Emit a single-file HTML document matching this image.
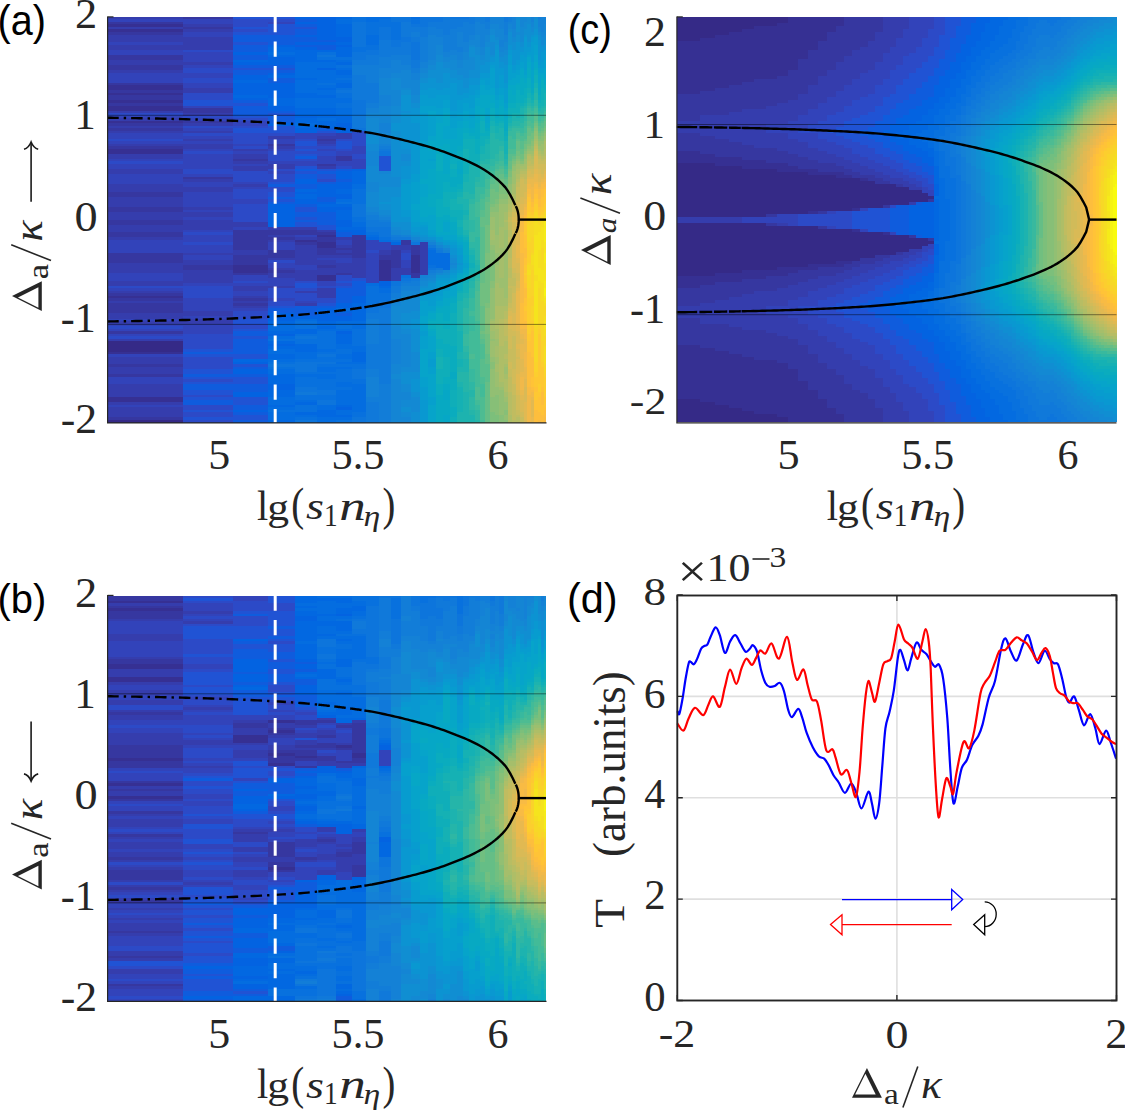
<!DOCTYPE html><html><head><meta charset="utf-8"><style>html,body{margin:0;padding:0;background:#fff;width:1125px;height:1110px;overflow:hidden}svg{display:block}text{font-family:"Liberation Serif", serif;fill:#262626}.s{font-family:"Liberation Sans", sans-serif;fill:#000}</style></head><body><svg width="1125" height="1110" viewBox="0 0 1125 1110"><g shape-rendering="crispEdges"><path fill="#353dad" d="M107 17h76v2h-76zM107 27h76v2h-76zM107 35h76v7h-76zM107 45h76v5h-76zM107 60h76v5h-76zM107 70h76v3h-76zM107 111h76v2h-76zM107 118h76v3h-76zM107 126h76v2h-76zM107 131h76v2h-76zM107 144h76v2h-76zM107 154h76v5h-76zM107 169h76v5h-76zM107 184h76v8h-76zM107 197h76v10h-76zM107 212h76v8h-76zM107 225h76v7h-76zM107 237h76v3h-76zM107 263h76v10h-76zM107 281h76v5h-76zM107 291h76v2h-76zM107 301h76v2h-76zM107 313h76v6h-76zM107 321h76v3h-76zM107 339h76v2h-76zM107 357h76v7h-76zM107 367h76v7h-76zM107 384h76v13h-76zM107 402h76v3h-76zM107 407h76v10h-76zM183 24h50v3h-50zM183 29h50v3h-50zM183 37h50v13h-50zM183 62h50v3h-50zM183 88h50v5h-50zM183 113h50v3h-50zM183 123h50v3h-50zM183 131h50v2h-50zM183 139h50v2h-50zM183 144h50v5h-50zM183 179h50v3h-50zM183 187h50v5h-50zM183 207h50v3h-50zM183 212h50v5h-50zM183 220h50v10h-50zM183 253h50v2h-50zM183 260h50v5h-50zM183 270h50v13h-50zM183 311h50v5h-50zM183 319h50v5h-50zM233 149h35v2h-35zM233 154h35v5h-35zM233 161h35v3h-35zM233 166h35v5h-35zM233 184h35v3h-35zM233 222h35v5h-35zM233 250h35v5h-35zM233 286h35v5h-35zM233 296h35v2h-35zM233 301h35v2h-35zM233 306h35v2h-35zM268 136h27v3h-27zM268 146h27v3h-27zM268 164h27v5h-27zM268 227h27v3h-27zM268 235h27v2h-27zM268 240h27v2h-27zM268 258h27v2h-27zM268 268h27v2h-27zM268 273h27v5h-27zM268 286h27v2h-27zM295 227h22v3h-22zM295 237h22v3h-22zM295 245h22v20h-22zM295 270h22v11h-22zM295 291h22v2h-22zM295 303h22v3h-22zM317 136h19v3h-19zM317 141h19v3h-19zM317 166h19v3h-19zM317 230h19v2h-19zM317 255h19v3h-19zM317 260h19v5h-19zM317 268h19v7h-19zM317 288h19v10h-19zM336 133h16v6h-16zM336 237h16v3h-16zM336 245h16v3h-16zM336 250h16v3h-16zM336 255h16v3h-16zM336 263h16v10h-16zM352 258h14v20h-14zM379 250h12v5h-12zM391 245h10v5h-10zM391 268h10v13h-10zM401 245h10v5h-10zM401 268h10v7h-10zM420 242h8v33h-8z"/><path fill="#3243ba" d="M107 19h76v3h-76zM107 42h76v3h-76zM107 50h76v5h-76zM107 73h76v10h-76zM107 116h76v2h-76zM107 133h76v6h-76zM107 141h76v3h-76zM107 159h76v2h-76zM107 164h76v5h-76zM107 174h76v10h-76zM107 240h76v13h-76zM107 273h76v8h-76zM107 288h76v3h-76zM107 319h76v2h-76zM107 324h76v2h-76zM107 329h76v2h-76zM107 334h76v2h-76zM107 354h76v3h-76zM107 377h76v7h-76zM107 405h76v2h-76zM183 19h50v5h-50zM183 32h50v5h-50zM183 52h50v10h-50zM183 65h50v3h-50zM183 73h50v5h-50zM183 83h50v5h-50zM183 106h50v2h-50zM183 118h50v3h-50zM183 128h50v3h-50zM183 136h50v3h-50zM183 141h50v3h-50zM183 149h50v2h-50zM183 154h50v15h-50zM183 174h50v3h-50zM183 182h50v5h-50zM183 192h50v15h-50zM183 210h50v2h-50zM183 217h50v3h-50zM183 230h50v2h-50zM183 235h50v7h-50zM183 245h50v8h-50zM183 255h50v5h-50zM183 283h50v3h-50zM183 298h50v13h-50zM183 316h50v3h-50zM183 324h50v10h-50zM233 121h35v5h-35zM233 144h35v2h-35zM233 151h35v3h-35zM233 164h35v2h-35zM233 182h35v2h-35zM233 187h35v2h-35zM233 199h35v5h-35zM233 227h35v3h-35zM233 275h35v6h-35zM233 283h35v3h-35zM233 291h35v5h-35zM233 308h35v3h-35zM268 22h27v2h-27zM268 139h27v5h-27zM268 149h27v2h-27zM268 161h27v3h-27zM268 171h27v3h-27zM268 242h27v8h-27zM268 263h27v5h-27zM268 278h27v8h-27zM268 298h27v3h-27zM295 133h22v6h-22zM295 161h22v5h-22zM295 235h22v2h-22zM295 265h22v5h-22zM295 301h22v2h-22zM317 133h19v3h-19zM317 144h19v2h-19zM317 149h19v2h-19zM317 156h19v8h-19zM317 258h19v2h-19zM317 281h19v5h-19zM336 151h16v5h-16zM336 161h16v5h-16zM336 240h16v5h-16zM336 258h16v5h-16zM352 146h14v8h-14zM352 159h14v10h-14zM366 240h13v10h-13zM366 253h13v30h-13zM379 242h12v8h-12zM401 250h10v3h-10zM401 260h10v8h-10z"/><path fill="#3637a0" d="M107 22h76v2h-76zM107 32h76v3h-76zM107 55h76v5h-76zM107 65h76v5h-76zM107 83h76v2h-76zM107 90h76v3h-76zM107 95h76v5h-76zM107 103h76v3h-76zM107 123h76v3h-76zM107 128h76v3h-76zM107 146h76v3h-76zM107 192h76v5h-76zM107 207h76v5h-76zM107 220h76v5h-76zM107 232h76v5h-76zM107 253h76v10h-76zM107 293h76v3h-76zM107 298h76v3h-76zM107 303h76v10h-76zM107 331h76v3h-76zM107 364h76v3h-76zM107 374h76v3h-76zM107 417h76v3h-76zM183 17h50v2h-50zM183 27h50v2h-50zM183 108h50v5h-50zM183 121h50v2h-50zM183 177h50v2h-50zM183 265h50v5h-50zM233 159h35v2h-35zM233 230h35v20h-35zM233 255h35v10h-35zM233 273h35v2h-35zM233 298h35v3h-35zM233 303h35v3h-35zM268 144h27v2h-27zM268 230h27v5h-27zM268 237h27v3h-27zM268 250h27v8h-27zM268 270h27v3h-27zM295 230h22v5h-22zM295 242h22v3h-22zM317 139h19v2h-19zM317 164h19v2h-19zM317 232h19v3h-19zM317 237h19v5h-19zM317 248h19v7h-19zM317 265h19v3h-19zM336 156h16v5h-16zM336 248h16v2h-16zM336 253h16v2h-16zM336 273h16v2h-16zM352 235h14v23h-14zM379 255h12v5h-12zM391 250h10v18h-10zM401 240h10v5h-10zM411 245h9v10h-9zM411 273h9v5h-9z"/><path fill="#363093" d="M107 24h76v3h-76zM107 29h76v3h-76zM107 85h76v5h-76zM107 93h76v2h-76zM107 100h76v3h-76zM107 106h76v5h-76zM107 121h76v2h-76zM107 149h76v5h-76zM107 296h76v2h-76zM107 352h76v2h-76zM107 397h76v5h-76zM233 265h35v8h-35zM295 240h22v2h-22zM317 235h19v2h-19zM317 242h19v6h-19zM317 275h19v6h-19zM379 260h12v21h-12zM411 255h9v18h-9z"/><path fill="#2c4ac7" d="M107 113h76v3h-76zM107 139h76v2h-76zM107 161h76v3h-76zM107 286h76v2h-76zM107 326h76v3h-76zM107 336h76v3h-76zM183 50h50v2h-50zM183 68h50v5h-50zM183 78h50v5h-50zM183 93h50v7h-50zM183 116h50v2h-50zM183 126h50v2h-50zM183 133h50v3h-50zM183 151h50v3h-50zM183 169h50v5h-50zM183 232h50v3h-50zM183 242h50v3h-50zM183 286h50v12h-50zM183 334h50v15h-50zM183 357h50v12h-50zM183 379h50v3h-50zM183 395h50v2h-50zM183 405h50v5h-50zM183 412h50v5h-50zM183 420h50v3h-50zM233 19h35v8h-35zM233 29h35v3h-35zM233 118h35v3h-35zM233 126h35v2h-35zM233 133h35v11h-35zM233 146h35v3h-35zM233 171h35v11h-35zM233 189h35v10h-35zM233 204h35v18h-35zM233 281h35v2h-35zM233 311h35v8h-35zM233 324h35v5h-35zM268 19h27v3h-27zM268 133h27v3h-27zM268 151h27v10h-27zM268 169h27v2h-27zM268 174h27v8h-27zM268 187h27v5h-27zM268 260h27v3h-27zM268 288h27v10h-27zM268 301h27v5h-27zM295 139h22v2h-22zM295 146h22v3h-22zM295 151h22v3h-22zM295 159h22v2h-22zM295 281h22v2h-22zM295 288h22v3h-22zM295 293h22v8h-22zM317 146h19v3h-19zM317 151h19v5h-19zM317 179h19v3h-19zM317 286h19v2h-19zM317 298h19v5h-19zM336 139h16v2h-16zM336 149h16v2h-16zM336 166h16v3h-16zM336 275h16v6h-16zM336 283h16v3h-16zM352 131h14v15h-14zM352 154h14v5h-14zM366 250h13v3h-13zM401 253h10v7h-10z"/><path fill="#352a87" d="M107 341h76v11h-76zM107 420h76v3h-76z"/><path fill="#2053d4" d="M183 100h50v6h-50zM183 349h50v3h-50zM183 354h50v3h-50zM183 369h50v5h-50zM183 377h50v2h-50zM183 382h50v2h-50zM183 390h50v5h-50zM183 397h50v3h-50zM183 410h50v2h-50zM183 417h50v3h-50zM233 17h35v2h-35zM233 27h35v2h-35zM233 32h35v3h-35zM233 42h35v3h-35zM233 68h35v2h-35zM233 103h35v3h-35zM233 116h35v2h-35zM233 128h35v5h-35zM233 319h35v5h-35zM233 329h35v2h-35zM233 336h35v3h-35zM233 354h35v5h-35zM233 364h35v3h-35zM233 377h35v7h-35zM233 397h35v8h-35zM233 415h35v5h-35zM268 17h27v2h-27zM268 24h27v11h-27zM268 68h27v2h-27zM268 113h27v3h-27zM268 126h27v7h-27zM268 182h27v2h-27zM268 192h27v5h-27zM268 199h27v3h-27zM268 306h27v2h-27zM295 27h22v2h-22zM295 141h22v5h-22zM295 149h22v2h-22zM295 154h22v2h-22zM295 166h22v3h-22zM295 171h22v3h-22zM295 207h22v5h-22zM295 217h22v3h-22zM295 222h22v5h-22zM295 283h22v5h-22zM317 131h19v2h-19zM317 169h19v2h-19zM317 174h19v5h-19zM317 225h19v5h-19zM317 303h19v3h-19zM336 141h16v8h-16zM336 281h16v2h-16zM336 286h16v2h-16zM352 278h14v3h-14zM379 156h12v15h-12z"/><path fill="#0f5cdd" d="M183 352h50v2h-50zM183 374h50v3h-50zM183 384h50v6h-50zM183 400h50v5h-50zM233 35h35v7h-35zM233 45h35v7h-35zM233 55h35v5h-35zM233 65h35v3h-35zM233 70h35v5h-35zM233 100h35v3h-35zM233 106h35v10h-35zM233 331h35v5h-35zM233 339h35v15h-35zM233 367h35v2h-35zM233 374h35v3h-35zM233 384h35v8h-35zM233 405h35v5h-35zM233 412h35v3h-35zM233 420h35v3h-35zM268 35h27v10h-27zM268 65h27v3h-27zM268 70h27v3h-27zM268 78h27v5h-27zM268 111h27v2h-27zM268 116h27v7h-27zM268 184h27v3h-27zM268 197h27v2h-27zM268 202h27v2h-27zM268 308h27v5h-27zM295 19h22v3h-22zM295 24h22v3h-22zM295 29h22v6h-22zM295 37h22v5h-22zM295 45h22v2h-22zM295 156h22v3h-22zM295 169h22v2h-22zM295 174h22v5h-22zM295 184h22v5h-22zM295 204h22v3h-22zM295 212h22v5h-22zM295 220h22v2h-22zM295 306h22v10h-22zM317 40h19v2h-19zM317 45h19v5h-19zM317 128h19v3h-19zM317 171h19v3h-19zM317 182h19v2h-19zM317 197h19v5h-19zM317 212h19v13h-19zM317 306h19v2h-19zM336 169h16v2h-16zM336 179h16v3h-16zM336 232h16v5h-16zM336 288h16v15h-16zM336 313h16v3h-16zM352 281h14v15h-14z"/><path fill="#0363e1" d="M233 52h35v3h-35zM233 62h35v3h-35zM233 75h35v5h-35zM233 83h35v12h-35zM233 98h35v2h-35zM233 362h35v2h-35zM233 369h35v5h-35zM233 392h35v5h-35zM233 410h35v2h-35zM268 45h27v2h-27zM268 57h27v8h-27zM268 73h27v2h-27zM268 83h27v15h-27zM268 106h27v5h-27zM268 123h27v3h-27zM268 204h27v23h-27zM268 313h27v8h-27zM268 334h27v2h-27zM268 344h27v2h-27zM268 384h27v6h-27zM295 17h22v2h-22zM295 22h22v2h-22zM295 35h22v2h-22zM295 42h22v3h-22zM295 47h22v3h-22zM295 116h22v2h-22zM295 128h22v5h-22zM295 179h22v5h-22zM295 192h22v2h-22zM295 199h22v5h-22zM295 316h22v3h-22zM317 17h19v23h-19zM317 42h19v3h-19zM317 68h19v2h-19zM317 184h19v13h-19zM317 202h19v2h-19zM317 207h19v5h-19zM317 308h19v13h-19zM336 37h16v5h-16zM336 45h16v2h-16zM336 123h16v10h-16zM336 171h16v8h-16zM336 182h16v7h-16zM336 194h16v5h-16zM336 207h16v3h-16zM336 220h16v7h-16zM336 230h16v2h-16zM336 303h16v5h-16zM336 311h16v2h-16zM336 316h16v5h-16zM336 331h16v3h-16zM336 407h16v3h-16zM352 169h14v2h-14zM352 230h14v5h-14zM352 296h14v7h-14zM379 281h12v5h-12z"/><path fill="#0268e1" d="M233 60h35v2h-35zM233 80h35v3h-35zM233 95h35v3h-35zM233 359h35v3h-35zM268 47h27v5h-27zM268 55h27v2h-27zM268 75h27v3h-27zM268 98h27v8h-27zM268 321h27v3h-27zM268 331h27v3h-27zM268 341h27v3h-27zM268 346h27v3h-27zM268 354h27v5h-27zM268 374h27v10h-27zM268 390h27v7h-27zM268 405h27v2h-27zM268 420h27v3h-27zM295 50h22v12h-22zM295 78h22v2h-22zM295 93h22v5h-22zM295 108h22v8h-22zM295 118h22v5h-22zM295 126h22v2h-22zM295 189h22v3h-22zM295 194h22v5h-22zM295 329h22v5h-22zM295 344h22v8h-22zM295 402h22v3h-22zM295 412h22v3h-22zM317 50h19v2h-19zM317 60h19v2h-19zM317 88h19v2h-19zM317 95h19v3h-19zM317 108h19v10h-19zM317 121h19v7h-19zM317 204h19v3h-19zM317 321h19v3h-19zM317 326h19v3h-19zM317 410h19v7h-19zM336 17h16v2h-16zM336 24h16v13h-16zM336 42h16v3h-16zM336 47h16v10h-16zM336 62h16v3h-16zM336 70h16v5h-16zM336 83h16v5h-16zM336 116h16v7h-16zM336 189h16v5h-16zM336 204h16v3h-16zM336 210h16v10h-16zM336 227h16v3h-16zM336 334h16v10h-16zM336 405h16v2h-16zM336 415h16v2h-16zM352 171h14v13h-14zM352 227h14v3h-14zM352 303h14v18h-14zM352 352h14v10h-14zM366 237h13v3h-13zM379 286h12v2h-12zM391 242h10v3h-10z"/><path fill="#046de0" d="M268 52h27v3h-27zM268 324h27v7h-27zM268 336h27v3h-27zM268 349h27v5h-27zM268 359h27v3h-27zM268 369h27v5h-27zM268 397h27v8h-27zM268 407h27v3h-27zM268 412h27v8h-27zM295 62h22v16h-22zM295 80h22v13h-22zM295 98h22v10h-22zM295 123h22v3h-22zM295 319h22v2h-22zM295 352h22v7h-22zM295 374h22v3h-22zM295 400h22v2h-22zM295 415h22v2h-22zM317 62h19v6h-19zM317 70h19v13h-19zM317 85h19v3h-19zM317 90h19v5h-19zM317 98h19v10h-19zM317 118h19v3h-19zM317 324h19v2h-19zM317 329h19v2h-19zM317 349h19v3h-19zM317 367h19v5h-19zM317 374h19v5h-19zM317 405h19v5h-19zM317 417h19v6h-19zM336 19h16v5h-16zM336 60h16v2h-16zM336 68h16v2h-16zM336 75h16v3h-16zM336 80h16v3h-16zM336 98h16v5h-16zM336 108h16v8h-16zM336 199h16v3h-16zM336 308h16v3h-16zM336 321h16v3h-16zM336 329h16v2h-16zM336 344h16v5h-16zM336 354h16v5h-16zM336 362h16v2h-16zM336 367h16v2h-16zM336 382h16v5h-16zM336 390h16v15h-16zM336 410h16v5h-16zM336 417h16v3h-16zM352 184h14v5h-14zM352 222h14v5h-14zM352 321h14v8h-14zM352 346h14v6h-14zM352 362h14v2h-14zM352 384h14v28h-14zM366 17h13v5h-13zM366 35h13v10h-13zM366 235h13v2h-13zM366 283h13v3h-13zM379 17h12v2h-12zM379 240h12v2h-12zM379 288h12v5h-12zM411 17h9v2h-9zM428 250h8v15h-8zM436 253h7v15h-7zM443 253h7v17h-7z"/><path fill="#0871de" d="M268 339h27v2h-27zM268 362h27v2h-27zM268 367h27v2h-27zM268 410h27v2h-27zM295 321h22v8h-22zM295 334h22v2h-22zM295 339h22v5h-22zM295 359h22v3h-22zM295 372h22v2h-22zM295 377h22v10h-22zM295 395h22v5h-22zM295 405h22v7h-22zM295 417h22v3h-22zM317 52h19v3h-19zM317 57h19v3h-19zM317 83h19v2h-19zM317 331h19v18h-19zM317 352h19v2h-19zM317 357h19v5h-19zM317 364h19v3h-19zM317 372h19v2h-19zM317 379h19v11h-19zM317 395h19v5h-19zM336 57h16v3h-16zM336 65h16v3h-16zM336 78h16v2h-16zM336 88h16v2h-16zM336 93h16v5h-16zM336 103h16v5h-16zM336 202h16v2h-16zM336 324h16v5h-16zM336 349h16v5h-16zM336 359h16v3h-16zM336 364h16v3h-16zM336 369h16v13h-16zM336 387h16v3h-16zM336 420h16v3h-16zM352 17h14v5h-14zM352 47h14v5h-14zM352 189h14v15h-14zM352 217h14v5h-14zM352 329h14v17h-14zM352 364h14v5h-14zM352 379h14v5h-14zM352 412h14v5h-14zM366 22h13v13h-13zM366 45h13v5h-13zM366 232h13v3h-13zM366 286h13v20h-13zM379 19h12v8h-12zM379 237h12v3h-12zM379 293h12v8h-12zM391 22h10v18h-10zM391 240h10v2h-10zM401 275h10v3h-10zM411 19h9v5h-9zM428 248h8v2h-8zM428 265h8v3h-8z"/><path fill="#0d75dc" d="M268 364h27v3h-27zM295 336h22v3h-22zM295 362h22v10h-22zM295 387h22v5h-22zM295 420h22v3h-22zM317 55h19v2h-19zM317 354h19v3h-19zM317 362h19v2h-19zM317 390h19v5h-19zM317 400h19v5h-19zM336 90h16v3h-16zM352 22h14v25h-14zM352 52h14v8h-14zM352 100h14v16h-14zM352 128h14v3h-14zM352 204h14v13h-14zM352 369h14v10h-14zM352 417h14v6h-14zM366 50h13v5h-13zM366 227h13v5h-13zM366 306h13v7h-13zM379 27h12v13h-12zM379 151h12v5h-12zM379 227h12v10h-12zM379 301h12v7h-12zM391 17h10v5h-10zM391 40h10v7h-10zM391 281h10v5h-10zM401 17h10v5h-10zM401 37h10v5h-10zM401 278h10v3h-10zM411 24h9v3h-9zM411 42h9v18h-9zM411 242h9v3h-9zM420 17h8v10h-8zM428 17h8v5h-8zM428 268h8v2h-8zM436 17h7v5h-7zM450 17h7v2h-7zM457 17h6v2h-6zM463 17h6v2h-6z"/><path fill="#1079da" d="M295 392h22v3h-22zM352 60h14v5h-14zM352 75h14v25h-14zM352 116h14v12h-14zM366 55h13v10h-13zM366 83h13v20h-13zM366 220h13v7h-13zM366 313h13v6h-13zM366 344h13v25h-13zM366 402h13v21h-13zM379 40h12v17h-12zM379 149h12v2h-12zM379 222h12v5h-12zM379 308h12v76h-12zM391 47h10v8h-10zM391 237h10v3h-10zM391 286h10v7h-10zM401 22h10v15h-10zM401 42h10v13h-10zM401 237h10v3h-10zM401 281h10v2h-10zM411 27h9v5h-9zM411 37h9v5h-9zM411 60h9v8h-9zM411 278h9v3h-9zM420 27h8v10h-8zM428 22h8v5h-8zM428 245h8v3h-8zM436 22h7v7h-7zM436 250h7v3h-7zM436 268h7v2h-7zM443 17h7v18h-7zM450 19h7v10h-7zM457 19h6v8h-6zM463 19h6v3h-6zM469 17h6v7h-6zM485 17h5v5h-5zM504 17h4v5h-4z"/><path fill="#127dd8" d="M352 65h14v10h-14zM366 65h13v18h-13zM366 103h13v5h-13zM366 215h13v5h-13zM366 319h13v25h-13zM366 369h13v8h-13zM366 397h13v5h-13zM379 57h12v11h-12zM379 146h12v3h-12zM379 220h12v2h-12zM379 384h12v39h-12zM391 55h10v5h-10zM391 235h10v2h-10zM391 293h10v5h-10zM401 55h10v10h-10zM401 283h10v3h-10zM411 32h9v5h-9zM411 68h9v5h-9zM411 240h9v2h-9zM411 281h9v5h-9zM420 37h8v25h-8zM428 27h8v8h-8zM428 270h8v3h-8zM436 29h7v8h-7zM436 248h7v2h-7zM443 35h7v17h-7zM450 29h7v21h-7zM457 27h6v5h-6zM457 47h6v5h-6zM463 22h6v20h-6zM469 24h6v11h-6zM475 17h5v5h-5zM480 17h5v7h-5zM485 22h5v7h-5zM504 22h4v13h-4zM508 17h4v5h-4zM538 17h3v2h-3z"/><path fill="#1481d6" d="M366 108h13v5h-13zM366 212h13v3h-13zM366 377h13v20h-13zM379 68h12v10h-12zM379 95h12v11h-12zM379 123h12v10h-12zM379 144h12v2h-12zM379 217h12v3h-12zM391 60h10v13h-10zM391 298h10v5h-10zM391 339h10v25h-10zM401 65h10v5h-10zM401 235h10v2h-10zM401 286h10v5h-10zM411 73h9v7h-9zM411 286h9v5h-9zM420 62h8v6h-8zM420 275h8v3h-8zM428 35h8v25h-8zM428 242h8v3h-8zM428 273h8v2h-8zM436 37h7v8h-7zM436 270h7v3h-7zM443 52h7v5h-7zM443 250h7v3h-7zM450 50h7v5h-7zM457 32h6v15h-6zM457 52h6v8h-6zM463 42h6v10h-6zM469 35h6v5h-6zM475 22h5v13h-5zM480 24h5v23h-5zM485 29h5v6h-5zM490 17h5v7h-5zM495 17h4v7h-4zM499 17h5v12h-5zM499 40h5v7h-5zM504 35h4v7h-4zM508 22h4v2h-4zM512 17h4v12h-4zM531 17h3v5h-3zM538 19h3v8h-3zM541 17h3v15h-3zM544 17h2v7h-2z"/><path fill="#1485d4" d="M366 113h13v5h-13zM366 151h13v15h-13zM366 182h13v10h-13zM366 207h13v5h-13zM379 78h12v17h-12zM379 106h12v17h-12zM379 133h12v11h-12zM379 171h12v3h-12zM379 215h12v2h-12zM391 73h10v5h-10zM391 90h10v16h-10zM391 230h10v5h-10zM391 303h10v3h-10zM391 326h10v13h-10zM391 364h10v10h-10zM391 379h10v44h-10zM401 70h10v18h-10zM401 291h10v5h-10zM401 334h10v33h-10zM401 392h10v8h-10zM401 417h10v6h-10zM411 80h9v15h-9zM411 237h9v3h-9zM411 291h9v5h-9zM420 68h8v5h-8zM420 240h8v2h-8zM420 278h8v3h-8zM428 60h8v5h-8zM428 275h8v3h-8zM436 45h7v10h-7zM436 245h7v3h-7zM443 57h7v5h-7zM443 248h7v2h-7zM450 55h7v5h-7zM450 263h7v2h-7zM457 60h6v8h-6zM463 52h6v8h-6zM469 40h6v5h-6zM475 35h5v12h-5zM480 47h5v8h-5zM485 35h5v7h-5zM490 24h5v5h-5zM495 24h4v13h-4zM499 29h5v11h-5zM499 47h5v5h-5zM504 42h4v8h-4zM508 24h4v5h-4zM512 29h4v8h-4zM520 17h4v10h-4zM524 17h3v5h-3zM531 22h3v5h-3zM538 27h3v5h-3zM541 32h3v5h-3zM544 24h2v11h-2z"/><path fill="#1389d3" d="M366 118h13v18h-13zM366 144h13v7h-13zM366 166h13v16h-13zM366 192h13v15h-13zM379 174h12v13h-12zM379 210h12v5h-12zM391 78h10v12h-10zM391 106h10v10h-10zM391 177h10v10h-10zM391 227h10v3h-10zM391 306h10v20h-10zM391 374h10v5h-10zM401 88h10v2h-10zM401 154h10v7h-10zM401 230h10v5h-10zM401 296h10v17h-10zM401 329h10v5h-10zM401 367h10v5h-10zM401 384h10v8h-10zM401 400h10v7h-10zM401 412h10v5h-10zM411 95h9v8h-9zM411 296h9v15h-9zM411 352h9v20h-9zM411 397h9v15h-9zM420 73h8v5h-8zM420 281h8v5h-8zM428 65h8v5h-8zM428 240h8v2h-8zM428 278h8v3h-8zM436 55h7v7h-7zM436 273h7v2h-7zM443 62h7v6h-7zM443 270h7v3h-7zM450 60h7v10h-7zM450 258h7v5h-7zM450 265h7v3h-7zM457 68h6v7h-6zM463 60h6v18h-6zM469 45h6v2h-6zM469 57h6v13h-6zM475 47h5v8h-5zM480 55h5v5h-5zM485 42h5v5h-5zM490 29h5v6h-5zM490 42h5v13h-5zM495 37h4v3h-4zM499 52h5v5h-5zM504 50h4v5h-4zM508 29h4v3h-4zM512 37h4v5h-4zM516 17h4v2h-4zM516 32h4v3h-4zM520 27h4v15h-4zM524 22h3v7h-3zM527 17h4v7h-4zM531 27h3v5h-3zM534 17h4v2h-4zM538 32h3v3h-3zM541 37h3v8h-3zM544 35h2v5h-2z"/><path fill="#108ed2" d="M366 136h13v8h-13zM379 187h12v15h-12zM379 204h12v6h-12zM391 116h10v7h-10zM391 131h10v46h-10zM391 187h10v10h-10zM391 222h10v5h-10zM401 90h10v5h-10zM401 111h10v2h-10zM401 149h10v5h-10zM401 161h10v5h-10zM401 222h10v8h-10zM401 313h10v16h-10zM401 372h10v12h-10zM401 407h10v5h-10zM411 103h9v5h-9zM411 235h9v2h-9zM411 311h9v8h-9zM411 329h9v23h-9zM411 372h9v7h-9zM411 392h9v5h-9zM411 412h9v11h-9zM420 78h8v5h-8zM420 237h8v3h-8zM420 286h8v2h-8zM428 70h8v8h-8zM428 281h8v2h-8zM436 62h7v21h-7zM436 242h7v3h-7zM443 68h7v5h-7zM443 245h7v3h-7zM443 273h7v2h-7zM450 70h7v8h-7zM450 255h7v3h-7zM450 268h7v2h-7zM457 75h6v5h-6zM463 78h6v10h-6zM469 47h6v10h-6zM469 70h6v8h-6zM475 55h5v23h-5zM480 60h5v5h-5zM485 47h5v15h-5zM490 35h5v7h-5zM490 55h5v2h-5zM495 40h4v5h-4zM499 57h5v5h-5zM504 55h4v10h-4zM508 32h4v13h-4zM512 42h4v8h-4zM516 19h4v13h-4zM516 35h4v7h-4zM520 42h4v5h-4zM524 29h3v6h-3zM527 24h4v18h-4zM531 32h3v3h-3zM534 19h4v10h-4zM538 35h3v5h-3zM541 45h3v2h-3zM544 40h2v5h-2z"/><path fill="#0c93d2" d="M379 202h12v2h-12zM391 123h10v8h-10zM391 197h10v25h-10zM401 95h10v16h-10zM401 113h10v36h-10zM401 166h10v13h-10zM401 217h10v5h-10zM411 108h9v8h-9zM411 123h9v18h-9zM411 232h9v3h-9zM411 319h9v10h-9zM411 379h9v13h-9zM420 83h8v7h-8zM420 235h8v2h-8zM420 288h8v3h-8zM428 78h8v10h-8zM428 237h8v3h-8zM428 283h8v8h-8zM436 83h7v7h-7zM436 275h7v3h-7zM443 73h7v15h-7zM443 275h7v3h-7zM450 78h7v5h-7zM450 248h7v7h-7zM450 270h7v3h-7zM457 80h6v15h-6zM457 263h6v2h-6zM463 88h6v5h-6zM469 78h6v7h-6zM475 78h5v7h-5zM480 65h5v8h-5zM485 62h5v11h-5zM490 57h5v5h-5zM495 45h4v5h-4zM499 62h5v6h-5zM504 65h4v18h-4zM508 45h4v5h-4zM512 50h4v15h-4zM516 42h4v18h-4zM520 47h4v5h-4zM524 35h3v2h-3zM527 42h4v5h-4zM531 35h3v2h-3zM534 29h4v6h-4zM538 40h3v20h-3zM541 47h3v5h-3zM544 45h2v5h-2z"/><path fill="#0998d1" d="M401 179h10v5h-10zM401 210h10v7h-10zM411 116h9v7h-9zM411 141h9v33h-9zM411 227h9v5h-9zM420 90h8v5h-8zM420 227h8v8h-8zM420 291h8v5h-8zM420 400h8v23h-8zM428 88h8v10h-8zM428 291h8v5h-8zM436 90h7v5h-7zM436 240h7v2h-7zM436 278h7v3h-7zM443 88h7v7h-7zM443 242h7v3h-7zM443 278h7v3h-7zM450 83h7v28h-7zM450 245h7v3h-7zM450 273h7v2h-7zM457 95h6v5h-6zM457 255h6v8h-6zM457 265h6v5h-6zM463 93h6v5h-6zM469 85h6v10h-6zM475 85h5v5h-5zM480 73h5v5h-5zM485 73h5v5h-5zM490 62h5v3h-5zM495 50h4v38h-4zM499 68h5v7h-5zM504 83h4v5h-4zM508 50h4v5h-4zM512 65h4v5h-4zM516 60h4v5h-4zM520 52h4v3h-4zM524 37h3v20h-3zM527 47h4v5h-4zM531 37h3v5h-3zM534 35h4v2h-4zM538 60h3v5h-3zM541 52h3v10h-3zM544 50h2v5h-2z"/><path fill="#079ccf" d="M401 184h10v26h-10zM411 174h9v8h-9zM411 222h9v5h-9zM420 95h8v11h-8zM420 113h8v28h-8zM420 225h8v2h-8zM420 296h8v5h-8zM420 331h8v5h-8zM420 387h8v13h-8zM428 98h8v8h-8zM428 235h8v2h-8zM428 296h8v10h-8zM428 359h8v8h-8zM436 95h7v13h-7zM436 237h7v3h-7zM436 281h7v15h-7zM443 95h7v5h-7zM443 240h7v2h-7zM443 281h7v2h-7zM450 111h7v7h-7zM450 242h7v3h-7zM450 275h7v3h-7zM457 100h6v13h-6zM457 248h6v7h-6zM457 270h6v3h-6zM463 98h6v5h-6zM469 95h6v13h-6zM475 90h5v5h-5zM480 78h5v2h-5zM485 78h5v7h-5zM490 65h5v3h-5zM495 88h4v7h-4zM499 75h5v13h-5zM504 88h4v15h-4zM508 55h4v10h-4zM512 70h4v3h-4zM516 65h4v5h-4zM520 55h4v7h-4zM524 57h3v13h-3zM527 52h4v3h-4zM531 42h3v20h-3zM534 37h4v8h-4zM538 65h3v3h-3zM541 62h3v6h-3zM544 55h2v5h-2z"/><path fill="#06a0cd" d="M411 182h9v22h-9zM411 210h9v12h-9zM420 106h8v7h-8zM420 141h8v8h-8zM420 222h8v3h-8zM420 301h8v15h-8zM420 324h8v7h-8zM420 336h8v13h-8zM420 377h8v10h-8zM428 106h8v5h-8zM428 116h8v20h-8zM428 159h8v2h-8zM428 230h8v5h-8zM428 306h8v5h-8zM428 352h8v7h-8zM428 367h8v7h-8zM428 397h8v8h-8zM436 108h7v8h-7zM436 296h7v5h-7zM443 100h7v8h-7zM443 283h7v8h-7zM450 118h7v10h-7zM450 240h7v2h-7zM450 278h7v3h-7zM457 113h6v8h-6zM457 245h6v3h-6zM463 103h6v8h-6zM463 263h6v5h-6zM469 108h6v10h-6zM475 95h5v3h-5zM480 80h5v5h-5zM485 85h5v5h-5zM490 68h5v20h-5zM495 95h4v5h-4zM499 88h5v7h-5zM504 103h4v5h-4zM508 65h4v15h-4zM512 73h4v5h-4zM516 70h4v5h-4zM520 62h4v6h-4zM524 70h3v5h-3zM527 55h4v2h-4zM531 62h3v8h-3zM534 45h4v10h-4zM538 68h3v5h-3zM541 68h3v5h-3zM544 60h2v8h-2z"/><path fill="#06a4ca" d="M411 204h9v6h-9zM420 149h8v30h-8zM420 184h8v13h-8zM420 217h8v5h-8zM420 316h8v8h-8zM420 349h8v28h-8zM428 111h8v5h-8zM428 136h8v5h-8zM428 151h8v8h-8zM428 161h8v8h-8zM428 215h8v15h-8zM428 311h8v2h-8zM428 336h8v16h-8zM428 374h8v23h-8zM428 405h8v18h-8zM436 116h7v7h-7zM436 235h7v2h-7zM436 301h7v5h-7zM443 108h7v5h-7zM443 126h7v13h-7zM443 222h7v10h-7zM443 235h7v5h-7zM443 291h7v7h-7zM450 128h7v11h-7zM450 235h7v5h-7zM450 281h7v15h-7zM457 121h6v7h-6zM457 242h6v3h-6zM457 273h6v2h-6zM463 111h6v10h-6zM463 260h6v3h-6zM463 268h6v2h-6zM469 118h6v10h-6zM475 98h5v8h-5zM480 85h5v10h-5zM485 90h5v5h-5zM485 108h5v15h-5zM490 88h5v7h-5zM495 100h4v8h-4zM499 95h5v5h-5zM504 108h4v3h-4zM508 80h4v5h-4zM512 78h4v7h-4zM516 75h4v8h-4zM520 68h4v2h-4zM524 75h3v3h-3zM527 57h4v5h-4zM531 70h3v13h-3zM534 55h4v7h-4zM538 73h3v10h-3zM541 73h3v2h-3zM544 68h2v10h-2z"/><path fill="#06a7c6" d="M420 179h8v5h-8zM420 197h8v20h-8zM428 141h8v10h-8zM428 169h8v25h-8zM428 207h8v8h-8zM428 313h8v6h-8zM428 331h8v5h-8zM436 123h7v23h-7zM436 232h7v3h-7zM436 306h7v2h-7zM443 113h7v13h-7zM443 139h7v5h-7zM443 154h7v20h-7zM443 220h7v2h-7zM443 232h7v3h-7zM443 298h7v8h-7zM443 390h7v10h-7zM443 415h7v8h-7zM450 139h7v15h-7zM450 230h7v5h-7zM450 296h7v2h-7zM457 128h6v18h-6zM457 169h6v5h-6zM457 240h6v2h-6zM457 275h6v3h-6zM463 121h6v7h-6zM463 255h6v5h-6zM463 270h6v3h-6zM469 128h6v5h-6zM475 106h5v17h-5zM480 95h5v13h-5zM485 95h5v13h-5zM485 123h5v5h-5zM490 95h5v8h-5zM495 108h4v8h-4zM499 100h5v6h-5zM504 111h4v7h-4zM508 85h4v5h-4zM512 85h4v10h-4zM516 83h4v2h-4zM520 70h4v8h-4zM524 78h3v5h-3zM527 62h4v6h-4zM531 83h3v5h-3zM534 62h4v6h-4zM538 83h3v7h-3zM541 75h3v3h-3zM544 78h2v5h-2z"/><path fill="#07a9c2" d="M428 194h8v13h-8zM428 319h8v2h-8zM428 329h8v2h-8zM436 146h7v8h-7zM436 171h7v28h-7zM436 217h7v15h-7zM436 308h7v5h-7zM436 395h7v28h-7zM443 144h7v10h-7zM443 174h7v8h-7zM443 215h7v5h-7zM443 306h7v15h-7zM443 384h7v6h-7zM443 400h7v15h-7zM450 154h7v5h-7zM450 177h7v10h-7zM450 222h7v8h-7zM450 298h7v5h-7zM450 372h7v7h-7zM457 146h6v5h-6zM457 161h6v8h-6zM457 174h6v10h-6zM457 237h6v3h-6zM457 278h6v5h-6zM463 128h6v5h-6zM463 242h6v13h-6zM463 273h6v2h-6zM469 133h6v3h-6zM475 123h5v16h-5zM480 108h5v8h-5zM485 128h5v3h-5zM490 103h5v5h-5zM495 116h4v2h-4zM499 106h5v10h-5zM504 118h4v13h-4zM508 90h4v13h-4zM512 95h4v8h-4zM516 85h4v5h-4zM520 78h4v17h-4zM524 83h3v5h-3zM527 68h4v10h-4zM531 88h3v5h-3zM534 68h4v2h-4zM538 90h3v5h-3zM541 78h3v2h-3zM544 83h2v2h-2z"/><path fill="#0aacbe" d="M428 321h8v8h-8zM436 154h7v17h-7zM436 199h7v18h-7zM436 313h7v11h-7zM436 339h7v10h-7zM436 384h7v11h-7zM443 182h7v10h-7zM443 207h7v8h-7zM443 321h7v8h-7zM443 344h7v13h-7zM443 377h7v7h-7zM450 159h7v5h-7zM450 169h7v8h-7zM450 187h7v5h-7zM450 217h7v5h-7zM450 303h7v10h-7zM450 346h7v26h-7zM450 379h7v11h-7zM450 407h7v10h-7zM457 151h6v10h-6zM457 184h6v5h-6zM457 235h6v2h-6zM457 283h6v8h-6zM463 133h6v6h-6zM463 240h6v2h-6zM463 275h6v3h-6zM469 136h6v3h-6zM475 139h5v15h-5zM480 116h5v5h-5zM480 133h5v3h-5zM485 131h5v5h-5zM490 108h5v8h-5zM495 118h4v5h-4zM499 116h5v5h-5zM504 131h4v5h-4zM508 103h4v5h-4zM512 103h4v5h-4zM516 90h4v13h-4zM520 95h4v8h-4zM524 88h3v10h-3zM527 78h4v10h-4zM531 93h3v2h-3zM534 70h4v5h-4zM538 95h3v5h-3zM541 80h3v8h-3zM544 85h2v5h-2z"/><path fill="#0faeb9" d="M436 324h7v15h-7zM436 349h7v8h-7zM436 369h7v15h-7zM443 192h7v15h-7zM443 329h7v15h-7zM443 357h7v20h-7zM450 164h7v5h-7zM450 192h7v7h-7zM450 210h7v7h-7zM450 313h7v33h-7zM450 390h7v17h-7zM450 417h7v6h-7zM457 189h6v3h-6zM457 210h6v10h-6zM457 227h6v8h-6zM457 291h6v2h-6zM463 139h6v10h-6zM463 159h6v15h-6zM463 237h6v3h-6zM463 278h6v5h-6zM469 139h6v25h-6zM469 263h6v5h-6zM475 154h5v7h-5zM480 121h5v12h-5zM480 136h5v10h-5zM485 136h5v3h-5zM490 116h5v5h-5zM495 123h4v3h-4zM499 121h5v2h-5zM504 136h4v5h-4zM508 108h4v10h-4zM512 108h4v5h-4zM516 103h4v10h-4zM520 103h4v3h-4zM524 98h3v5h-3zM527 88h4v5h-4zM531 95h3v5h-3zM534 75h4v8h-4zM538 100h3v3h-3zM541 88h3v12h-3zM544 90h2v3h-2z"/><path fill="#15b1b4" d="M436 357h7v12h-7zM450 199h7v11h-7zM457 192h6v5h-6zM457 204h6v6h-6zM457 220h6v7h-6zM457 293h6v8h-6zM457 331h6v21h-6zM457 359h6v8h-6zM457 387h6v25h-6zM463 149h6v10h-6zM463 174h6v8h-6zM463 210h6v5h-6zM463 235h6v2h-6zM463 283h6v10h-6zM469 164h6v2h-6zM469 255h6v8h-6zM469 268h6v5h-6zM475 161h5v5h-5zM480 146h5v8h-5zM485 139h5v5h-5zM490 121h5v5h-5zM495 126h4v7h-4zM499 123h5v5h-5zM504 141h4v13h-4zM508 118h4v5h-4zM512 113h4v3h-4zM516 113h4v5h-4zM520 106h4v2h-4zM524 103h3v3h-3zM527 93h4v5h-4zM531 100h3v3h-3zM534 83h4v5h-4zM538 103h3v5h-3zM541 100h3v6h-3zM544 93h2v7h-2z"/><path fill="#1db3af" d="M457 197h6v7h-6zM457 301h6v30h-6zM457 352h6v7h-6zM457 367h6v5h-6zM457 382h6v5h-6zM457 412h6v11h-6zM463 182h6v10h-6zM463 199h6v11h-6zM463 215h6v5h-6zM463 230h6v5h-6zM463 293h6v5h-6zM463 359h6v13h-6zM463 392h6v31h-6zM469 166h6v28h-6zM469 250h6v5h-6zM469 273h6v8h-6zM469 415h6v8h-6zM475 166h5v11h-5zM475 265h5v5h-5zM480 154h5v7h-5zM485 144h5v15h-5zM490 126h5v7h-5zM495 133h4v6h-4zM499 128h5v13h-5zM504 154h4v5h-4zM508 123h4v3h-4zM512 116h4v5h-4zM516 118h4v3h-4zM520 108h4v10h-4zM524 106h3v2h-3zM527 98h4v5h-4zM531 103h3v3h-3zM534 88h4v5h-4zM538 108h3v3h-3zM541 106h3v2h-3zM544 100h2v6h-2z"/><path fill="#25b5a9" d="M457 372h6v10h-6zM463 192h6v7h-6zM463 220h6v10h-6zM463 298h6v10h-6zM463 352h6v7h-6zM463 372h6v20h-6zM469 194h6v5h-6zM469 248h6v2h-6zM469 281h6v7h-6zM469 390h6v7h-6zM469 410h6v5h-6zM475 177h5v5h-5zM475 260h5v5h-5zM475 270h5v5h-5zM475 420h5v3h-5zM480 161h5v3h-5zM485 159h5v5h-5zM490 133h5v26h-5zM495 139h4v15h-4zM499 141h5v5h-5zM504 159h4v5h-4zM508 126h4v2h-4zM512 121h4v5h-4zM516 121h4v5h-4zM520 118h4v5h-4zM524 108h3v5h-3zM527 103h4v3h-4zM531 106h3v2h-3zM534 93h4v7h-4zM538 111h3v2h-3zM541 108h3v5h-3zM544 106h2v2h-2z"/><path fill="#2eb7a4" d="M463 308h6v26h-6zM463 346h6v6h-6zM469 199h6v5h-6zM469 220h6v12h-6zM469 242h6v6h-6zM469 288h6v10h-6zM469 382h6v8h-6zM469 397h6v13h-6zM475 182h5v5h-5zM475 237h5v23h-5zM475 275h5v3h-5zM475 410h5v10h-5zM480 164h5v23h-5zM485 164h5v5h-5zM490 159h5v7h-5zM495 154h4v7h-4zM499 146h5v5h-5zM504 164h4v2h-4zM508 128h4v3h-4zM512 126h4v2h-4zM516 126h4v2h-4zM520 123h4v5h-4zM524 113h3v8h-3zM527 106h4v2h-4zM531 108h3v3h-3zM534 100h4v6h-4zM538 113h3v3h-3zM541 113h3v3h-3zM544 108h2v3h-2z"/><path fill="#38b99e" d="M463 334h6v12h-6zM469 204h6v16h-6zM469 232h6v10h-6zM469 298h6v13h-6zM469 316h6v15h-6zM469 369h6v13h-6zM475 187h5v15h-5zM475 217h5v20h-5zM475 278h5v3h-5zM475 405h5v5h-5zM480 187h5v7h-5zM485 169h5v10h-5zM490 166h5v5h-5zM495 161h4v3h-4zM499 151h5v10h-5zM504 166h4v3h-4zM508 131h4v5h-4zM512 128h4v11h-4zM516 128h4v3h-4zM520 128h4v5h-4zM524 121h3v5h-3zM527 108h4v5h-4zM531 111h3v5h-3zM534 106h4v2h-4zM538 116h3v5h-3zM541 116h3v2h-3zM544 111h2v2h-2z"/><path fill="#42bb98" d="M469 311h6v5h-6zM469 331h6v23h-6zM469 359h6v10h-6zM475 202h5v15h-5zM475 281h5v10h-5zM475 321h5v66h-5zM475 400h5v5h-5zM480 194h5v5h-5zM480 384h5v13h-5zM480 420h5v3h-5zM485 179h5v10h-5zM490 171h5v6h-5zM495 164h4v5h-4zM499 161h5v5h-5zM504 169h4v5h-4zM508 136h4v13h-4zM512 139h4v10h-4zM516 131h4v2h-4zM520 133h4v3h-4zM524 126h3v7h-3zM527 113h4v8h-4zM531 116h3v7h-3zM534 108h4v5h-4zM538 121h3v2h-3zM541 118h3v3h-3zM544 113h2v3h-2z"/><path fill="#4dbc92" d="M469 354h6v5h-6zM475 291h5v30h-5zM475 387h5v13h-5zM480 199h5v11h-5zM480 344h5v15h-5zM480 377h5v7h-5zM480 397h5v23h-5zM485 189h5v8h-5zM490 177h5v2h-5zM495 169h4v2h-4zM499 166h5v3h-5zM504 174h4v3h-4zM508 149h4v5h-4zM512 149h4v5h-4zM516 133h4v6h-4zM520 136h4v5h-4zM524 133h3v6h-3zM527 121h4v5h-4zM531 123h3v5h-3zM534 113h4v3h-4zM538 123h3v3h-3zM541 121h3v2h-3zM544 116h2v2h-2z"/><path fill="#59bd8c" d="M480 210h5v7h-5zM480 227h5v41h-5zM480 339h5v5h-5zM480 359h5v18h-5zM485 197h5v5h-5zM485 364h5v18h-5zM490 179h5v5h-5zM495 171h4v8h-4zM499 169h5v5h-5zM504 177h4v2h-4zM508 154h4v7h-4zM512 154h4v2h-4zM516 139h4v2h-4zM520 141h4v8h-4zM524 139h3v2h-3zM527 126h4v2h-4zM531 128h3v3h-3zM534 116h4v5h-4zM538 126h3v5h-3zM541 123h3v5h-3zM544 118h2v3h-2z"/><path fill="#65be86" d="M480 217h5v10h-5zM480 268h5v15h-5zM480 306h5v25h-5zM480 334h5v5h-5zM485 202h5v23h-5zM485 354h5v10h-5zM485 382h5v41h-5zM490 184h5v5h-5zM495 179h4v13h-4zM499 174h5v5h-5zM504 179h4v5h-4zM508 161h4v8h-4zM512 156h4v3h-4zM516 141h4v10h-4zM520 149h4v5h-4zM524 141h3v3h-3zM527 128h4v8h-4zM531 131h3v2h-3zM534 121h4v2h-4zM538 131h3v2h-3zM541 128h3v3h-3zM544 121h2v5h-2z"/><path fill="#71bf80" d="M480 283h5v23h-5zM480 331h5v3h-5zM485 225h5v28h-5zM485 268h5v35h-5zM485 334h5v20h-5zM490 189h5v15h-5zM495 192h4v7h-4zM499 179h5v5h-5zM504 184h4v5h-4zM508 169h4v2h-4zM512 159h4v2h-4zM516 151h4v5h-4zM520 154h4v5h-4zM524 144h3v5h-3zM527 136h4v8h-4zM531 133h3v6h-3zM534 123h4v3h-4zM538 133h3v3h-3zM541 131h3v2h-3zM544 126h2v2h-2z"/><path fill="#7cbf7b" d="M485 253h5v15h-5zM485 303h5v5h-5zM485 324h5v10h-5zM490 204h5v3h-5zM490 265h5v16h-5zM490 412h5v11h-5zM495 199h4v5h-4zM495 415h4v8h-4zM499 184h5v10h-5zM504 189h4v5h-4zM508 171h4v6h-4zM512 161h4v3h-4zM516 156h4v3h-4zM520 159h4v2h-4zM524 149h3v2h-3zM527 144h4v2h-4zM531 139h3v2h-3zM534 126h4v2h-4zM538 136h3v3h-3zM541 133h3v3h-3zM544 128h2v3h-2z"/><path fill="#87bf77" d="M485 308h5v16h-5zM490 207h5v5h-5zM490 250h5v15h-5zM490 281h5v7h-5zM490 362h5v7h-5zM490 397h5v15h-5zM495 204h4v8h-4zM495 395h4v20h-4zM499 194h5v5h-5zM499 415h5v8h-5zM504 194h4v5h-4zM504 410h4v5h-4zM504 420h4v3h-4zM508 177h4v7h-4zM512 164h4v2h-4zM516 159h4v2h-4zM520 161h4v3h-4zM524 151h3v3h-3zM527 146h4v3h-4zM531 141h3v5h-3zM534 128h4v3h-4zM538 139h3v2h-3zM541 136h3v5h-3zM544 131h2v2h-2z"/><path fill="#92bf73" d="M490 212h5v5h-5zM490 245h5v5h-5zM490 288h5v31h-5zM490 339h5v2h-5zM490 357h5v5h-5zM490 369h5v28h-5zM495 212h4v23h-4zM495 253h4v12h-4zM495 387h4v8h-4zM499 199h5v5h-5zM499 390h5v25h-5zM504 199h4v5h-4zM504 402h4v8h-4zM504 415h4v5h-4zM508 184h4v10h-4zM512 166h4v5h-4zM516 161h4v3h-4zM524 154h3v5h-3zM527 149h4v2h-4zM531 146h3v5h-3zM534 131h4v5h-4zM538 141h3v5h-3zM541 141h3v3h-3zM544 133h2v3h-2z"/><path fill="#9cbf6f" d="M490 217h5v13h-5zM490 240h5v5h-5zM490 319h5v2h-5zM490 331h5v8h-5zM490 341h5v16h-5zM495 235h4v18h-4zM495 265h4v18h-4zM495 339h4v7h-4zM495 357h4v7h-4zM495 372h4v15h-4zM499 204h5v23h-5zM499 248h5v7h-5zM499 278h5v10h-5zM499 387h5v3h-5zM504 204h4v8h-4zM504 230h4v68h-4zM504 367h4v7h-4zM504 397h4v5h-4zM508 194h4v5h-4zM512 171h4v13h-4zM516 164h4v5h-4zM520 164h4v2h-4zM524 159h3v5h-3zM527 151h4v3h-4zM531 151h3v3h-3zM534 136h4v3h-4zM538 146h3v3h-3zM541 144h3v7h-3zM544 136h2v3h-2z"/><path fill="#a5be6b" d="M490 230h5v10h-5zM490 321h5v10h-5zM495 283h4v23h-4zM495 329h4v10h-4zM495 346h4v11h-4zM495 364h4v8h-4zM499 227h5v21h-5zM499 255h5v23h-5zM499 288h5v18h-5zM499 382h5v5h-5zM504 212h4v8h-4zM504 222h4v8h-4zM504 298h4v8h-4zM504 364h4v3h-4zM504 374h4v5h-4zM504 392h4v5h-4zM508 199h4v5h-4zM512 184h4v10h-4zM516 169h4v5h-4zM520 166h4v3h-4zM524 164h3v5h-3zM531 154h3v2h-3zM534 139h4v2h-4zM538 149h3v2h-3zM541 151h3v3h-3zM544 139h2v2h-2z"/><path fill="#aebe67" d="M495 306h4v23h-4zM499 306h5v13h-5zM499 346h5v36h-5zM504 220h4v2h-4zM504 306h4v5h-4zM504 341h4v13h-4zM504 359h4v5h-4zM504 379h4v13h-4zM508 204h4v6h-4zM508 415h4v8h-4zM512 194h4v5h-4zM516 174h4v5h-4zM520 169h4v2h-4zM524 169h3v2h-3zM527 154h4v2h-4zM531 156h3v3h-3zM534 141h4v3h-4zM538 151h3v3h-3zM541 154h3v2h-3zM544 141h2v8h-2z"/><path fill="#b7bd64" d="M499 319h5v27h-5zM504 311h4v8h-4zM504 336h4v5h-4zM504 354h4v5h-4zM508 210h4v2h-4zM508 230h4v7h-4zM508 242h4v16h-4zM508 268h4v10h-4zM508 392h4v23h-4zM512 199h4v3h-4zM512 420h4v3h-4zM516 179h4v3h-4zM516 417h4v6h-4zM520 171h4v3h-4zM524 171h3v3h-3zM527 156h4v5h-4zM531 159h3v5h-3zM534 144h4v2h-4zM538 154h3v2h-3zM541 156h3v3h-3zM544 149h2v7h-2z"/><path fill="#c0bc60" d="M504 319h4v17h-4zM508 212h4v5h-4zM508 222h4v8h-4zM508 237h4v5h-4zM508 258h4v10h-4zM508 278h4v8h-4zM508 288h4v15h-4zM508 377h4v15h-4zM512 202h4v5h-4zM512 278h4v8h-4zM512 395h4v25h-4zM516 182h4v5h-4zM516 415h4v2h-4zM520 174h4v3h-4zM524 174h3v5h-3zM527 161h4v5h-4zM531 164h3v2h-3zM534 146h4v3h-4zM538 156h3v3h-3zM541 159h3v2h-3zM544 156h2v3h-2z"/><path fill="#c8bc5d" d="M508 217h4v5h-4zM508 286h4v2h-4zM508 303h4v5h-4zM508 349h4v13h-4zM508 369h4v8h-4zM512 207h4v5h-4zM512 273h4v5h-4zM512 286h4v7h-4zM512 336h4v33h-4zM512 384h4v11h-4zM516 187h4v15h-4zM516 410h4v5h-4zM520 177h4v2h-4zM520 417h4v6h-4zM524 179h3v5h-3zM527 166h4v3h-4zM531 166h3v3h-3zM534 149h4v2h-4zM538 159h3v5h-3zM541 161h3v3h-3zM544 159h2v5h-2z"/><path fill="#d1bb59" d="M508 308h4v3h-4zM508 329h4v20h-4zM508 362h4v7h-4zM512 212h4v5h-4zM512 222h4v18h-4zM512 268h4v5h-4zM512 293h4v20h-4zM512 331h4v5h-4zM512 369h4v15h-4zM516 202h4v10h-4zM516 273h4v8h-4zM516 357h4v2h-4zM516 395h4v15h-4zM520 179h4v18h-4zM520 412h4v5h-4zM524 184h3v8h-3zM527 169h4v2h-4zM531 169h3v5h-3zM534 151h4v5h-4zM538 164h3v5h-3zM541 164h3v10h-3zM544 164h2v5h-2z"/><path fill="#d9ba56" d="M508 311h4v5h-4zM508 324h4v5h-4zM512 217h4v5h-4zM512 240h4v28h-4zM512 313h4v18h-4zM516 212h4v8h-4zM516 263h4v10h-4zM516 281h4v7h-4zM516 331h4v13h-4zM516 349h4v8h-4zM516 359h4v15h-4zM516 390h4v5h-4zM520 197h4v7h-4zM520 400h4v12h-4zM524 192h3v7h-3zM524 387h3v15h-3zM524 420h3v3h-3zM527 171h4v6h-4zM531 174h3v3h-3zM534 156h4v13h-4zM538 169h3v5h-3zM541 174h3v3h-3zM544 169h2v2h-2z"/><path fill="#e1b952" d="M508 316h4v8h-4zM516 220h4v25h-4zM516 258h4v5h-4zM516 288h4v3h-4zM516 326h4v5h-4zM516 344h4v5h-4zM516 374h4v16h-4zM520 204h4v6h-4zM520 339h4v5h-4zM520 359h4v13h-4zM520 395h4v5h-4zM524 199h3v5h-3zM524 379h3v8h-3zM524 402h3v18h-3zM527 177h4v2h-4zM531 177h3v2h-3zM531 400h3v17h-3zM534 169h4v5h-4zM538 174h3v8h-3zM541 177h3v2h-3zM544 171h2v3h-2z"/><path fill="#e9b94e" d="M516 245h4v13h-4zM516 291h4v35h-4zM520 210h4v5h-4zM520 334h4v5h-4zM520 344h4v15h-4zM520 372h4v5h-4zM520 390h4v5h-4zM524 204h3v3h-3zM524 339h3v13h-3zM524 367h3v12h-3zM527 179h4v5h-4zM531 179h3v8h-3zM531 397h3v3h-3zM531 417h3v6h-3zM534 174h4v8h-4zM538 182h3v5h-3zM541 179h3v3h-3zM544 174h2v5h-2z"/><path fill="#f1b94a" d="M520 215h4v7h-4zM520 329h4v5h-4zM520 377h4v13h-4zM524 207h3v3h-3zM524 329h3v10h-3zM524 352h3v15h-3zM527 184h4v5h-4zM527 395h4v28h-4zM531 187h3v12h-3zM531 392h3v5h-3zM534 182h4v2h-4zM538 187h3v2h-3zM541 182h3v2h-3zM544 179h2v3h-2z"/><path fill="#f8bb44" d="M520 222h4v10h-4zM520 253h4v50h-4zM520 324h4v5h-4zM524 210h3v5h-3zM524 324h3v5h-3zM527 189h4v5h-4zM527 387h4v8h-4zM531 199h3v3h-3zM531 390h3v2h-3zM534 184h4v5h-4zM538 189h3v10h-3zM538 420h3v3h-3zM541 184h3v5h-3zM544 182h2v5h-2zM544 417h2v6h-2z"/><path fill="#fdbe3d" d="M520 232h4v21h-4zM520 303h4v21h-4zM524 215h3v2h-3zM524 248h3v10h-3zM524 288h3v10h-3zM524 321h3v3h-3zM527 194h4v3h-4zM527 352h4v35h-4zM531 202h3v5h-3zM531 357h3v20h-3zM531 387h3v3h-3zM534 189h4v5h-4zM534 410h4v13h-4zM538 199h3v8h-3zM538 412h3v8h-3zM541 189h3v8h-3zM541 392h3v13h-3zM541 415h3v8h-3zM544 187h2v2h-2zM544 410h2v7h-2z"/><path fill="#ffc337" d="M524 217h3v3h-3zM524 235h3v13h-3zM524 258h3v7h-3zM524 283h3v5h-3zM524 298h3v8h-3zM524 311h3v10h-3zM527 197h4v5h-4zM527 341h4v11h-4zM531 207h3v5h-3zM531 331h3v26h-3zM531 377h3v10h-3zM534 194h4v5h-4zM534 387h4v5h-4zM534 400h4v10h-4zM538 207h3v3h-3zM538 397h3v15h-3zM541 197h3v10h-3zM541 387h3v5h-3zM541 405h3v10h-3zM544 189h2v5h-2zM544 407h2v3h-2z"/><path fill="#fec832" d="M524 220h3v15h-3zM524 265h3v8h-3zM524 275h3v8h-3zM524 306h3v5h-3zM527 202h4v10h-4zM527 334h4v7h-4zM531 212h3v3h-3zM531 326h3v5h-3zM534 199h4v5h-4zM534 377h4v10h-4zM534 392h4v8h-4zM538 210h3v5h-3zM538 334h3v50h-3zM538 392h3v5h-3zM541 207h3v5h-3zM541 367h3v20h-3zM544 194h2v10h-2zM544 397h2v10h-2z"/><path fill="#fcce2e" d="M524 273h3v2h-3zM527 212h4v5h-4zM527 250h4v13h-4zM527 298h4v36h-4zM531 215h3v2h-3zM531 296h3v10h-3zM531 321h3v5h-3zM534 204h4v6h-4zM534 372h4v5h-4zM538 215h3v2h-3zM538 329h3v5h-3zM538 384h3v8h-3zM541 212h3v3h-3zM541 362h3v5h-3zM544 204h2v6h-2zM544 377h2v20h-2z"/><path fill="#fad32a" d="M527 217h4v8h-4zM527 242h4v8h-4zM527 263h4v2h-4zM527 288h4v10h-4zM531 217h3v5h-3zM531 237h3v16h-3zM531 270h3v26h-3zM531 306h3v15h-3zM534 210h4v2h-4zM534 362h4v10h-4zM538 217h3v3h-3zM538 326h3v3h-3zM541 215h3v2h-3zM541 341h3v21h-3zM544 210h2v2h-2zM544 372h2v5h-2z"/><path fill="#f7d826" d="M527 225h4v17h-4zM527 265h4v5h-4zM527 275h4v13h-4zM531 222h3v15h-3zM531 253h3v2h-3zM531 265h3v5h-3zM534 212h4v5h-4zM534 326h4v36h-4zM538 220h3v5h-3zM538 288h3v38h-3zM541 217h3v3h-3zM541 248h3v12h-3zM541 301h3v40h-3zM544 212h2v3h-2zM544 306h2v10h-2zM544 336h2v10h-2zM544 364h2v8h-2z"/><path fill="#f5de21" d="M527 270h4v5h-4zM531 255h3v10h-3zM534 217h4v18h-4zM534 275h4v6h-4zM534 324h4v2h-4zM538 225h3v7h-3zM538 250h3v18h-3zM538 281h3v7h-3zM541 220h3v7h-3zM541 240h3v8h-3zM541 260h3v10h-3zM541 283h3v18h-3zM544 215h2v2h-2zM544 303h2v3h-2zM544 316h2v5h-2zM544 329h2v7h-2zM544 346h2v18h-2z"/><path fill="#f5e41d" d="M534 235h4v40h-4zM534 281h4v43h-4zM538 232h3v18h-3zM538 268h3v13h-3zM541 227h3v13h-3zM541 270h3v13h-3zM544 217h2v5h-2zM544 242h2v11h-2zM544 263h2v18h-2zM544 298h2v5h-2zM544 321h2v8h-2z"/><path fill="#f5eb18" d="M544 222h2v20h-2zM544 253h2v10h-2zM544 281h2v7h-2zM544 296h2v2h-2z"/><path fill="#f6f313" d="M544 288h2v8h-2z"/></g><g shape-rendering="crispEdges" transform="translate(0 578.5)"><path fill="#3637a0" d="M107 17h76v5h-76zM107 27h76v2h-76zM107 32h76v8h-76zM107 80h76v5h-76zM107 133h76v3h-76zM107 166h76v13h-76zM107 182h76v7h-76zM107 202h76v2h-76zM107 210h76v2h-76zM107 220h76v2h-76zM107 232h76v3h-76zM107 255h76v3h-76zM107 278h76v3h-76zM107 291h76v10h-76zM107 308h76v3h-76zM107 321h76v3h-76zM107 352h76v2h-76zM107 377h76v2h-76zM107 405h76v2h-76zM233 144h35v5h-35zM233 253h35v2h-35zM268 149h27v2h-27zM268 154h27v2h-27zM268 171h27v3h-27zM268 177h27v7h-27zM268 263h27v15h-27zM268 283h27v5h-27zM268 291h27v2h-27zM295 141h22v5h-22zM295 166h22v3h-22zM295 171h22v6h-22zM295 179h22v3h-22zM295 187h22v2h-22zM295 278h22v3h-22zM317 141h19v3h-19zM317 156h19v3h-19zM317 164h19v5h-19zM317 177h19v5h-19zM317 260h19v3h-19zM336 146h16v3h-16zM336 169h16v2h-16zM336 182h16v2h-16zM336 273h16v5h-16zM352 144h14v30h-14zM352 179h14v5h-14zM352 263h14v12h-14zM352 286h14v12h-14z"/><path fill="#363093" d="M107 22h76v2h-76zM107 29h76v3h-76zM107 85h76v5h-76zM107 98h76v5h-76zM107 179h76v3h-76zM107 204h76v3h-76zM107 217h76v3h-76zM233 156h35v8h-35zM268 141h27v3h-27zM268 151h27v3h-27zM268 174h27v3h-27zM268 184h27v3h-27zM268 288h27v3h-27zM295 177h22v2h-22zM336 166h16v3h-16zM352 174h14v5h-14z"/><path fill="#353dad" d="M107 24h76v3h-76zM107 40h76v2h-76zM107 55h76v7h-76zM107 78h76v2h-76zM107 90h76v8h-76zM107 103h76v3h-76zM107 111h76v5h-76zM107 121h76v5h-76zM107 131h76v2h-76zM107 136h76v5h-76zM107 154h76v12h-76zM107 207h76v3h-76zM107 212h76v5h-76zM107 235h76v2h-76zM107 240h76v8h-76zM107 258h76v2h-76zM107 263h76v7h-76zM107 273h76v5h-76zM107 281h76v2h-76zM107 288h76v3h-76zM107 301h76v2h-76zM107 306h76v2h-76zM107 311h76v2h-76zM107 319h76v2h-76zM107 329h76v2h-76zM107 339h76v2h-76zM107 344h76v8h-76zM107 354h76v3h-76zM107 372h76v5h-76zM107 379h76v3h-76zM107 390h76v5h-76zM107 407h76v3h-76zM183 32h50v3h-50zM183 42h50v3h-50zM183 128h50v3h-50zM183 161h50v5h-50zM183 187h50v2h-50zM183 303h50v3h-50zM233 141h35v3h-35zM233 149h35v7h-35zM233 164h35v2h-35zM233 171h35v8h-35zM233 250h35v3h-35zM233 255h35v8h-35zM233 268h35v5h-35zM233 278h35v5h-35zM233 291h35v7h-35zM268 144h27v5h-27zM268 156h27v3h-27zM268 166h27v5h-27zM268 250h27v3h-27zM268 278h27v5h-27zM295 146h22v3h-22zM295 154h22v5h-22zM295 161h22v5h-22zM295 169h22v2h-22zM295 260h22v8h-22zM295 281h22v2h-22zM317 139h19v2h-19zM317 151h19v5h-19zM317 169h19v2h-19zM317 182h19v5h-19zM317 248h19v5h-19zM317 258h19v2h-19zM317 263h19v2h-19zM317 275h19v6h-19zM317 291h19v5h-19zM336 144h16v2h-16zM336 164h16v2h-16zM336 184h16v5h-16zM336 265h16v3h-16zM336 270h16v3h-16zM336 278h16v15h-16zM352 141h14v3h-14zM352 184h14v3h-14zM352 250h14v3h-14zM352 258h14v5h-14zM352 275h14v11h-14z"/><path fill="#3243ba" d="M107 42h76v13h-76zM107 62h76v16h-76zM107 106h76v5h-76zM107 116h76v5h-76zM107 141h76v5h-76zM107 149h76v5h-76zM107 189h76v3h-76zM107 194h76v8h-76zM107 222h76v3h-76zM107 227h76v5h-76zM107 237h76v3h-76zM107 248h76v2h-76zM107 253h76v2h-76zM107 260h76v3h-76zM107 270h76v3h-76zM107 286h76v2h-76zM107 313h76v3h-76zM107 324h76v5h-76zM107 331h76v3h-76zM107 336h76v3h-76zM107 341h76v3h-76zM107 357h76v10h-76zM107 395h76v5h-76zM107 402h76v3h-76zM107 410h76v7h-76zM107 420h76v3h-76zM183 24h50v8h-50zM183 35h50v2h-50zM183 40h50v2h-50zM183 85h50v5h-50zM183 118h50v3h-50zM183 126h50v2h-50zM183 131h50v2h-50zM183 136h50v10h-50zM183 154h50v2h-50zM183 159h50v2h-50zM183 166h50v3h-50zM183 179h50v3h-50zM183 184h50v3h-50zM183 189h50v5h-50zM183 215h50v5h-50zM183 222h50v5h-50zM183 240h50v5h-50zM183 265h50v5h-50zM183 278h50v3h-50zM183 291h50v7h-50zM183 301h50v2h-50zM183 306h50v2h-50zM233 17h35v5h-35zM233 136h35v5h-35zM233 166h35v5h-35zM233 179h35v3h-35zM233 199h35v3h-35zM233 248h35v2h-35zM233 275h35v3h-35zM233 283h35v5h-35zM233 298h35v3h-35zM233 306h35v5h-35zM233 319h35v2h-35zM268 123h27v3h-27zM268 131h27v2h-27zM268 136h27v5h-27zM268 159h27v7h-27zM268 227h27v5h-27zM268 242h27v3h-27zM268 248h27v2h-27zM268 253h27v5h-27zM268 260h27v3h-27zM268 293h27v5h-27zM268 301h27v2h-27zM295 133h22v3h-22zM295 151h22v3h-22zM295 182h22v5h-22zM295 253h22v2h-22zM295 268h22v2h-22zM295 273h22v5h-22zM295 288h22v13h-22zM317 144h19v2h-19zM317 149h19v2h-19zM317 159h19v5h-19zM317 174h19v3h-19zM317 255h19v3h-19zM317 265h19v10h-19zM317 281h19v2h-19zM317 288h19v3h-19zM336 149h16v2h-16zM336 154h16v10h-16zM336 171h16v11h-16zM336 255h16v10h-16zM336 268h16v2h-16zM336 293h16v8h-16zM352 253h14v5h-14zM379 171h12v16h-12z"/><path fill="#2c4ac7" d="M107 126h76v5h-76zM107 146h76v3h-76zM107 192h76v2h-76zM107 225h76v2h-76zM107 250h76v3h-76zM107 283h76v3h-76zM107 303h76v3h-76zM107 316h76v3h-76zM107 334h76v2h-76zM107 367h76v5h-76zM107 387h76v3h-76zM107 400h76v2h-76zM107 417h76v3h-76zM183 17h50v2h-50zM183 22h50v2h-50zM183 37h50v3h-50zM183 45h50v2h-50zM183 60h50v15h-50zM183 78h50v7h-50zM183 90h50v3h-50zM183 106h50v2h-50zM183 116h50v2h-50zM183 121h50v5h-50zM183 133h50v3h-50zM183 146h50v8h-50zM183 156h50v3h-50zM183 169h50v10h-50zM183 182h50v2h-50zM183 194h50v3h-50zM183 202h50v5h-50zM183 210h50v5h-50zM183 220h50v2h-50zM183 227h50v8h-50zM183 237h50v3h-50zM183 250h50v10h-50zM183 270h50v3h-50zM183 275h50v3h-50zM183 281h50v2h-50zM183 286h50v5h-50zM183 298h50v3h-50zM183 316h50v3h-50zM183 329h50v2h-50zM183 336h50v3h-50zM183 349h50v3h-50zM183 362h50v2h-50zM183 374h50v3h-50zM233 22h35v10h-35zM233 37h35v10h-35zM233 187h35v2h-35zM233 240h35v8h-35zM233 263h35v5h-35zM233 273h35v2h-35zM233 288h35v3h-35zM233 301h35v5h-35zM233 311h35v8h-35zM233 321h35v3h-35zM268 24h27v8h-27zM268 62h27v3h-27zM268 106h27v7h-27zM268 121h27v2h-27zM268 126h27v5h-27zM268 133h27v3h-27zM268 187h27v2h-27zM268 192h27v5h-27zM268 222h27v5h-27zM268 232h27v3h-27zM268 240h27v2h-27zM268 245h27v3h-27zM268 258h27v2h-27zM268 298h27v3h-27zM268 303h27v3h-27zM295 131h22v2h-22zM295 136h22v5h-22zM295 149h22v2h-22zM295 248h22v5h-22zM295 255h22v5h-22zM295 270h22v3h-22zM295 283h22v5h-22zM317 146h19v3h-19zM317 171h19v3h-19zM317 253h19v2h-19zM317 283h19v5h-19zM336 151h16v3h-16z"/><path fill="#2053d4" d="M107 382h76v5h-76zM183 19h50v3h-50zM183 47h50v13h-50zM183 75h50v3h-50zM183 93h50v13h-50zM183 108h50v8h-50zM183 197h50v2h-50zM183 207h50v3h-50zM183 235h50v2h-50zM183 245h50v5h-50zM183 260h50v5h-50zM183 273h50v2h-50zM183 283h50v3h-50zM183 308h50v8h-50zM183 319h50v5h-50zM183 326h50v3h-50zM183 331h50v5h-50zM183 339h50v5h-50zM183 346h50v3h-50zM183 352h50v5h-50zM183 359h50v3h-50zM183 364h50v10h-50zM183 377h50v7h-50zM183 395h50v2h-50zM183 400h50v12h-50zM233 32h35v3h-35zM233 47h35v13h-35zM233 65h35v5h-35zM233 118h35v18h-35zM233 182h35v5h-35zM233 189h35v10h-35zM233 202h35v2h-35zM233 235h35v5h-35zM233 324h35v2h-35zM233 412h35v3h-35zM268 17h27v7h-27zM268 32h27v15h-27zM268 50h27v7h-27zM268 60h27v2h-27zM268 65h27v8h-27zM268 80h27v3h-27zM268 90h27v5h-27zM268 103h27v3h-27zM268 113h27v3h-27zM268 118h27v3h-27zM268 189h27v3h-27zM268 197h27v2h-27zM268 220h27v2h-27zM268 235h27v5h-27zM268 306h27v2h-27zM268 311h27v10h-27zM295 128h22v3h-22zM295 159h22v2h-22z"/><path fill="#0f5cdd" d="M183 199h50v3h-50zM183 324h50v2h-50zM183 344h50v2h-50zM183 357h50v2h-50zM183 384h50v3h-50zM183 390h50v5h-50zM183 397h50v3h-50zM183 412h50v5h-50zM183 420h50v3h-50zM233 35h35v2h-35zM233 62h35v3h-35zM233 70h35v10h-35zM233 93h35v2h-35zM233 103h35v3h-35zM233 111h35v7h-35zM233 204h35v6h-35zM233 212h35v5h-35zM233 232h35v3h-35zM233 326h35v3h-35zM233 336h35v3h-35zM233 354h35v5h-35zM233 369h35v5h-35zM233 410h35v2h-35zM233 415h35v2h-35zM268 47h27v3h-27zM268 57h27v3h-27zM268 73h27v7h-27zM268 83h27v7h-27zM268 95h27v8h-27zM268 116h27v2h-27zM268 204h27v11h-27zM268 308h27v3h-27zM268 321h27v3h-27zM268 367h27v5h-27zM295 83h22v2h-22zM295 90h22v3h-22zM295 100h22v6h-22zM295 116h22v12h-22zM295 189h22v3h-22zM295 194h22v3h-22zM295 245h22v3h-22zM295 303h22v10h-22zM336 189h16v3h-16zM336 417h16v6h-16z"/><path fill="#0363e1" d="M183 387h50v3h-50zM183 417h50v3h-50zM233 60h35v2h-35zM233 80h35v13h-35zM233 95h35v8h-35zM233 106h35v2h-35zM233 210h35v2h-35zM233 217h35v8h-35zM233 230h35v2h-35zM233 329h35v7h-35zM233 339h35v10h-35zM233 359h35v10h-35zM233 379h35v8h-35zM233 397h35v3h-35zM233 405h35v5h-35zM268 199h27v5h-27zM268 217h27v3h-27zM268 324h27v15h-27zM268 372h27v2h-27zM295 37h22v5h-22zM295 80h22v3h-22zM295 85h22v5h-22zM295 106h22v10h-22zM295 192h22v2h-22zM295 197h22v2h-22zM295 207h22v3h-22zM295 215h22v5h-22zM295 227h22v5h-22zM295 242h22v3h-22zM295 301h22v2h-22zM295 313h22v16h-22zM317 136h19v3h-19zM317 187h19v7h-19zM317 245h19v3h-19zM317 296h19v5h-19zM336 35h16v2h-16zM336 192h16v2h-16zM336 245h16v10h-16zM336 415h16v2h-16zM352 298h14v3h-14zM379 166h12v5h-12zM379 258h12v5h-12z"/><path fill="#0268e1" d="M233 108h35v3h-35zM233 225h35v5h-35zM233 349h35v5h-35zM233 374h35v5h-35zM233 387h35v10h-35zM233 400h35v2h-35zM233 417h35v6h-35zM268 215h27v2h-27zM268 339h27v5h-27zM268 346h27v6h-27zM268 364h27v3h-27zM268 379h27v5h-27zM268 390h27v2h-27zM268 395h27v15h-27zM268 417h27v6h-27zM295 17h22v7h-22zM295 27h22v2h-22zM295 32h22v5h-22zM295 42h22v20h-22zM295 65h22v15h-22zM295 93h22v2h-22zM295 98h22v2h-22zM295 199h22v8h-22zM295 210h22v5h-22zM295 220h22v2h-22zM295 225h22v2h-22zM295 232h22v3h-22zM295 240h22v2h-22zM295 329h22v2h-22zM295 339h22v2h-22zM295 392h22v3h-22zM317 19h19v3h-19zM317 35h19v2h-19zM317 42h19v5h-19zM317 55h19v2h-19zM317 90h19v10h-19zM317 123h19v3h-19zM317 133h19v3h-19zM317 212h19v5h-19zM317 242h19v3h-19zM317 301h19v5h-19zM317 331h19v8h-19zM336 19h16v5h-16zM336 29h16v6h-16zM336 42h16v10h-16zM336 60h16v2h-16zM336 80h16v8h-16zM336 100h16v3h-16zM336 113h16v3h-16zM336 128h16v8h-16zM336 139h16v5h-16zM336 194h16v5h-16zM336 242h16v3h-16zM336 308h16v3h-16zM336 346h16v3h-16zM336 405h16v5h-16zM336 412h16v3h-16zM352 27h14v5h-14zM352 139h14v2h-14zM352 187h14v2h-14zM352 199h14v8h-14zM352 227h14v3h-14zM352 245h14v5h-14zM352 301h14v12h-14zM379 164h12v2h-12zM379 187h12v2h-12zM379 263h12v15h-12z"/><path fill="#046de0" d="M233 402h35v3h-35zM268 344h27v2h-27zM268 352h27v12h-27zM268 374h27v3h-27zM268 384h27v6h-27zM268 392h27v3h-27zM295 24h22v3h-22zM295 29h22v3h-22zM295 62h22v3h-22zM295 95h22v3h-22zM295 222h22v3h-22zM295 235h22v5h-22zM295 331h22v8h-22zM295 341h22v5h-22zM295 354h22v5h-22zM295 387h22v5h-22zM295 395h22v2h-22zM295 407h22v3h-22zM317 17h19v2h-19zM317 22h19v13h-19zM317 37h19v5h-19zM317 47h19v8h-19zM317 57h19v3h-19zM317 83h19v2h-19zM317 111h19v12h-19zM317 126h19v2h-19zM317 131h19v2h-19zM317 194h19v3h-19zM317 204h19v8h-19zM317 217h19v5h-19zM317 240h19v2h-19zM317 306h19v5h-19zM317 313h19v3h-19zM317 326h19v5h-19zM317 339h19v5h-19zM317 346h19v3h-19zM317 359h19v3h-19zM317 367h19v2h-19zM336 17h16v2h-16zM336 24h16v5h-16zM336 37h16v3h-16zM336 52h16v3h-16zM336 57h16v3h-16zM336 62h16v3h-16zM336 70h16v10h-16zM336 98h16v2h-16zM336 103h16v3h-16zM336 111h16v2h-16zM336 116h16v12h-16zM336 136h16v3h-16zM336 199h16v3h-16zM336 301h16v7h-16zM336 311h16v18h-16zM336 344h16v2h-16zM336 349h16v3h-16zM336 362h16v2h-16zM336 387h16v5h-16zM336 397h16v5h-16zM336 410h16v2h-16zM352 22h14v5h-14zM352 32h14v5h-14zM352 57h14v23h-14zM352 118h14v21h-14zM352 189h14v10h-14zM352 207h14v20h-14zM352 230h14v15h-14zM352 313h14v49h-14zM352 420h14v3h-14zM379 161h12v3h-12zM379 189h12v3h-12z"/><path fill="#0871de" d="M268 377h27v2h-27zM268 410h27v7h-27zM295 346h22v3h-22zM295 359h22v5h-22zM295 367h22v15h-22zM295 384h22v3h-22zM295 397h22v3h-22zM295 410h22v7h-22zM317 68h19v7h-19zM317 80h19v3h-19zM317 85h19v5h-19zM317 100h19v11h-19zM317 128h19v3h-19zM317 197h19v7h-19zM317 222h19v8h-19zM317 235h19v5h-19zM317 311h19v2h-19zM317 316h19v10h-19zM317 344h19v2h-19zM317 349h19v10h-19zM317 362h19v5h-19zM317 369h19v3h-19zM317 384h19v6h-19zM336 40h16v2h-16zM336 55h16v2h-16zM336 65h16v5h-16zM336 88h16v10h-16zM336 106h16v5h-16zM336 202h16v13h-16zM336 222h16v5h-16zM336 232h16v10h-16zM336 329h16v2h-16zM336 339h16v5h-16zM336 352h16v2h-16zM336 359h16v3h-16zM336 364h16v3h-16zM336 374h16v3h-16zM336 379h16v8h-16zM336 392h16v5h-16zM336 402h16v3h-16zM352 17h14v5h-14zM352 37h14v3h-14zM352 55h14v2h-14zM352 80h14v3h-14zM352 106h14v12h-14zM352 362h14v10h-14zM352 412h14v8h-14zM366 17h13v10h-13zM366 78h13v7h-13zM379 159h12v2h-12zM379 192h12v2h-12zM379 253h12v5h-12zM391 19h10v21h-10zM420 17h8v7h-8zM428 17h8v2h-8zM457 17h6v18h-6z"/><path fill="#0d75dc" d="M295 349h22v5h-22zM295 364h22v3h-22zM295 382h22v2h-22zM295 405h22v2h-22zM295 417h22v3h-22zM317 60h19v8h-19zM317 75h19v5h-19zM317 230h19v5h-19zM317 374h19v5h-19zM317 382h19v2h-19zM317 390h19v27h-19zM336 215h16v2h-16zM336 220h16v2h-16zM336 227h16v3h-16zM336 331h16v8h-16zM336 354h16v5h-16zM336 367h16v7h-16zM336 377h16v2h-16zM352 40h14v2h-14zM352 50h14v5h-14zM352 83h14v23h-14zM352 372h14v40h-14zM366 27h13v51h-13zM366 85h13v5h-13zM379 17h12v2h-12zM379 149h12v10h-12zM379 194h12v3h-12zM379 248h12v5h-12zM379 278h12v10h-12zM391 17h10v2h-10zM391 40h10v25h-10zM411 17h9v10h-9zM420 24h8v16h-8zM428 19h8v18h-8zM436 17h7v2h-7zM436 29h7v11h-7zM443 17h7v5h-7zM450 17h7v2h-7zM457 35h6v12h-6zM463 17h6v10h-6zM490 17h5v5h-5z"/><path fill="#1079da" d="M295 400h22v2h-22zM295 420h22v3h-22zM317 372h19v2h-19zM317 379h19v3h-19zM317 417h19v3h-19zM336 217h16v3h-16zM336 230h16v2h-16zM352 42h14v8h-14zM366 90h13v3h-13zM366 103h13v13h-13zM366 149h13v7h-13zM366 174h13v15h-13zM366 197h13v2h-13zM366 377h13v7h-13zM379 19h12v33h-12zM379 78h12v12h-12zM379 121h12v28h-12zM379 197h12v5h-12zM379 242h12v6h-12zM379 288h12v25h-12zM379 362h12v15h-12zM379 412h12v11h-12zM391 65h10v5h-10zM411 27h9v5h-9zM420 40h8v7h-8zM428 37h8v25h-8zM436 19h7v10h-7zM436 40h7v7h-7zM443 22h7v10h-7zM450 19h7v8h-7zM457 47h6v8h-6zM463 27h6v10h-6zM469 17h6v2h-6zM475 17h5v5h-5zM490 22h5v5h-5zM499 17h5v18h-5z"/><path fill="#127dd8" d="M295 402h22v3h-22zM317 420h19v3h-19zM366 93h13v10h-13zM366 116h13v2h-13zM366 144h13v5h-13zM366 156h13v18h-13zM366 189h13v8h-13zM366 199h13v11h-13zM366 291h13v5h-13zM366 321h13v10h-13zM366 372h13v5h-13zM366 384h13v6h-13zM366 402h13v8h-13zM379 52h12v8h-12zM379 68h12v10h-12zM379 90h12v8h-12zM379 100h12v21h-12zM379 202h12v13h-12zM379 237h12v5h-12zM379 313h12v13h-12zM379 354h12v8h-12zM379 377h12v7h-12zM379 407h12v5h-12zM391 70h10v8h-10zM401 17h10v20h-10zM401 42h10v15h-10zM411 32h9v25h-9zM420 47h8v15h-8zM428 62h8v3h-8zM436 47h7v5h-7zM443 32h7v28h-7zM450 27h7v30h-7zM457 55h6v7h-6zM463 37h6v18h-6zM469 19h6v38h-6zM475 22h5v18h-5zM480 17h5v5h-5zM485 17h5v7h-5zM490 27h5v18h-5zM495 17h4v15h-4zM499 35h5v12h-5zM541 17h3v5h-3z"/><path fill="#1481d6" d="M366 118h13v10h-13zM366 136h13v8h-13zM366 210h13v22h-13zM366 263h13v2h-13zM366 283h13v8h-13zM366 296h13v5h-13zM366 313h13v8h-13zM366 331h13v10h-13zM366 349h13v23h-13zM366 390h13v12h-13zM366 410h13v13h-13zM379 60h12v8h-12zM379 98h12v2h-12zM379 215h12v22h-12zM379 326h12v10h-12zM379 346h12v8h-12zM379 384h12v23h-12zM391 78h10v17h-10zM391 169h10v18h-10zM391 324h10v2h-10zM391 344h10v13h-10zM391 387h10v33h-10zM401 37h10v5h-10zM401 57h10v5h-10zM411 57h9v13h-9zM420 62h8v11h-8zM428 65h8v5h-8zM428 420h8v3h-8zM436 52h7v8h-7zM436 62h7v11h-7zM443 60h7v5h-7zM450 57h7v8h-7zM450 68h7v12h-7zM457 62h6v8h-6zM463 55h6v18h-6zM469 57h6v5h-6zM475 40h5v7h-5zM480 22h5v15h-5zM485 24h5v5h-5zM490 45h5v7h-5zM490 55h5v5h-5zM495 32h4v15h-4zM499 47h5v5h-5zM508 17h4v12h-4zM512 17h4v12h-4zM516 29h4v3h-4zM520 17h4v2h-4zM524 17h3v23h-3zM527 17h4v2h-4zM531 17h3v2h-3zM541 22h3v5h-3z"/><path fill="#1485d4" d="M366 128h13v8h-13zM366 232h13v31h-13zM366 265h13v18h-13zM366 301h13v12h-13zM366 341h13v8h-13zM379 336h12v10h-12zM391 95h10v21h-10zM391 149h10v20h-10zM391 187h10v7h-10zM391 260h10v41h-10zM391 316h10v8h-10zM391 326h10v8h-10zM391 339h10v5h-10zM391 357h10v7h-10zM391 374h10v13h-10zM391 420h10v3h-10zM401 62h10v11h-10zM401 95h10v16h-10zM401 329h10v10h-10zM401 390h10v5h-10zM411 70h9v20h-9zM420 73h8v17h-8zM428 70h8v3h-8zM428 88h8v10h-8zM428 415h8v5h-8zM436 60h7v2h-7zM436 73h7v5h-7zM443 65h7v5h-7zM450 65h7v3h-7zM450 80h7v5h-7zM457 70h6v8h-6zM463 73h6v5h-6zM469 62h6v3h-6zM475 47h5v5h-5zM480 37h5v28h-5zM485 29h5v21h-5zM490 52h5v3h-5zM490 60h5v8h-5zM495 47h4v8h-4zM499 52h5v8h-5zM504 17h4v5h-4zM504 35h4v7h-4zM508 29h4v3h-4zM512 29h4v6h-4zM516 17h4v12h-4zM516 32h4v8h-4zM520 19h4v23h-4zM524 40h3v7h-3zM527 19h4v8h-4zM531 19h3v5h-3zM541 27h3v5h-3zM544 17h2v10h-2z"/><path fill="#1389d3" d="M391 116h10v12h-10zM391 139h10v10h-10zM391 194h10v8h-10zM391 212h10v48h-10zM391 301h10v15h-10zM391 334h10v5h-10zM391 364h10v10h-10zM401 73h10v22h-10zM401 111h10v5h-10zM401 326h10v3h-10zM401 339h10v2h-10zM401 384h10v6h-10zM401 395h10v10h-10zM411 90h9v3h-9zM411 367h9v12h-9zM411 400h9v5h-9zM411 417h9v6h-9zM420 90h8v10h-8zM420 412h8v8h-8zM428 73h8v15h-8zM428 98h8v5h-8zM428 395h8v20h-8zM436 78h7v2h-7zM443 70h7v13h-7zM443 420h7v3h-7zM450 85h7v5h-7zM457 78h6v20h-6zM457 417h6v6h-6zM463 78h6v15h-6zM463 420h6v3h-6zM469 65h6v15h-6zM475 52h5v3h-5zM475 68h5v12h-5zM480 65h5v8h-5zM485 50h5v10h-5zM490 68h5v5h-5zM495 55h4v7h-4zM499 60h5v20h-5zM504 22h4v13h-4zM504 42h4v5h-4zM508 32h4v5h-4zM512 35h4v25h-4zM516 40h4v7h-4zM520 42h4v5h-4zM524 47h3v5h-3zM527 27h4v10h-4zM531 24h3v5h-3zM538 17h3v18h-3zM541 32h3v10h-3zM544 27h2v5h-2z"/><path fill="#108ed2" d="M391 128h10v11h-10zM391 202h10v10h-10zM401 116h10v2h-10zM401 311h10v8h-10zM401 321h10v5h-10zM401 341h10v5h-10zM401 367h10v17h-10zM401 405h10v18h-10zM411 93h9v7h-9zM411 364h9v3h-9zM411 379h9v3h-9zM411 395h9v5h-9zM411 405h9v12h-9zM420 100h8v3h-8zM420 400h8v12h-8zM420 420h8v3h-8zM428 103h8v3h-8zM428 387h8v8h-8zM436 80h7v3h-7zM436 93h7v10h-7zM436 400h7v10h-7zM443 83h7v12h-7zM443 415h7v5h-7zM450 90h7v5h-7zM450 405h7v18h-7zM457 98h6v8h-6zM457 392h6v25h-6zM463 93h6v5h-6zM463 417h6v3h-6zM469 80h6v8h-6zM475 55h5v13h-5zM475 80h5v5h-5zM480 73h5v5h-5zM485 60h5v5h-5zM490 73h5v7h-5zM495 62h4v13h-4zM499 80h5v8h-5zM504 47h4v3h-4zM508 37h4v20h-4zM512 60h4v5h-4zM516 47h4v5h-4zM520 47h4v8h-4zM524 52h3v13h-3zM527 37h4v23h-4zM531 29h3v6h-3zM534 17h4v5h-4zM538 35h3v7h-3zM541 42h3v18h-3zM544 32h2v8h-2z"/><path fill="#0c93d2" d="M401 118h10v5h-10zM401 144h10v17h-10zM401 164h10v15h-10zM401 260h10v8h-10zM401 303h10v8h-10zM401 319h10v2h-10zM401 346h10v21h-10zM411 100h9v13h-9zM411 331h9v13h-9zM411 359h9v5h-9zM411 382h9v2h-9zM411 390h9v5h-9zM420 103h8v5h-8zM420 334h8v12h-8zM420 374h8v26h-8zM428 106h8v5h-8zM428 364h8v23h-8zM436 83h7v10h-7zM436 103h7v5h-7zM436 392h7v8h-7zM436 410h7v13h-7zM443 95h7v5h-7zM443 395h7v10h-7zM443 410h7v5h-7zM450 95h7v5h-7zM450 387h7v18h-7zM457 106h6v15h-6zM457 387h6v5h-6zM463 98h6v2h-6zM463 412h6v5h-6zM469 88h6v7h-6zM475 85h5v3h-5zM475 417h5v6h-5zM480 78h5v5h-5zM480 415h5v8h-5zM485 65h5v8h-5zM485 420h5v3h-5zM490 80h5v5h-5zM490 417h5v6h-5zM495 75h4v5h-4zM499 88h5v5h-5zM504 50h4v20h-4zM508 57h4v8h-4zM512 65h4v3h-4zM516 52h4v5h-4zM520 55h4v10h-4zM524 65h3v3h-3zM527 60h4v2h-4zM531 35h3v15h-3zM534 22h4v20h-4zM538 42h3v8h-3zM541 60h3v8h-3zM544 40h2v12h-2z"/><path fill="#0998d1" d="M401 123h10v5h-10zM401 131h10v13h-10zM401 161h10v3h-10zM401 179h10v3h-10zM401 235h10v10h-10zM401 250h10v10h-10zM401 268h10v35h-10zM411 113h9v26h-9zM411 270h9v5h-9zM411 326h9v5h-9zM411 344h9v15h-9zM411 384h9v6h-9zM420 108h8v5h-8zM420 326h8v8h-8zM420 346h8v6h-8zM420 364h8v10h-8zM428 111h8v5h-8zM428 324h8v15h-8zM428 354h8v10h-8zM436 108h7v5h-7zM436 377h7v15h-7zM443 100h7v3h-7zM443 387h7v8h-7zM443 405h7v5h-7zM450 100h7v8h-7zM450 382h7v5h-7zM457 121h6v5h-6zM457 379h6v8h-6zM463 100h6v3h-6zM463 400h6v12h-6zM469 95h6v5h-6zM469 415h6v8h-6zM475 88h5v7h-5zM475 410h5v7h-5zM480 83h5v2h-5zM480 407h5v8h-5zM485 73h5v20h-5zM485 417h5v3h-5zM490 85h5v5h-5zM490 410h5v7h-5zM495 80h4v5h-4zM495 417h4v6h-4zM499 93h5v5h-5zM499 417h5v6h-5zM504 70h4v5h-4zM508 65h4v10h-4zM512 68h4v5h-4zM516 57h4v3h-4zM520 65h4v5h-4zM524 68h3v2h-3zM527 62h4v6h-4zM531 50h3v5h-3zM534 42h4v8h-4zM538 50h3v2h-3zM541 68h3v5h-3zM544 52h2v5h-2z"/><path fill="#079ccf" d="M401 128h10v3h-10zM401 182h10v2h-10zM401 197h10v38h-10zM401 245h10v5h-10zM411 139h9v5h-9zM411 263h9v7h-9zM411 275h9v6h-9zM411 311h9v15h-9zM420 113h8v13h-8zM420 321h8v5h-8zM420 352h8v12h-8zM428 116h8v5h-8zM428 319h8v5h-8zM428 339h8v15h-8zM436 113h7v13h-7zM436 349h7v28h-7zM443 103h7v3h-7zM443 382h7v5h-7zM450 108h7v5h-7zM450 372h7v10h-7zM457 126h6v18h-6zM457 344h6v13h-6zM457 364h6v15h-6zM463 103h6v8h-6zM463 392h6v8h-6zM469 100h6v6h-6zM469 405h6v10h-6zM475 95h5v8h-5zM475 382h5v10h-5zM475 400h5v10h-5zM480 85h5v5h-5zM480 402h5v5h-5zM485 93h5v7h-5zM485 415h5v2h-5zM490 90h5v5h-5zM490 405h5v5h-5zM495 85h4v8h-4zM495 95h4v11h-4zM495 412h4v5h-4zM499 98h5v5h-5zM499 410h5v7h-5zM504 75h4v5h-4zM508 75h4v13h-4zM508 412h4v11h-4zM512 73h4v5h-4zM516 60h4v5h-4zM520 70h4v3h-4zM524 70h3v5h-3zM527 68h4v5h-4zM531 55h3v5h-3zM534 50h4v10h-4zM538 52h3v5h-3zM541 73h3v2h-3zM544 57h2v5h-2z"/><path fill="#06a0cd" d="M401 184h10v13h-10zM411 144h9v2h-9zM411 164h9v23h-9zM411 230h9v33h-9zM411 281h9v5h-9zM411 303h9v8h-9zM420 126h8v20h-8zM420 177h8v17h-8zM420 286h8v7h-8zM420 316h8v5h-8zM428 121h8v28h-8zM428 316h8v3h-8zM436 126h7v7h-7zM436 319h7v30h-7zM443 106h7v5h-7zM443 359h7v23h-7zM450 113h7v5h-7zM450 349h7v23h-7zM457 144h6v7h-6zM457 339h6v5h-6zM457 357h6v7h-6zM463 111h6v7h-6zM463 344h6v8h-6zM463 377h6v15h-6zM469 106h6v2h-6zM469 390h6v15h-6zM475 103h5v10h-5zM475 377h5v5h-5zM475 392h5v8h-5zM480 90h5v8h-5zM480 397h5v5h-5zM485 100h5v6h-5zM485 410h5v5h-5zM490 95h5v5h-5zM490 402h5v3h-5zM495 93h4v2h-4zM495 106h4v5h-4zM495 402h4v10h-4zM499 103h5v8h-5zM499 405h5v5h-5zM504 80h4v8h-4zM508 88h4v7h-4zM508 407h4v5h-4zM512 78h4v5h-4zM516 65h4v18h-4zM520 73h4v2h-4zM524 75h3v8h-3zM527 73h4v5h-4zM531 60h3v2h-3zM534 60h4v15h-4zM538 57h3v3h-3zM541 75h3v5h-3zM544 62h2v8h-2z"/><path fill="#06a4ca" d="M411 146h9v18h-9zM411 187h9v7h-9zM411 207h9v23h-9zM411 286h9v17h-9zM420 146h8v5h-8zM420 171h8v6h-8zM420 194h8v21h-8zM420 253h8v12h-8zM420 281h8v5h-8zM420 293h8v23h-8zM428 149h8v5h-8zM428 260h8v33h-8zM428 311h8v5h-8zM436 133h7v8h-7zM436 313h7v6h-7zM443 111h7v2h-7zM443 352h7v7h-7zM450 118h7v23h-7zM450 339h7v10h-7zM457 151h6v3h-6zM457 334h6v5h-6zM463 118h6v31h-6zM463 339h6v5h-6zM463 352h6v5h-6zM463 369h6v8h-6zM469 108h6v3h-6zM469 379h6v11h-6zM475 113h5v5h-5zM475 372h5v5h-5zM480 98h5v15h-5zM480 384h5v13h-5zM485 106h5v2h-5zM485 407h5v3h-5zM490 100h5v11h-5zM490 397h5v5h-5zM495 111h4v5h-4zM495 395h4v7h-4zM499 111h5v7h-5zM499 402h5v3h-5zM504 88h4v5h-4zM508 95h4v5h-4zM508 405h4v2h-4zM512 83h4v20h-4zM516 83h4v5h-4zM520 75h4v31h-4zM520 420h4v3h-4zM524 83h3v12h-3zM524 417h3v6h-3zM527 78h4v5h-4zM531 62h3v28h-3zM534 75h4v10h-4zM538 60h3v5h-3zM541 80h3v5h-3zM544 70h2v3h-2z"/><path fill="#06a7c6" d="M411 194h9v13h-9zM420 151h8v8h-8zM420 164h8v7h-8zM420 215h8v5h-8zM420 232h8v21h-8zM420 265h8v16h-8zM428 154h8v43h-8zM428 248h8v12h-8zM428 293h8v18h-8zM436 141h7v23h-7zM436 311h7v2h-7zM443 113h7v5h-7zM443 144h7v25h-7zM443 334h7v18h-7zM450 141h7v8h-7zM450 336h7v3h-7zM457 154h6v5h-6zM457 166h6v13h-6zM457 326h6v8h-6zM463 149h6v5h-6zM463 331h6v8h-6zM463 357h6v12h-6zM469 111h6v2h-6zM469 341h6v13h-6zM469 372h6v7h-6zM475 118h5v5h-5zM475 367h5v5h-5zM480 113h5v5h-5zM480 377h5v7h-5zM485 108h5v3h-5zM485 402h5v5h-5zM490 111h5v10h-5zM490 392h5v5h-5zM495 116h4v5h-4zM495 369h4v26h-4zM499 118h5v8h-5zM499 384h5v18h-5zM504 93h4v5h-4zM504 417h4v6h-4zM508 100h4v6h-4zM508 402h4v3h-4zM512 103h4v5h-4zM512 415h4v8h-4zM516 88h4v7h-4zM516 410h4v7h-4zM520 106h4v5h-4zM520 415h4v5h-4zM524 95h3v11h-3zM524 415h3v2h-3zM527 83h4v17h-4zM531 90h3v8h-3zM534 85h4v3h-4zM538 65h3v18h-3zM541 85h3v13h-3zM544 73h2v5h-2z"/><path fill="#07a9c2" d="M420 159h8v5h-8zM420 220h8v12h-8zM428 197h8v5h-8zM428 230h8v18h-8zM436 164h7v10h-7zM436 184h7v5h-7zM436 281h7v10h-7zM436 303h7v8h-7zM443 118h7v26h-7zM443 169h7v10h-7zM443 329h7v5h-7zM450 149h7v10h-7zM450 334h7v2h-7zM457 159h6v7h-6zM457 179h6v5h-6zM457 321h6v5h-6zM463 154h6v5h-6zM463 324h6v7h-6zM469 113h6v3h-6zM469 126h6v18h-6zM469 339h6v2h-6zM469 354h6v18h-6zM475 123h5v21h-5zM475 349h5v18h-5zM480 118h5v3h-5zM480 359h5v18h-5zM485 111h5v2h-5zM485 372h5v7h-5zM485 387h5v15h-5zM490 121h5v12h-5zM490 377h5v15h-5zM495 121h4v7h-4zM495 359h4v10h-4zM499 126h5v15h-5zM499 377h5v7h-5zM504 98h4v2h-4zM504 412h4v5h-4zM508 106h4v5h-4zM508 384h4v3h-4zM508 397h4v5h-4zM512 108h4v3h-4zM512 410h4v5h-4zM516 95h4v13h-4zM516 402h4v8h-4zM516 417h4v6h-4zM520 111h4v2h-4zM520 410h4v5h-4zM524 106h3v5h-3zM524 410h3v5h-3zM527 100h4v3h-4zM527 420h4v3h-4zM531 98h3v5h-3zM534 88h4v2h-4zM538 83h3v5h-3zM541 98h3v2h-3zM544 78h2v5h-2z"/><path fill="#0aacbe" d="M428 202h8v5h-8zM428 217h8v13h-8zM436 174h7v10h-7zM436 189h7v5h-7zM436 248h7v10h-7zM436 275h7v6h-7zM436 291h7v12h-7zM443 179h7v8h-7zM443 268h7v13h-7zM443 324h7v5h-7zM450 159h7v20h-7zM450 326h7v8h-7zM457 184h6v5h-6zM457 319h6v2h-6zM463 159h6v5h-6zM463 321h6v3h-6zM469 116h6v10h-6zM469 144h6v5h-6zM469 334h6v5h-6zM475 144h5v5h-5zM475 344h5v5h-5zM480 121h5v7h-5zM480 131h5v13h-5zM480 354h5v5h-5zM485 113h5v3h-5zM485 364h5v8h-5zM485 379h5v8h-5zM490 133h5v8h-5zM490 359h5v18h-5zM495 128h4v5h-4zM495 357h4v2h-4zM499 141h5v3h-5zM499 369h5v8h-5zM504 100h4v13h-4zM504 397h4v15h-4zM508 111h4v2h-4zM508 379h4v5h-4zM508 387h4v10h-4zM512 111h4v5h-4zM512 402h4v8h-4zM516 108h4v3h-4zM516 397h4v5h-4zM520 113h4v3h-4zM520 400h4v10h-4zM524 111h3v5h-3zM524 392h3v10h-3zM524 405h3v5h-3zM527 103h4v3h-4zM527 412h4v8h-4zM531 103h3v5h-3zM531 415h3v8h-3zM534 90h4v5h-4zM534 417h4v6h-4zM538 88h3v5h-3zM538 420h3v3h-3zM541 100h3v3h-3zM541 410h3v13h-3zM544 83h2v17h-2z"/><path fill="#0faeb9" d="M428 207h8v10h-8zM436 194h7v31h-7zM436 237h7v11h-7zM436 258h7v17h-7zM443 187h7v7h-7zM443 212h7v20h-7zM443 240h7v8h-7zM443 263h7v5h-7zM443 281h7v12h-7zM443 313h7v11h-7zM450 179h7v8h-7zM450 319h7v7h-7zM457 189h6v3h-6zM457 313h6v6h-6zM463 164h6v7h-6zM463 179h6v5h-6zM463 316h6v5h-6zM469 149h6v7h-6zM469 331h6v3h-6zM475 149h5v2h-5zM475 339h5v5h-5zM480 128h5v3h-5zM480 144h5v5h-5zM480 349h5v5h-5zM485 116h5v7h-5zM485 126h5v18h-5zM485 359h5v5h-5zM490 141h5v8h-5zM490 336h5v23h-5zM495 133h4v6h-4zM495 354h4v3h-4zM499 144h5v2h-5zM499 359h5v10h-5zM504 113h4v8h-4zM504 387h4v10h-4zM508 113h4v18h-4zM508 377h4v2h-4zM512 116h4v5h-4zM512 364h4v38h-4zM516 111h4v2h-4zM516 392h4v5h-4zM520 116h4v2h-4zM520 384h4v16h-4zM524 116h3v5h-3zM524 387h3v5h-3zM524 402h3v3h-3zM527 106h4v2h-4zM527 397h4v15h-4zM531 108h3v3h-3zM531 405h3v10h-3zM534 95h4v3h-4zM534 415h4v2h-4zM538 93h3v5h-3zM538 415h3v5h-3zM541 103h3v3h-3zM541 402h3v8h-3zM544 100h2v3h-2zM544 415h2v8h-2z"/><path fill="#15b1b4" d="M436 225h7v12h-7zM443 194h7v8h-7zM443 204h7v8h-7zM443 232h7v8h-7zM443 248h7v15h-7zM443 293h7v8h-7zM443 306h7v7h-7zM450 187h7v15h-7zM450 268h7v18h-7zM450 316h7v3h-7zM457 192h6v20h-6zM457 263h6v30h-6zM457 308h6v5h-6zM463 171h6v8h-6zM463 184h6v8h-6zM463 311h6v5h-6zM469 156h6v21h-6zM469 326h6v5h-6zM475 151h5v5h-5zM475 334h5v5h-5zM480 149h5v5h-5zM480 344h5v5h-5zM485 123h5v3h-5zM485 144h5v5h-5zM485 336h5v23h-5zM490 149h5v10h-5zM490 329h5v7h-5zM495 139h4v5h-4zM495 352h4v2h-4zM499 146h5v5h-5zM499 349h5v10h-5zM504 121h4v5h-4zM504 372h4v15h-4zM508 131h4v8h-4zM508 372h4v5h-4zM512 121h4v5h-4zM512 357h4v7h-4zM516 113h4v5h-4zM516 387h4v5h-4zM520 118h4v5h-4zM520 377h4v7h-4zM524 121h3v2h-3zM524 379h3v8h-3zM527 108h4v5h-4zM527 392h4v5h-4zM531 111h3v2h-3zM531 400h3v5h-3zM534 98h4v5h-4zM534 407h4v8h-4zM538 98h3v5h-3zM538 400h3v15h-3zM541 106h3v2h-3zM541 395h3v7h-3zM544 103h2v3h-2zM544 410h2v5h-2z"/><path fill="#1db3af" d="M443 202h7v2h-7zM443 301h7v5h-7zM450 202h7v15h-7zM450 230h7v15h-7zM450 265h7v3h-7zM450 286h7v5h-7zM450 311h7v5h-7zM457 212h6v5h-6zM457 242h6v21h-6zM457 293h6v15h-6zM463 192h6v7h-6zM463 306h6v5h-6zM469 177h6v10h-6zM469 321h6v5h-6zM475 156h5v21h-5zM475 326h5v8h-5zM480 154h5v5h-5zM480 339h5v5h-5zM485 149h5v5h-5zM485 334h5v2h-5zM490 159h5v7h-5zM490 326h5v3h-5zM495 144h4v7h-4zM495 334h4v18h-4zM499 151h5v3h-5zM499 341h5v8h-5zM504 126h4v10h-4zM504 367h4v5h-4zM508 139h4v2h-4zM508 362h4v10h-4zM512 126h4v7h-4zM512 352h4v5h-4zM516 118h4v5h-4zM516 384h4v3h-4zM520 123h4v3h-4zM520 369h4v8h-4zM524 123h3v3h-3zM524 367h3v12h-3zM527 113h4v3h-4zM527 387h4v5h-4zM531 113h3v3h-3zM531 382h3v18h-3zM534 103h4v3h-4zM534 397h4v10h-4zM538 103h3v3h-3zM538 395h3v5h-3zM541 108h3v3h-3zM541 392h3v3h-3zM544 106h2v2h-2zM544 395h2v15h-2z"/><path fill="#25b5a9" d="M450 217h7v13h-7zM450 245h7v10h-7zM450 260h7v5h-7zM450 291h7v5h-7zM450 303h7v8h-7zM457 217h6v13h-6zM457 232h6v10h-6zM463 199h6v11h-6zM463 286h6v10h-6zM463 301h6v5h-6zM469 187h6v10h-6zM469 316h6v5h-6zM475 177h5v5h-5zM475 319h5v7h-5zM480 159h5v10h-5zM480 331h5v8h-5zM485 154h5v2h-5zM485 329h5v5h-5zM490 166h5v5h-5zM490 321h5v5h-5zM495 151h4v5h-4zM495 331h4v3h-4zM499 154h5v2h-5zM499 336h5v5h-5zM504 136h4v8h-4zM504 339h4v15h-4zM504 364h4v3h-4zM508 141h4v3h-4zM508 341h4v5h-4zM508 354h4v8h-4zM512 133h4v6h-4zM512 349h4v3h-4zM516 123h4v8h-4zM516 379h4v5h-4zM520 126h4v5h-4zM520 364h4v5h-4zM524 352h3v15h-3zM527 116h4v5h-4zM527 359h4v15h-4zM527 382h4v5h-4zM531 372h3v10h-3zM534 106h4v5h-4zM534 387h4v10h-4zM538 106h3v2h-3zM538 392h3v3h-3zM541 111h3v2h-3zM541 387h3v5h-3zM544 108h2v3h-2zM544 390h2v5h-2z"/><path fill="#2eb7a4" d="M450 255h7v5h-7zM450 296h7v7h-7zM457 230h6v2h-6zM463 210h6v38h-6zM463 260h6v26h-6zM463 296h6v5h-6zM469 197h6v7h-6zM469 222h6v8h-6zM469 311h6v5h-6zM475 182h5v7h-5zM475 313h5v6h-5zM480 169h5v8h-5zM480 329h5v2h-5zM485 156h5v5h-5zM485 326h5v3h-5zM490 171h5v6h-5zM490 319h5v2h-5zM495 156h4v5h-4zM495 329h4v2h-4zM499 156h5v3h-5zM499 331h5v5h-5zM504 144h4v2h-4zM504 334h4v5h-4zM504 354h4v10h-4zM508 144h4v2h-4zM508 336h4v5h-4zM508 346h4v8h-4zM512 139h4v2h-4zM512 346h4v3h-4zM516 131h4v8h-4zM516 359h4v20h-4zM520 131h4v2h-4zM520 357h4v7h-4zM524 126h3v2h-3zM524 349h3v3h-3zM527 121h4v7h-4zM527 357h4v2h-4zM527 374h4v8h-4zM531 116h3v5h-3zM531 367h3v5h-3zM534 111h4v2h-4zM534 379h4v8h-4zM538 108h3v5h-3zM538 390h3v2h-3zM541 113h3v3h-3zM541 382h3v5h-3zM544 111h2v2h-2zM544 384h2v6h-2z"/><path fill="#38b99e" d="M463 248h6v12h-6zM469 204h6v18h-6zM469 230h6v5h-6zM469 283h6v5h-6zM469 306h6v5h-6zM475 189h5v5h-5zM475 311h5v2h-5zM480 177h5v5h-5zM480 321h5v8h-5zM485 161h5v18h-5zM485 324h5v2h-5zM490 177h5v5h-5zM490 316h5v3h-5zM495 161h4v13h-4zM495 324h4v5h-4zM499 159h5v5h-5zM499 329h5v2h-5zM504 146h4v5h-4zM504 331h4v3h-4zM508 146h4v5h-4zM508 334h4v2h-4zM512 141h4v3h-4zM512 341h4v5h-4zM516 139h4v5h-4zM516 339h4v5h-4zM516 352h4v7h-4zM520 133h4v6h-4zM520 339h4v18h-4zM524 128h3v5h-3zM524 344h3v5h-3zM527 128h4v8h-4zM527 352h4v5h-4zM531 121h3v2h-3zM531 359h3v8h-3zM534 113h4v5h-4zM534 367h4v12h-4zM538 113h3v5h-3zM538 382h3v8h-3zM541 116h3v5h-3zM541 374h3v8h-3zM544 113h2v3h-2zM544 382h2v2h-2z"/><path fill="#42bb98" d="M469 235h6v10h-6zM469 260h6v23h-6zM469 288h6v8h-6zM469 303h6v3h-6zM475 194h5v3h-5zM475 306h5v5h-5zM480 182h5v12h-5zM480 308h5v13h-5zM485 179h5v8h-5zM485 319h5v5h-5zM490 182h5v5h-5zM490 313h5v3h-5zM495 174h4v5h-4zM495 319h4v5h-4zM499 164h5v2h-5zM499 324h5v5h-5zM504 151h4v3h-4zM504 329h4v2h-4zM508 151h4v3h-4zM508 331h4v3h-4zM512 144h4v5h-4zM512 339h4v2h-4zM516 144h4v2h-4zM516 334h4v5h-4zM516 344h4v8h-4zM520 139h4v2h-4zM520 336h4v3h-4zM524 133h3v6h-3zM524 341h3v3h-3zM527 136h4v5h-4zM527 341h4v11h-4zM531 123h3v8h-3zM531 349h3v10h-3zM534 118h4v5h-4zM534 359h4v8h-4zM538 118h3v3h-3zM538 354h3v28h-3zM541 121h3v5h-3zM541 367h3v7h-3zM544 116h2v2h-2zM544 379h2v3h-2z"/><path fill="#4dbc92" d="M469 245h6v15h-6zM469 296h6v7h-6zM475 197h5v5h-5zM475 215h5v22h-5zM475 260h5v18h-5zM475 303h5v3h-5zM480 194h5v3h-5zM480 303h5v5h-5zM485 187h5v5h-5zM485 313h5v6h-5zM490 187h5v5h-5zM490 311h5v2h-5zM495 179h4v3h-4zM495 313h4v6h-4zM499 166h5v5h-5zM499 319h5v5h-5zM504 154h4v2h-4zM504 326h4v3h-4zM508 154h4v5h-4zM508 329h4v2h-4zM512 149h4v2h-4zM512 336h4v3h-4zM516 146h4v3h-4zM516 331h4v3h-4zM520 141h4v3h-4zM520 331h4v5h-4zM524 139h3v5h-3zM524 339h3v2h-3zM527 141h4v3h-4zM527 339h4v2h-4zM531 131h3v5h-3zM531 346h3v3h-3zM534 123h4v5h-4zM534 349h4v10h-4zM538 121h3v2h-3zM538 349h3v5h-3zM541 126h3v5h-3zM541 344h3v23h-3zM544 118h2v3h-2zM544 374h2v5h-2z"/><path fill="#59bd8c" d="M475 202h5v13h-5zM475 237h5v23h-5zM475 278h5v25h-5zM480 197h5v5h-5zM480 293h5v10h-5zM485 192h5v5h-5zM485 311h5v2h-5zM490 192h5v18h-5zM490 260h5v13h-5zM490 306h5v5h-5zM495 182h4v5h-4zM495 308h4v5h-4zM499 171h5v8h-5zM499 311h5v8h-5zM504 156h4v3h-4zM504 324h4v2h-4zM508 159h4v5h-4zM508 326h4v3h-4zM512 151h4v3h-4zM512 334h4v2h-4zM516 149h4v2h-4zM520 144h4v2h-4zM520 329h4v2h-4zM524 144h3v2h-3zM524 336h3v3h-3zM527 144h4v2h-4zM527 336h4v3h-4zM531 136h3v3h-3zM531 341h3v5h-3zM534 128h4v5h-4zM534 341h4v8h-4zM538 123h3v3h-3zM538 344h3v5h-3zM541 131h3v8h-3zM541 341h3v3h-3zM544 121h2v5h-2zM544 344h2v10h-2zM544 369h2v5h-2z"/><path fill="#65be86" d="M480 202h5v23h-5zM480 260h5v5h-5zM480 283h5v10h-5zM485 197h5v2h-5zM485 237h5v8h-5zM485 253h5v40h-5zM485 303h5v8h-5zM490 210h5v5h-5zM490 250h5v10h-5zM490 273h5v33h-5zM495 187h4v5h-4zM495 303h4v5h-4zM499 179h5v8h-5zM499 306h5v5h-5zM504 159h4v7h-4zM504 321h4v3h-4zM508 164h4v5h-4zM508 324h4v2h-4zM512 154h4v2h-4zM512 326h4v8h-4zM516 151h4v3h-4zM516 329h4v2h-4zM520 146h4v3h-4zM520 326h4v3h-4zM524 146h3v3h-3zM524 331h3v5h-3zM527 146h4v3h-4zM527 334h4v2h-4zM531 139h3v2h-3zM531 339h3v2h-3zM534 133h4v3h-4zM534 339h4v2h-4zM538 126h3v2h-3zM538 341h3v3h-3zM541 139h3v2h-3zM541 339h3v2h-3zM544 126h2v5h-2zM544 341h2v3h-2zM544 354h2v15h-2z"/><path fill="#71bf80" d="M480 225h5v10h-5zM480 253h5v7h-5zM480 265h5v18h-5zM485 199h5v5h-5zM485 222h5v15h-5zM485 245h5v8h-5zM485 293h5v10h-5zM490 215h5v5h-5zM490 237h5v13h-5zM495 192h4v10h-4zM495 253h4v15h-4zM495 283h4v20h-4zM499 187h5v2h-5zM499 301h5v5h-5zM504 166h4v8h-4zM504 319h4v2h-4zM508 169h4v2h-4zM508 319h4v5h-4zM512 156h4v10h-4zM512 321h4v5h-4zM516 154h4v2h-4zM516 326h4v3h-4zM520 149h4v2h-4zM520 321h4v5h-4zM524 149h3v5h-3zM524 329h3v2h-3zM527 149h4v2h-4zM527 331h4v3h-4zM531 141h3v3h-3zM531 336h3v3h-3zM534 136h4v3h-4zM534 334h4v5h-4zM538 128h3v3h-3zM538 336h3v5h-3zM541 141h3v3h-3zM541 336h3v3h-3zM544 131h2v2h-2z"/><path fill="#7cbf7b" d="M480 235h5v18h-5zM485 204h5v18h-5zM490 220h5v17h-5zM495 202h4v23h-4zM495 248h4v5h-4zM495 268h4v15h-4zM499 189h5v5h-5zM499 291h5v10h-5zM504 174h4v8h-4zM504 311h4v8h-4zM508 171h4v3h-4zM508 311h4v8h-4zM512 166h4v5h-4zM512 319h4v2h-4zM516 156h4v3h-4zM520 151h4v3h-4zM520 316h4v5h-4zM524 154h3v2h-3zM524 324h3v5h-3zM527 151h4v3h-4zM527 329h4v2h-4zM531 144h3v2h-3zM531 331h3v5h-3zM534 139h4v2h-4zM534 331h4v3h-4zM538 131h3v10h-3zM538 334h3v2h-3zM541 144h3v2h-3zM541 334h3v2h-3zM544 133h2v3h-2zM544 339h2v2h-2z"/><path fill="#87bf77" d="M495 225h4v15h-4zM495 242h4v6h-4zM499 194h5v10h-5zM499 255h5v18h-5zM499 286h5v5h-5zM504 182h4v7h-4zM504 306h4v5h-4zM508 174h4v3h-4zM508 306h4v5h-4zM512 171h4v3h-4zM512 313h4v6h-4zM516 159h4v2h-4zM516 324h4v2h-4zM520 154h4v5h-4zM520 313h4v3h-4zM524 156h3v5h-3zM524 319h3v5h-3zM527 154h4v2h-4zM527 326h4v3h-4zM531 324h3v7h-3zM534 141h4v3h-4zM534 329h4v2h-4zM538 141h3v3h-3zM538 331h3v3h-3zM541 146h3v3h-3zM541 331h3v3h-3zM544 136h2v3h-2zM544 336h2v3h-2z"/><path fill="#92bf73" d="M495 240h4v2h-4zM499 204h5v31h-5zM499 250h5v5h-5zM499 273h5v13h-5zM504 189h4v8h-4zM504 303h4v3h-4zM508 177h4v2h-4zM508 301h4v5h-4zM512 174h4v5h-4zM512 311h4v2h-4zM516 161h4v3h-4zM516 321h4v3h-4zM520 159h4v2h-4zM520 311h4v2h-4zM524 161h3v3h-3zM524 316h3v3h-3zM527 156h4v3h-4zM527 321h4v5h-4zM531 146h3v5h-3zM531 321h3v3h-3zM534 144h4v2h-4zM534 326h4v3h-4zM538 144h3v2h-3zM538 329h3v2h-3zM541 149h3v2h-3zM541 326h3v5h-3zM544 139h2v2h-2zM544 334h2v2h-2z"/><path fill="#9cbf6f" d="M499 235h5v15h-5zM504 197h4v2h-4zM504 298h4v5h-4zM508 179h4v3h-4zM508 296h4v5h-4zM512 179h4v3h-4zM512 308h4v3h-4zM516 164h4v5h-4zM516 319h4v2h-4zM520 161h4v5h-4zM520 308h4v3h-4zM524 164h3v2h-3zM524 308h3v8h-3zM527 159h4v2h-4zM527 319h4v2h-4zM531 151h3v3h-3zM531 319h3v2h-3zM534 146h4v3h-4zM534 324h4v2h-4zM538 146h3v3h-3zM538 326h3v3h-3zM541 324h3v2h-3zM544 141h2v3h-2zM544 331h2v3h-2z"/><path fill="#a5be6b" d="M504 199h4v3h-4zM504 275h4v23h-4zM508 182h4v5h-4zM508 291h4v5h-4zM512 182h4v5h-4zM512 303h4v5h-4zM516 169h4v5h-4zM516 316h4v3h-4zM520 166h4v3h-4zM520 306h4v2h-4zM524 166h3v3h-3zM524 306h3v2h-3zM527 161h4v3h-4zM527 313h4v6h-4zM531 154h3v5h-3zM531 316h3v3h-3zM534 149h4v2h-4zM534 319h4v5h-4zM538 149h3v2h-3zM538 324h3v2h-3zM541 151h3v3h-3zM541 321h3v3h-3zM544 144h2v2h-2zM544 326h2v5h-2z"/><path fill="#aebe67" d="M504 202h4v5h-4zM504 265h4v10h-4zM508 187h4v12h-4zM508 286h4v5h-4zM512 187h4v2h-4zM512 293h4v10h-4zM516 174h4v8h-4zM516 311h4v5h-4zM520 169h4v2h-4zM520 303h4v3h-4zM524 169h3v2h-3zM524 301h3v5h-3zM527 164h4v2h-4zM527 311h4v2h-4zM531 159h3v2h-3zM531 313h3v3h-3zM534 151h4v3h-4zM534 316h4v3h-4zM538 151h3v3h-3zM538 321h3v3h-3zM541 154h3v2h-3zM541 319h3v2h-3zM544 146h2v3h-2zM544 321h2v5h-2z"/><path fill="#b7bd64" d="M504 207h4v3h-4zM504 237h4v8h-4zM504 260h4v5h-4zM508 199h4v5h-4zM508 260h4v26h-4zM512 189h4v3h-4zM512 286h4v7h-4zM516 182h4v5h-4zM516 293h4v18h-4zM520 171h4v8h-4zM520 301h4v2h-4zM524 171h3v3h-3zM524 298h3v3h-3zM527 166h4v3h-4zM527 308h4v3h-4zM531 161h3v5h-3zM531 308h3v5h-3zM534 154h4v2h-4zM534 311h4v5h-4zM538 154h3v2h-3zM538 319h3v2h-3zM541 156h3v3h-3zM541 313h3v6h-3zM544 149h2v2h-2zM544 319h2v2h-2z"/><path fill="#c0bc60" d="M504 210h4v27h-4zM504 245h4v15h-4zM508 204h4v6h-4zM508 245h4v15h-4zM512 192h4v7h-4zM512 281h4v5h-4zM516 187h4v5h-4zM516 288h4v5h-4zM520 179h4v5h-4zM520 296h4v5h-4zM524 174h3v5h-3zM524 291h3v7h-3zM527 169h4v2h-4zM527 306h4v2h-4zM531 166h3v3h-3zM531 306h3v2h-3zM534 156h4v3h-4zM534 308h4v3h-4zM538 156h3v3h-3zM538 316h3v3h-3zM541 159h3v2h-3zM541 311h3v2h-3zM544 151h2v5h-2zM544 316h2v3h-2z"/><path fill="#c8bc5d" d="M508 210h4v10h-4zM508 240h4v5h-4zM512 199h4v11h-4zM512 260h4v21h-4zM516 192h4v5h-4zM516 283h4v5h-4zM520 184h4v5h-4zM520 291h4v5h-4zM524 179h3v5h-3zM524 283h3v8h-3zM527 171h4v3h-4zM527 301h4v5h-4zM531 169h3v2h-3zM531 301h3v5h-3zM534 159h4v2h-4zM534 303h4v5h-4zM538 159h3v5h-3zM538 313h3v3h-3zM541 161h3v3h-3zM541 308h3v3h-3zM544 156h2v3h-2zM544 313h2v3h-2z"/><path fill="#d1bb59" d="M508 220h4v20h-4zM512 210h4v5h-4zM512 253h4v7h-4zM516 197h4v5h-4zM516 278h4v5h-4zM520 189h4v3h-4zM520 278h4v13h-4zM524 184h3v3h-3zM524 278h3v5h-3zM527 174h4v3h-4zM527 286h4v15h-4zM531 171h3v6h-3zM531 298h3v3h-3zM534 161h4v5h-4zM534 301h4v2h-4zM538 164h3v2h-3zM538 311h3v2h-3zM541 164h3v2h-3zM541 306h3v2h-3zM544 159h2v2h-2z"/><path fill="#d9ba56" d="M512 215h4v7h-4zM512 237h4v16h-4zM516 202h4v5h-4zM516 268h4v10h-4zM520 192h4v2h-4zM520 270h4v8h-4zM524 187h3v2h-3zM524 273h3v5h-3zM527 177h4v2h-4zM527 281h4v5h-4zM531 177h3v2h-3zM531 293h3v5h-3zM534 166h4v3h-4zM534 298h4v3h-4zM538 166h3v3h-3zM538 308h3v3h-3zM541 166h3v3h-3zM541 303h3v3h-3zM544 161h2v3h-2zM544 308h2v5h-2z"/><path fill="#e1b952" d="M512 222h4v15h-4zM516 207h4v3h-4zM516 260h4v8h-4zM520 194h4v3h-4zM520 255h4v15h-4zM524 189h3v5h-3zM524 263h3v10h-3zM527 179h4v5h-4zM527 275h4v6h-4zM531 179h3v3h-3zM531 291h3v2h-3zM534 169h4v2h-4zM534 293h4v5h-4zM538 169h3v2h-3zM538 303h3v5h-3zM541 169h3v5h-3zM541 301h3v2h-3zM544 164h2v2h-2zM544 306h2v2h-2z"/><path fill="#e9b94e" d="M516 210h4v5h-4zM516 237h4v23h-4zM520 197h4v2h-4zM520 242h4v13h-4zM524 194h3v3h-3zM524 258h3v5h-3zM527 184h4v3h-4zM527 273h4v2h-4zM531 182h3v2h-3zM531 286h3v5h-3zM534 171h4v6h-4zM534 291h4v2h-4zM538 171h3v3h-3zM538 298h3v5h-3zM541 174h3v8h-3zM541 296h3v5h-3zM544 301h2v5h-2z"/><path fill="#f1b94a" d="M516 215h4v22h-4zM520 199h4v5h-4zM520 237h4v5h-4zM524 197h3v2h-3zM524 210h3v10h-3zM524 253h3v5h-3zM527 187h4v2h-4zM527 268h4v5h-4zM531 281h3v5h-3zM534 177h4v2h-4zM534 288h4v3h-4zM538 174h3v3h-3zM538 291h3v7h-3zM541 182h3v5h-3zM541 293h3v3h-3zM544 166h2v3h-2zM544 293h2v8h-2z"/><path fill="#f8bb44" d="M520 204h4v21h-4zM520 230h4v7h-4zM524 199h3v11h-3zM524 220h3v5h-3zM524 248h3v5h-3zM527 189h4v5h-4zM527 265h4v3h-4zM531 184h3v3h-3zM531 268h3v13h-3zM534 179h4v3h-4zM534 283h4v5h-4zM538 177h3v2h-3zM538 286h3v5h-3zM541 187h3v2h-3zM541 291h3v2h-3zM544 169h2v2h-2zM544 288h2v5h-2z"/><path fill="#fdbe3d" d="M520 225h4v5h-4zM524 225h3v2h-3zM524 240h3v8h-3zM527 194h4v5h-4zM527 260h4v5h-4zM531 187h3v5h-3zM531 260h3v8h-3zM534 182h4v5h-4zM534 278h4v5h-4zM538 179h3v3h-3zM538 281h3v5h-3zM541 189h3v5h-3zM541 286h3v5h-3zM544 171h2v3h-2zM544 283h2v5h-2z"/><path fill="#ffc337" d="M524 227h3v5h-3zM524 235h3v5h-3zM527 199h4v31h-4zM527 255h4v5h-4zM531 192h3v5h-3zM531 255h3v5h-3zM534 187h4v2h-4zM534 273h4v5h-4zM538 182h3v2h-3zM538 270h3v11h-3zM541 194h3v3h-3zM541 263h3v15h-3zM541 281h3v5h-3zM544 174h2v5h-2zM544 281h2v2h-2z"/><path fill="#fec832" d="M524 232h3v3h-3zM527 230h4v5h-4zM527 253h4v2h-4zM531 197h3v7h-3zM531 250h3v5h-3zM534 189h4v3h-4zM534 265h4v8h-4zM538 184h3v5h-3zM538 265h3v5h-3zM541 197h3v2h-3zM541 260h3v3h-3zM541 278h3v3h-3zM544 179h2v5h-2zM544 278h2v3h-2z"/><path fill="#fcce2e" d="M527 235h4v18h-4zM531 204h3v8h-3zM531 245h3v5h-3zM534 192h4v2h-4zM534 258h4v7h-4zM538 189h3v10h-3zM538 260h3v5h-3zM541 199h3v8h-3zM541 258h3v2h-3zM544 184h2v5h-2zM544 273h2v5h-2z"/><path fill="#fad32a" d="M531 212h3v33h-3zM534 194h4v5h-4zM534 253h4v5h-4zM538 199h3v11h-3zM538 258h3v2h-3zM541 207h3v5h-3zM541 253h3v5h-3zM544 189h2v8h-2zM544 260h2v13h-2z"/><path fill="#f7d826" d="M534 199h4v3h-4zM534 242h4v11h-4zM538 210h3v7h-3zM538 248h3v10h-3zM541 212h3v5h-3zM541 250h3v3h-3zM544 197h2v5h-2zM544 258h2v2h-2z"/><path fill="#f5de21" d="M534 202h4v8h-4zM534 237h4v5h-4zM538 217h3v10h-3zM538 242h3v6h-3zM541 217h3v3h-3zM541 237h3v13h-3zM544 202h2v8h-2zM544 253h2v5h-2z"/><path fill="#f5e41d" d="M534 210h4v7h-4zM534 222h4v15h-4zM538 227h3v15h-3zM541 220h3v17h-3zM544 210h2v5h-2zM544 250h2v3h-2z"/><path fill="#f5eb18" d="M534 217h4v5h-4zM544 215h2v2h-2zM544 232h2v18h-2z"/><path fill="#f6f313" d="M544 217h2v15h-2z"/></g><g shape-rendering="crispEdges"><path fill="#352a87" d="M677 17h23v24h-23zM677 163h23v54h-23zM677 223h23v53h-23zM677 399h23v23h-23zM700 17h15v21h-15zM700 163h15v54h-15zM700 223h15v53h-15zM700 402h15v20h-15zM715 17h14v18h-14zM715 166h14v51h-14zM715 223h14v50h-14zM715 405h14v17h-14zM729 17h13v15h-13zM729 166h13v51h-13zM729 223h13v50h-13zM729 408h13v14h-13zM742 17h12v12h-12zM742 169h12v48h-12zM742 223h12v47h-12zM742 411h12v11h-12zM754 17h12v9h-12zM754 169h12v48h-12zM754 223h12v47h-12zM754 414h12v8h-12zM766 17h11v9h-11zM766 169h11v45h-11zM766 226h11v44h-11zM766 414h11v8h-11zM777 17h11v6h-11zM777 172h11v42h-11zM777 226h11v41h-11zM777 417h11v5h-11zM788 172h10v42h-10zM788 226h10v41h-10zM798 172h10v42h-10zM798 226h10v41h-10zM808 175h10v36h-10zM808 226h10v38h-10zM818 175h9v36h-9zM818 229h9v35h-9zM827 175h9v36h-9zM827 229h9v35h-9zM836 178h8v33h-8zM836 229h8v32h-8zM844 178h8v33h-8zM844 229h8v32h-8zM852 178h8v30h-8zM852 232h8v29h-8zM860 181h8v27h-8zM860 232h8v26h-8zM868 181h7v27h-7zM868 232h7v26h-7zM875 184h8v24h-8zM875 232h8v23h-8zM883 184h7v21h-7zM883 235h7v20h-7zM890 184h6v21h-6zM890 235h6v20h-6zM896 187h7v18h-7zM896 235h7v17h-7zM903 187h6v18h-6zM903 235h6v17h-6zM909 190h7v12h-7zM909 238h7v11h-7zM916 190h6v12h-6zM916 238h6v11h-6zM922 193h6v9h-6zM922 238h6v8h-6zM928 196h6v3h-6zM928 241h6v3h-6z"/><path fill="#363093" d="M677 41h23v53h-23zM677 151h23v12h-23zM677 276h23v12h-23zM677 345h23v54h-23zM700 38h15v53h-15zM700 154h15v9h-15zM700 276h15v9h-15zM700 348h15v54h-15zM715 35h14v53h-14zM715 157h14v9h-14zM715 273h14v9h-14zM715 351h14v54h-14zM729 32h13v53h-13zM729 157h13v9h-13zM729 273h13v9h-13zM729 354h13v54h-13zM742 29h12v53h-12zM742 160h12v9h-12zM742 270h12v9h-12zM742 357h12v54h-12zM754 26h12v53h-12zM754 160h12v9h-12zM754 270h12v9h-12zM754 360h12v54h-12zM766 26h11v53h-11zM766 163h11v6h-11zM766 270h11v6h-11zM766 360h11v54h-11zM777 23h11v53h-11zM777 163h11v9h-11zM777 267h11v9h-11zM777 363h11v54h-11zM788 17h10v53h-10zM788 166h10v6h-10zM788 267h10v6h-10zM788 369h10v53h-10zM798 17h10v42h-10zM798 169h10v3h-10zM798 267h10v3h-10zM798 381h10v41h-10zM808 17h10v33h-10zM808 169h10v6h-10zM808 211h10v3h-10zM808 264h10v6h-10zM808 390h10v32h-10zM818 17h9v24h-9zM818 172h9v3h-9zM818 264h9v3h-9zM818 399h9v23h-9zM827 17h9v15h-9zM827 172h9v3h-9zM827 264h9v3h-9zM827 408h9v14h-9zM836 17h8v9h-8zM836 172h8v6h-8zM836 261h8v6h-8zM836 414h8v8h-8zM844 175h8v3h-8zM844 261h8v3h-8zM852 208h8v3h-8zM852 229h8v3h-8zM860 178h8v3h-8zM883 232h7v3h-7z"/><path fill="#3637a0" d="M677 94h23v27h-23zM677 133h23v18h-23zM677 288h23v18h-23zM677 318h23v27h-23zM700 91h15v24h-15zM700 136h15v18h-15zM700 285h15v18h-15zM700 324h15v24h-15zM715 88h14v27h-14zM715 139h14v18h-14zM715 282h14v18h-14zM715 324h14v27h-14zM729 85h13v27h-13zM729 142h13v15h-13zM729 282h13v15h-13zM729 327h13v27h-13zM742 82h12v27h-12zM742 145h12v15h-12zM742 279h12v15h-12zM742 330h12v27h-12zM754 79h12v30h-12zM754 148h12v12h-12zM754 279h12v12h-12zM754 330h12v30h-12zM766 79h11v27h-11zM766 148h11v15h-11zM766 214h11v3h-11zM766 223h11v3h-11zM766 276h11v15h-11zM766 333h11v27h-11zM777 76h11v27h-11zM777 151h11v12h-11zM777 276h11v12h-11zM777 336h11v27h-11zM788 70h10v30h-10zM788 154h10v12h-10zM788 273h10v12h-10zM788 339h10v30h-10zM798 59h10v35h-10zM798 157h10v12h-10zM798 270h10v12h-10zM798 345h10v36h-10zM808 50h10v35h-10zM808 160h10v9h-10zM808 270h10v9h-10zM808 354h10v36h-10zM818 41h9v35h-9zM818 163h9v9h-9zM818 211h9v3h-9zM818 226h9v3h-9zM818 267h9v9h-9zM818 363h9v36h-9zM827 32h9v38h-9zM827 163h9v9h-9zM827 267h9v9h-9zM827 369h9v39h-9zM836 26h8v36h-8zM836 166h8v6h-8zM836 267h8v6h-8zM836 375h8v39h-8zM844 17h8v39h-8zM844 169h8v6h-8zM844 264h8v6h-8zM844 384h8v38h-8zM852 17h8v33h-8zM852 172h8v6h-8zM852 261h8v6h-8zM852 390h8v32h-8zM860 17h8v30h-8zM860 175h8v3h-8zM860 258h8v6h-8zM860 393h8v29h-8zM868 17h7v24h-7zM868 175h7v6h-7zM868 258h7v6h-7zM868 399h7v23h-7zM875 17h8v15h-8zM875 178h8v6h-8zM875 255h8v6h-8zM875 408h8v14h-8zM883 181h7v3h-7zM883 205h7v3h-7zM883 255h7v3h-7zM896 184h7v3h-7zM896 252h7v3h-7zM909 235h7v3h-7zM928 199h6v3h-6zM928 238h6v3h-6z"/><path fill="#353dad" d="M677 121h23v12h-23zM677 217h23v6h-23zM677 306h23v12h-23zM700 115h15v21h-15zM700 217h15v6h-15zM700 303h15v21h-15zM715 115h14v24h-14zM715 217h14v6h-14zM715 300h14v24h-14zM729 112h13v30h-13zM729 217h13v6h-13zM729 297h13v30h-13zM742 109h12v36h-12zM742 294h12v36h-12zM754 109h12v18h-12zM754 130h12v18h-12zM754 291h12v18h-12zM754 312h12v18h-12zM766 106h11v18h-11zM766 133h11v15h-11zM766 291h11v15h-11zM766 315h11v18h-11zM777 103h11v21h-11zM777 133h11v18h-11zM777 223h11v3h-11zM777 288h11v18h-11zM777 315h11v21h-11zM788 100h10v21h-10zM788 139h10v15h-10zM788 285h10v15h-10zM788 318h10v21h-10zM798 94h10v21h-10zM798 142h10v15h-10zM798 282h10v15h-10zM798 324h10v21h-10zM808 85h10v24h-10zM808 148h10v12h-10zM808 279h10v12h-10zM808 330h10v24h-10zM818 76h9v27h-9zM818 151h9v12h-9zM818 276h9v12h-9zM818 336h9v27h-9zM827 70h9v27h-9zM827 154h9v9h-9zM827 276h9v9h-9zM827 342h9v27h-9zM836 62h8v29h-8zM836 157h8v9h-8zM836 273h8v9h-8zM836 348h8v27h-8zM844 56h8v29h-8zM844 160h8v9h-8zM844 270h8v9h-8zM844 354h8v30h-8zM852 50h8v29h-8zM852 163h8v9h-8zM852 267h8v9h-8zM852 360h8v30h-8zM860 47h8v26h-8zM860 166h8v9h-8zM860 264h8v9h-8zM860 366h8v27h-8zM868 41h7v29h-7zM868 169h7v6h-7zM868 264h7v6h-7zM868 369h7v30h-7zM875 32h8v30h-8zM875 172h8v6h-8zM875 261h8v6h-8zM875 378h8v30h-8zM883 17h7v36h-7zM883 175h7v6h-7zM883 258h7v6h-7zM883 387h7v35h-7zM890 17h6v30h-6zM890 178h6v6h-6zM890 255h6v6h-6zM890 393h6v29h-6zM896 17h7v21h-7zM896 178h7v6h-7zM896 255h7v6h-7zM896 402h7v20h-7zM903 17h6v12h-6zM903 181h6v6h-6zM903 252h6v6h-6zM903 411h6v11h-6zM909 184h7v6h-7zM909 202h7v3h-7zM909 249h7v6h-7zM916 187h6v3h-6zM916 249h6v3h-6z"/><path fill="#3243ba" d="M742 217h12v6h-12zM754 127h12v3h-12zM754 217h12v6h-12zM754 309h12v3h-12zM766 124h11v9h-11zM766 217h11v6h-11zM766 306h11v9h-11zM777 124h11v9h-11zM777 214h11v9h-11zM777 306h11v9h-11zM788 121h10v18h-10zM788 214h10v12h-10zM788 300h10v18h-10zM798 115h10v15h-10zM798 133h10v9h-10zM798 297h10v9h-10zM798 309h10v15h-10zM808 109h10v15h-10zM808 133h10v15h-10zM808 291h10v15h-10zM808 315h10v15h-10zM818 103h9v18h-9zM818 139h9v12h-9zM818 288h9v12h-9zM818 318h9v18h-9zM827 97h9v18h-9zM827 142h9v12h-9zM827 211h9v3h-9zM827 226h9v3h-9zM827 285h9v12h-9zM827 324h9v18h-9zM836 91h8v21h-8zM836 145h8v12h-8zM836 282h8v12h-8zM836 327h8v21h-8zM844 85h8v21h-8zM844 148h8v12h-8zM844 279h8v9h-8zM844 333h8v21h-8zM852 79h8v21h-8zM852 154h8v9h-8zM852 276h8v9h-8zM852 339h8v21h-8zM860 73h8v24h-8zM860 157h8v9h-8zM860 208h8v3h-8zM860 229h8v3h-8zM860 273h8v9h-8zM860 342h8v24h-8zM868 70h7v24h-7zM868 160h7v9h-7zM868 270h7v9h-7zM868 345h7v24h-7zM875 62h8v23h-8zM875 163h8v9h-8zM875 267h8v9h-8zM875 354h8v24h-8zM883 53h7v26h-7zM883 166h7v9h-7zM883 264h7v9h-7zM883 360h7v27h-7zM890 47h6v23h-6zM890 169h6v9h-6zM890 232h6v3h-6zM890 261h6v9h-6zM890 369h6v24h-6zM896 38h7v27h-7zM896 172h7v6h-7zM896 261h7v6h-7zM896 375h7v27h-7zM903 29h6v27h-6zM903 175h6v6h-6zM903 258h6v6h-6zM903 384h6v27h-6zM909 17h7v36h-7zM909 178h7v6h-7zM909 255h7v6h-7zM909 387h7v35h-7zM916 17h6v30h-6zM916 181h6v6h-6zM916 252h6v6h-6zM916 393h6v29h-6zM922 17h6v21h-6zM922 187h6v6h-6zM922 246h6v6h-6zM922 399h6v23h-6zM928 17h6v12h-6zM928 190h6v6h-6zM928 244h6v5h-6zM928 411h6v11h-6z"/><path fill="#2c4ac7" d="M798 130h10v3h-10zM798 214h10v12h-10zM798 306h10v3h-10zM808 124h10v9h-10zM808 214h10v12h-10zM808 306h10v9h-10zM818 121h9v18h-9zM818 214h9v12h-9zM818 300h9v18h-9zM827 115h9v15h-9zM827 133h9v9h-9zM827 214h9v12h-9zM827 297h9v9h-9zM827 309h9v15h-9zM836 112h8v15h-8zM836 136h8v9h-8zM836 211h8v18h-8zM836 294h8v9h-8zM836 312h8v15h-8zM844 106h8v15h-8zM844 139h8v9h-8zM844 211h8v18h-8zM844 288h8v12h-8zM844 318h8v15h-8zM852 100h8v18h-8zM852 142h8v12h-8zM852 285h8v12h-8zM852 321h8v18h-8zM860 97h8v18h-8zM860 145h8v12h-8zM860 282h8v12h-8zM860 324h8v18h-8zM868 94h7v18h-7zM868 148h7v12h-7zM868 279h7v12h-7zM868 327h7v18h-7zM875 85h8v21h-8zM875 154h8v9h-8zM875 276h8v9h-8zM875 333h8v21h-8zM883 79h7v18h-7zM883 157h7v9h-7zM883 273h7v9h-7zM883 339h7v21h-7zM890 70h6v24h-6zM890 160h6v9h-6zM890 205h6v3h-6zM890 270h6v9h-6zM890 345h6v24h-6zM896 65h7v20h-7zM896 163h7v9h-7zM896 267h7v9h-7zM896 354h7v21h-7zM903 56h6v23h-6zM903 169h6v6h-6zM903 264h6v6h-6zM903 360h6v24h-6zM909 53h7v20h-7zM909 172h7v6h-7zM909 261h7v6h-7zM909 366h7v21h-7zM916 47h6v21h-6zM916 175h6v6h-6zM916 258h6v6h-6zM916 372h6v21h-6zM922 38h6v24h-6zM922 178h6v9h-6zM922 252h6v9h-6zM922 378h6v21h-6zM928 29h6v27h-6zM928 184h6v6h-6zM928 249h6v6h-6zM928 384h6v27h-6zM934 17h5v30h-5zM934 393h5v29h-5zM939 17h6v18h-6zM939 405h6v17h-6z"/><path fill="#2053d4" d="M827 130h9v3h-9zM827 306h9v3h-9zM836 127h8v9h-8zM836 303h8v9h-8zM844 121h8v18h-8zM844 300h8v18h-8zM852 118h8v24h-8zM852 211h8v18h-8zM852 297h8v24h-8zM860 115h8v15h-8zM860 136h8v9h-8zM860 211h8v18h-8zM860 294h8v9h-8zM860 309h8v15h-8zM868 112h7v15h-7zM868 139h7v9h-7zM868 208h7v24h-7zM868 291h7v9h-7zM868 312h7v15h-7zM875 106h8v15h-8zM875 142h8v12h-8zM875 208h8v24h-8zM875 285h8v12h-8zM875 318h8v15h-8zM883 97h7v18h-7zM883 148h7v9h-7zM883 208h7v24h-7zM883 282h7v9h-7zM883 324h7v15h-7zM890 94h6v15h-6zM890 151h6v9h-6zM890 279h6v9h-6zM890 330h6v15h-6zM896 85h7v18h-7zM896 154h7v9h-7zM896 276h7v9h-7zM896 336h7v18h-7zM903 79h6v21h-6zM903 160h6v9h-6zM903 270h6v9h-6zM903 339h6v21h-6zM909 73h7v21h-7zM909 163h7v9h-7zM909 267h7v9h-7zM909 345h7v21h-7zM916 68h6v20h-6zM916 166h6v9h-6zM916 264h6v9h-6zM916 351h6v21h-6zM922 62h6v20h-6zM922 172h6v6h-6zM922 261h6v6h-6zM922 357h6v21h-6zM928 56h6v20h-6zM928 175h6v9h-6zM928 255h6v9h-6zM928 363h6v21h-6zM934 47h5v21h-5zM934 372h5v21h-5zM939 35h6v24h-6zM939 381h6v24h-6zM945 17h5v33h-5zM945 390h5v32h-5zM950 17h6v21h-6zM950 402h6v20h-6zM956 17h5v9h-5zM956 414h5v8h-5z"/><path fill="#0f5cdd" d="M860 130h8v6h-8zM860 303h8v6h-8zM868 127h7v12h-7zM868 300h7v12h-7zM875 121h8v21h-8zM875 297h8v21h-8zM883 115h7v15h-7zM883 136h7v12h-7zM883 291h7v12h-7zM883 309h7v15h-7zM890 109h6v15h-6zM890 142h6v9h-6zM890 208h6v24h-6zM890 288h6v9h-6zM890 315h6v15h-6zM896 103h7v15h-7zM896 145h7v9h-7zM896 205h7v30h-7zM896 285h7v9h-7zM896 318h7v18h-7zM903 100h6v15h-6zM903 151h6v9h-6zM903 205h6v30h-6zM903 279h6v9h-6zM903 324h6v15h-6zM909 94h7v15h-7zM909 154h7v9h-7zM909 276h7v9h-7zM909 330h7v15h-7zM916 88h6v18h-6zM916 157h6v9h-6zM916 202h6v3h-6zM916 235h6v3h-6zM916 273h6v9h-6zM916 333h6v18h-6zM922 82h6v18h-6zM922 163h6v9h-6zM922 267h6v9h-6zM922 339h6v18h-6zM928 76h6v21h-6zM928 166h6v9h-6zM928 264h6v9h-6zM928 342h6v21h-6zM934 68h5v17h-5zM934 354h5v18h-5zM939 59h6v17h-6zM939 363h6v18h-6zM945 50h5v20h-5zM945 369h5v21h-5zM950 38h6v24h-6zM950 378h6v24h-6zM956 26h5v27h-5zM956 384h5v30h-5zM961 17h5v27h-5zM961 396h5v26h-5zM966 17h5v18h-5zM966 405h5v17h-5zM971 17h5v6h-5zM971 417h5v5h-5z"/><path fill="#0363e1" d="M883 130h7v6h-7zM883 303h7v6h-7zM890 124h6v18h-6zM890 297h6v18h-6zM896 118h7v15h-7zM896 139h7v6h-7zM896 294h7v6h-7zM896 306h7v12h-7zM903 115h6v15h-6zM903 139h6v12h-6zM903 288h6v12h-6zM903 309h6v15h-6zM909 109h7v15h-7zM909 145h7v9h-7zM909 205h7v30h-7zM909 285h7v9h-7zM909 315h7v15h-7zM916 106h6v15h-6zM916 148h6v9h-6zM916 205h6v30h-6zM916 282h6v9h-6zM916 318h6v15h-6zM922 100h6v15h-6zM922 151h6v12h-6zM922 202h6v36h-6zM922 276h6v12h-6zM922 324h6v15h-6zM928 97h6v12h-6zM928 157h6v9h-6zM928 202h6v36h-6zM928 273h6v9h-6zM928 330h6v12h-6zM934 85h5v18h-5zM934 184h5v12h-5zM934 244h5v11h-5zM934 336h5v18h-5zM939 76h6v21h-6zM939 342h6v21h-6zM945 70h5v18h-5zM945 351h5v18h-5zM950 62h6v17h-6zM950 360h6v18h-6zM956 53h5v20h-5zM956 366h5v18h-5zM961 44h5v18h-5zM961 378h5v18h-5zM966 35h5v21h-5zM966 384h5v21h-5zM971 23h5v24h-5zM971 393h5v24h-5zM976 17h5v24h-5zM976 399h5v23h-5zM981 17h4v15h-4zM981 408h4v14h-4zM985 17h5v6h-5zM985 417h5v5h-5z"/><path fill="#0268e1" d="M896 133h7v6h-7zM896 300h7v6h-7zM903 130h6v9h-6zM903 300h6v9h-6zM909 124h7v21h-7zM909 294h7v21h-7zM916 121h6v12h-6zM916 139h6v9h-6zM916 291h6v9h-6zM916 303h6v15h-6zM922 115h6v15h-6zM922 142h6v9h-6zM922 288h6v9h-6zM922 309h6v15h-6zM928 109h6v15h-6zM928 148h6v9h-6zM928 282h6v9h-6zM928 315h6v15h-6zM934 103h5v12h-5zM934 166h5v18h-5zM934 199h5v42h-5zM934 255h5v18h-5zM934 324h5v12h-5zM939 97h6v12h-6zM939 330h6v12h-6zM945 88h5v15h-5zM945 336h5v15h-5zM950 79h6v18h-6zM950 342h6v18h-6zM956 73h5v15h-5zM956 351h5v15h-5zM961 62h5v17h-5zM961 360h5v18h-5zM966 56h5v14h-5zM966 369h5v15h-5zM971 47h5v15h-5zM971 378h5v15h-5zM976 41h5v15h-5zM976 384h5v15h-5zM981 32h4v18h-4zM981 390h4v18h-4zM985 23h5v24h-5zM985 393h5v24h-5zM990 17h5v24h-5zM990 399h5v23h-5zM995 17h4v18h-4zM995 405h4v17h-4zM999 17h4v9h-4zM999 414h4v8h-4zM1003 17h5v3h-5zM1003 420h5v2h-5z"/><path fill="#046de0" d="M916 133h6v6h-6zM916 300h6v3h-6zM922 130h6v12h-6zM922 297h6v12h-6zM928 124h6v15h-6zM928 142h6v6h-6zM928 291h6v6h-6zM928 300h6v15h-6zM934 115h5v15h-5zM934 151h5v15h-5zM934 196h5v3h-5zM934 241h5v3h-5zM934 273h5v15h-5zM934 309h5v15h-5zM939 109h6v15h-6zM939 178h6v83h-6zM939 315h6v15h-6zM945 103h5v12h-5zM945 199h5v42h-5zM945 324h5v12h-5zM950 97h6v12h-6zM950 330h6v12h-6zM956 88h5v15h-5zM956 336h5v15h-5zM961 79h5v15h-5zM961 345h5v15h-5zM966 70h5v15h-5zM966 354h5v15h-5zM971 62h5v14h-5zM971 363h5v15h-5zM976 56h5v14h-5zM976 369h5v15h-5zM981 50h4v15h-4zM981 375h4v15h-4zM985 47h5v12h-5zM985 381h5v12h-5zM990 41h5v12h-5zM990 387h5v12h-5zM995 35h4v15h-4zM995 390h4v15h-4zM999 26h4v21h-4zM999 393h4v21h-4zM1003 20h5v24h-5zM1003 396h5v24h-5zM1008 17h4v21h-4zM1008 402h4v20h-4zM1012 17h4v12h-4zM1012 411h4v11h-4zM1016 17h4v3h-4zM1016 420h4v2h-4z"/><path fill="#0871de" d="M928 139h6v3h-6zM928 297h6v3h-6zM934 130h5v21h-5zM934 288h5v21h-5zM939 124h6v12h-6zM939 151h6v27h-6zM939 261h6v27h-6zM939 303h6v12h-6zM945 115h5v12h-5zM945 166h5v33h-5zM945 241h5v32h-5zM945 312h5v12h-5zM950 109h6v12h-6zM950 178h6v83h-6zM950 318h6v12h-6zM956 103h5v12h-5zM956 324h5v12h-5zM961 94h5v12h-5zM961 333h5v12h-5zM966 85h5v12h-5zM966 342h5v12h-5zM971 76h5v12h-5zM971 351h5v12h-5zM976 70h5v12h-5zM976 357h5v12h-5zM981 65h4v11h-4zM981 363h4v12h-4zM985 59h5v11h-5zM985 369h5v12h-5zM990 53h5v12h-5zM990 372h5v15h-5zM995 50h4v12h-4zM995 378h4v12h-4zM999 47h4v12h-4zM999 381h4v12h-4zM1003 44h5v12h-5zM1003 384h5v12h-5zM1008 38h4v15h-4zM1008 387h4v15h-4zM1012 29h4v21h-4zM1012 390h4v21h-4zM1016 20h4v21h-4zM1016 399h4v21h-4zM1020 17h4v15h-4zM1020 408h4v14h-4zM1024 17h4v9h-4zM1024 414h4v8h-4z"/><path fill="#0d75dc" d="M939 136h6v15h-6zM939 288h6v15h-6zM945 127h5v15h-5zM945 145h5v21h-5zM945 273h5v21h-5zM945 297h5v15h-5zM950 121h6v12h-6zM950 157h6v21h-6zM950 261h6v21h-6zM950 306h6v12h-6zM956 115h5v9h-5zM956 175h5v89h-5zM956 312h5v12h-5zM961 106h5v9h-5zM961 324h5v9h-5zM966 97h5v9h-5zM966 333h5v9h-5zM971 88h5v12h-5zM971 339h5v12h-5zM976 82h5v12h-5zM976 345h5v12h-5zM981 76h4v12h-4zM981 351h4v12h-4zM985 70h5v12h-5zM985 357h5v12h-5zM990 65h5v11h-5zM990 363h5v9h-5zM995 62h4v11h-4zM995 366h4v12h-4zM999 59h4v9h-4zM999 372h4v9h-4zM1003 56h5v9h-5zM1003 375h5v9h-5zM1008 53h4v9h-4zM1008 378h4v9h-4zM1012 50h4v9h-4zM1012 381h4v9h-4zM1016 41h4v12h-4zM1016 387h4v12h-4zM1020 32h4v18h-4zM1020 390h4v18h-4zM1024 26h4v18h-4zM1024 396h4v18h-4zM1028 17h4v18h-4zM1028 405h4v17h-4zM1032 17h4v12h-4zM1032 411h4v11h-4zM1036 17h3v6h-3zM1036 417h3v5h-3zM1039 17h4v3h-4zM1039 420h4v2h-4zM1043 17h4v3h-4zM1043 420h4v2h-4zM1047 17h3v6h-3zM1047 417h3v5h-3zM1050 17h4v9h-4zM1050 414h4v8h-4zM1054 17h3v6h-3zM1054 417h3v5h-3zM1057 17h4v3h-4zM1057 420h4v2h-4z"/><path fill="#1079da" d="M945 142h5v3h-5zM945 294h5v3h-5zM950 133h6v24h-6zM950 282h6v24h-6zM956 124h5v12h-5zM956 154h5v21h-5zM956 264h5v21h-5zM956 303h5v9h-5zM961 115h5v9h-5zM961 181h5v77h-5zM961 312h5v12h-5zM966 106h5v9h-5zM966 321h5v12h-5zM971 100h5v9h-5zM971 330h5v9h-5zM976 94h5v9h-5zM976 336h5v9h-5zM981 88h4v9h-4zM981 342h4v9h-4zM985 82h5v9h-5zM985 348h5v9h-5zM990 76h5v9h-5zM990 354h5v9h-5zM995 73h4v9h-4zM995 357h4v9h-4zM999 68h4v11h-4zM999 360h4v12h-4zM1003 65h5v8h-5zM1003 363h5v12h-5zM1008 62h4v8h-4zM1008 369h4v9h-4zM1012 59h4v9h-4zM1012 372h4v9h-4zM1016 53h4v9h-4zM1016 378h4v9h-4zM1020 50h4v9h-4zM1020 381h4v9h-4zM1024 44h4v12h-4zM1024 384h4v12h-4zM1028 35h4v18h-4zM1028 387h4v18h-4zM1032 29h4v18h-4zM1032 393h4v18h-4zM1036 23h3v15h-3zM1036 399h3v18h-3zM1039 20h4v15h-4zM1039 405h4v15h-4zM1043 20h4v15h-4zM1043 405h4v15h-4zM1047 23h3v12h-3zM1047 405h3v12h-3zM1050 26h4v12h-4zM1050 402h4v12h-4zM1054 23h3v12h-3zM1054 405h3v12h-3zM1057 20h4v12h-4zM1057 408h4v12h-4zM1061 17h3v9h-3zM1061 414h3v8h-3zM1064 17h3v6h-3zM1064 417h3v5h-3zM1067 17h4v3h-4zM1067 420h4v2h-4z"/><path fill="#127dd8" d="M956 136h5v18h-5zM956 285h5v18h-5zM961 124h5v12h-5zM961 157h5v24h-5zM961 258h5v21h-5zM961 303h5v9h-5zM966 115h5v12h-5zM966 184h5v71h-5zM966 312h5v9h-5zM971 109h5v9h-5zM971 321h5v9h-5zM976 103h5v9h-5zM976 327h5v9h-5zM981 97h4v9h-4zM981 333h4v9h-4zM985 91h5v9h-5zM985 339h5v9h-5zM990 85h5v9h-5zM990 345h5v9h-5zM995 82h4v9h-4zM995 348h4v9h-4zM999 79h4v9h-4zM999 351h4v9h-4zM1003 73h5v12h-5zM1003 354h5v9h-5zM1008 70h4v12h-4zM1008 357h4v12h-4zM1012 68h4v8h-4zM1012 363h4v9h-4zM1016 62h4v8h-4zM1016 369h4v9h-4zM1020 59h4v9h-4zM1020 372h4v9h-4zM1024 56h4v9h-4zM1024 375h4v9h-4zM1028 53h4v6h-4zM1028 381h4v6h-4zM1032 47h4v12h-4zM1032 381h4v12h-4zM1036 38h3v15h-3zM1036 387h3v12h-3zM1039 35h4v15h-4zM1039 390h4v15h-4zM1043 35h4v12h-4zM1043 393h4v12h-4zM1047 35h3v12h-3zM1047 393h3v12h-3zM1050 38h4v12h-4zM1050 390h4v12h-4zM1054 35h3v12h-3zM1054 393h3v12h-3zM1057 32h4v9h-4zM1057 399h4v9h-4zM1061 26h3v12h-3zM1061 402h3v12h-3zM1064 23h3v12h-3zM1064 405h3v12h-3zM1067 20h4v9h-4zM1067 411h4v9h-4zM1071 17h3v9h-3zM1071 414h3v8h-3zM1074 17h3v6h-3zM1074 417h3v5h-3zM1077 17h3v3h-3zM1077 420h3v2h-3z"/><path fill="#1481d6" d="M961 136h5v21h-5zM961 279h5v24h-5zM966 127h5v9h-5zM966 163h5v21h-5zM966 255h5v21h-5zM966 303h5v9h-5zM971 118h5v9h-5zM971 190h5v59h-5zM971 312h5v9h-5zM976 112h5v6h-5zM976 321h5v6h-5zM981 106h4v6h-4zM981 324h4v9h-4zM985 100h5v9h-5zM985 330h5v9h-5zM990 94h5v9h-5zM990 333h5v12h-5zM995 91h4v9h-4zM995 339h4v9h-4zM999 88h4v6h-4zM999 345h4v6h-4zM1003 85h5v6h-5zM1003 348h5v6h-5zM1008 82h4v6h-4zM1008 351h4v6h-4zM1012 76h4v9h-4zM1012 354h4v9h-4zM1016 70h4v9h-4zM1016 360h4v9h-4zM1020 68h4v8h-4zM1020 363h4v9h-4zM1024 65h4v5h-4zM1024 369h4v6h-4zM1028 59h4v9h-4zM1028 372h4v9h-4zM1032 59h4v6h-4zM1032 375h4v6h-4zM1036 53h3v9h-3zM1036 378h3v9h-3zM1039 50h4v9h-4zM1039 381h4v9h-4zM1043 47h4v12h-4zM1043 381h4v12h-4zM1047 47h3v9h-3zM1047 384h3v9h-3zM1050 50h4v9h-4zM1050 381h4v9h-4zM1054 47h3v9h-3zM1054 384h3v9h-3zM1057 41h4v12h-4zM1057 387h4v12h-4zM1061 38h3v9h-3zM1061 393h3v9h-3zM1064 35h3v9h-3zM1064 396h3v9h-3zM1067 29h4v9h-4zM1067 402h4v9h-4zM1071 26h3v9h-3zM1071 405h3v9h-3zM1074 23h3v9h-3zM1074 408h3v9h-3zM1077 20h3v9h-3zM1077 411h3v9h-3zM1080 17h3v9h-3zM1080 414h3v8h-3zM1083 17h4v6h-4zM1083 417h4v5h-4zM1087 17h3v3h-3zM1087 420h3v2h-3zM1090 17h3v3h-3zM1090 420h3v2h-3z"/><path fill="#1485d4" d="M966 136h5v27h-5zM966 276h5v27h-5zM971 127h5v9h-5zM971 166h5v24h-5zM971 249h5v24h-5zM971 303h5v9h-5zM976 118h5v9h-5zM976 193h5v53h-5zM976 312h5v9h-5zM981 112h4v9h-4zM981 318h4v6h-4zM985 109h5v6h-5zM985 324h5v6h-5zM990 103h5v9h-5zM990 327h5v6h-5zM995 100h4v9h-4zM995 330h4v9h-4zM999 94h4v9h-4zM999 336h4v9h-4zM1003 91h5v9h-5zM1003 339h5v9h-5zM1008 88h4v9h-4zM1008 342h4v9h-4zM1012 85h4v6h-4zM1012 348h4v6h-4zM1016 79h4v9h-4zM1016 351h4v9h-4zM1020 76h4v9h-4zM1020 354h4v9h-4zM1024 70h4v9h-4zM1024 360h4v9h-4zM1028 68h4v8h-4zM1028 363h4v9h-4zM1032 65h4v8h-4zM1032 366h4v9h-4zM1036 62h3v6h-3zM1036 372h3v6h-3zM1039 59h4v6h-4zM1039 375h4v6h-4zM1043 59h4v6h-4zM1043 375h4v6h-4zM1047 56h3v9h-3zM1047 375h3v9h-3zM1050 59h4v6h-4zM1050 375h4v6h-4zM1054 56h3v6h-3zM1054 378h3v6h-3zM1057 53h4v6h-4zM1057 381h4v6h-4zM1061 47h3v9h-3zM1061 384h3v9h-3zM1064 44h3v9h-3zM1064 387h3v9h-3zM1067 38h4v9h-4zM1067 393h4v9h-4zM1071 35h3v9h-3zM1071 396h3v9h-3zM1074 32h3v6h-3zM1074 399h3v9h-3zM1077 29h3v6h-3zM1077 405h3v6h-3zM1080 26h3v6h-3zM1080 408h3v6h-3zM1083 23h4v6h-4zM1083 411h4v6h-4zM1087 20h3v6h-3zM1087 411h3v9h-3zM1090 20h3v6h-3zM1090 414h3v6h-3zM1093 17h3v6h-3zM1093 417h3v5h-3zM1096 17h3v6h-3zM1096 417h3v5h-3zM1099 17h2v3h-2zM1099 420h2v2h-2zM1101 17h3v3h-3zM1101 420h3v2h-3zM1104 17h3v3h-3zM1104 420h3v2h-3z"/><path fill="#1389d3" d="M971 136h5v9h-5zM971 148h5v18h-5zM971 273h5v30h-5zM976 127h5v9h-5zM976 169h5v24h-5zM976 246h5v24h-5zM976 303h5v9h-5zM981 121h4v6h-4zM981 196h4v48h-4zM981 309h4v9h-4zM985 115h5v6h-5zM985 318h5v6h-5zM990 112h5v6h-5zM990 321h5v6h-5zM995 109h4v6h-4zM995 324h4v6h-4zM999 103h4v6h-4zM999 330h4v6h-4zM1003 100h5v6h-5zM1003 333h5v6h-5zM1008 97h4v6h-4zM1008 336h4v6h-4zM1012 91h4v9h-4zM1012 339h4v9h-4zM1016 88h4v6h-4zM1016 345h4v6h-4zM1020 85h4v6h-4zM1020 348h4v6h-4zM1024 79h4v9h-4zM1024 351h4v9h-4zM1028 76h4v6h-4zM1028 357h4v6h-4zM1032 73h4v6h-4zM1032 360h4v6h-4zM1036 68h3v8h-3zM1036 363h3v9h-3zM1039 65h4v8h-4zM1039 366h4v9h-4zM1043 65h4v5h-4zM1043 369h4v6h-4zM1047 65h3v5h-3zM1047 369h3v6h-3zM1050 65h4v5h-4zM1050 369h4v6h-4zM1054 62h3v6h-3zM1054 372h3v6h-3zM1057 59h4v6h-4zM1057 375h4v6h-4zM1061 56h3v6h-3zM1061 378h3v6h-3zM1064 53h3v6h-3zM1064 381h3v6h-3zM1067 47h4v9h-4zM1067 384h4v9h-4zM1071 44h3v9h-3zM1071 387h3v9h-3zM1074 38h3v9h-3zM1074 393h3v6h-3zM1077 35h3v9h-3zM1077 396h3v9h-3zM1080 32h3v9h-3zM1080 399h3v9h-3zM1083 29h4v9h-4zM1083 402h4v9h-4zM1087 26h3v9h-3zM1087 405h3v6h-3zM1090 26h3v6h-3zM1090 408h3v6h-3zM1093 23h3v6h-3zM1093 411h3v6h-3zM1096 23h3v6h-3zM1096 411h3v6h-3zM1099 20h2v6h-2zM1099 414h2v6h-2zM1101 20h3v6h-3zM1101 414h3v6h-3zM1104 20h3v3h-3zM1104 417h3v3h-3zM1107 17h3v6h-3zM1107 417h3v5h-3zM1110 17h3v6h-3zM1110 417h3v5h-3zM1113 17h2v3h-2zM1113 420h2v2h-2zM1115 17h2v3h-2zM1115 420h2v2h-2z"/><path fill="#108ed2" d="M971 145h5v3h-5zM976 136h5v9h-5zM976 151h5v18h-5zM976 270h5v18h-5zM976 294h5v9h-5zM981 127h4v9h-4zM981 169h4v27h-4zM981 244h4v23h-4zM981 303h4v6h-4zM985 121h5v9h-5zM985 202h5v36h-5zM985 309h5v9h-5zM990 118h5v6h-5zM990 315h5v6h-5zM995 115h4v6h-4zM995 318h4v6h-4zM999 109h4v6h-4zM999 324h4v6h-4zM1003 106h5v6h-5zM1003 327h5v6h-5zM1008 103h4v6h-4zM1008 327h4v9h-4zM1012 100h4v6h-4zM1012 333h4v6h-4zM1016 94h4v6h-4zM1016 339h4v6h-4zM1020 91h4v6h-4zM1020 342h4v6h-4zM1024 88h4v6h-4zM1024 345h4v6h-4zM1028 82h4v9h-4zM1028 348h4v9h-4zM1032 79h4v9h-4zM1032 351h4v9h-4zM1036 76h3v6h-3zM1036 357h3v6h-3zM1039 73h4v6h-4zM1039 360h4v6h-4zM1043 70h4v6h-4zM1043 363h4v6h-4zM1047 70h3v6h-3zM1047 363h3v6h-3zM1050 70h4v6h-4zM1050 363h4v6h-4zM1054 68h3v5h-3zM1054 366h3v6h-3zM1057 65h4v5h-4zM1057 369h4v6h-4zM1061 62h3v6h-3zM1061 372h3v6h-3zM1064 59h3v6h-3zM1064 375h3v6h-3zM1067 56h4v6h-4zM1067 378h4v6h-4zM1071 53h3v6h-3zM1071 381h3v6h-3zM1074 47h3v9h-3zM1074 384h3v9h-3zM1077 44h3v6h-3zM1077 390h3v6h-3zM1080 41h3v6h-3zM1080 393h3v6h-3zM1083 38h4v6h-4zM1083 396h4v6h-4zM1087 35h3v6h-3zM1087 399h3v6h-3zM1090 32h3v6h-3zM1090 402h3v6h-3zM1093 29h3v6h-3zM1093 405h3v6h-3zM1096 29h3v3h-3zM1096 405h3v6h-3zM1099 26h2v6h-2zM1099 408h2v6h-2zM1101 26h3v6h-3zM1101 408h3v6h-3zM1104 23h3v6h-3zM1104 411h3v6h-3zM1107 23h3v6h-3zM1107 411h3v6h-3zM1110 23h3v6h-3zM1110 411h3v6h-3zM1113 20h2v6h-2zM1113 414h2v6h-2zM1115 20h2v6h-2zM1115 414h2v6h-2z"/><path fill="#0c93d2" d="M976 145h5v6h-5zM976 288h5v6h-5zM981 136h4v12h-4zM981 154h4v15h-4zM981 267h4v18h-4zM981 291h4v12h-4zM985 130h5v9h-5zM985 172h5v30h-5zM985 238h5v29h-5zM985 300h5v9h-5zM990 124h5v6h-5zM990 205h5v30h-5zM990 309h5v6h-5zM995 121h4v6h-4zM995 312h4v6h-4zM999 115h4v6h-4zM999 318h4v6h-4zM1003 112h5v6h-5zM1003 321h5v6h-5zM1008 109h4v6h-4zM1008 324h4v3h-4zM1012 106h4v6h-4zM1012 327h4v6h-4zM1016 100h4v6h-4zM1016 333h4v6h-4zM1020 97h4v6h-4zM1020 336h4v6h-4zM1024 94h4v6h-4zM1024 339h4v6h-4zM1028 91h4v6h-4zM1028 342h4v6h-4zM1032 88h4v6h-4zM1032 345h4v6h-4zM1036 82h3v6h-3zM1036 351h3v6h-3zM1039 79h4v6h-4zM1039 354h4v6h-4zM1043 76h4v6h-4zM1043 357h4v6h-4zM1047 76h3v6h-3zM1047 357h3v6h-3zM1050 76h4v6h-4zM1050 357h4v6h-4zM1054 73h3v6h-3zM1054 360h3v6h-3zM1057 70h4v6h-4zM1057 363h4v6h-4zM1061 68h3v5h-3zM1061 366h3v6h-3zM1064 65h3v5h-3zM1064 369h3v6h-3zM1067 62h4v6h-4zM1067 372h4v6h-4zM1071 59h3v3h-3zM1071 378h3v3h-3zM1074 56h3v3h-3zM1074 381h3v3h-3zM1077 50h3v6h-3zM1077 384h3v6h-3zM1080 47h3v6h-3zM1080 387h3v6h-3zM1083 44h4v6h-4zM1083 390h4v6h-4zM1087 41h3v6h-3zM1087 393h3v6h-3zM1090 38h3v6h-3zM1090 396h3v6h-3zM1093 35h3v6h-3zM1093 399h3v6h-3zM1096 32h3v6h-3zM1096 402h3v3h-3zM1099 32h2v6h-2zM1099 402h2v6h-2zM1101 32h3v6h-3zM1101 402h3v6h-3zM1104 29h3v6h-3zM1104 405h3v6h-3zM1107 29h3v6h-3zM1107 405h3v6h-3zM1110 29h3v6h-3zM1110 405h3v6h-3zM1113 26h2v6h-2zM1113 408h2v6h-2zM1115 26h2v6h-2zM1115 408h2v6h-2z"/><path fill="#0998d1" d="M981 148h4v6h-4zM981 285h4v6h-4zM985 139h5v9h-5zM985 157h5v15h-5zM985 267h5v15h-5zM985 291h5v9h-5zM990 130h5v9h-5zM990 175h5v30h-5zM990 235h5v29h-5zM990 300h5v9h-5zM995 127h4v6h-4zM995 205h4v30h-4zM995 306h4v6h-4zM999 121h4v6h-4zM999 312h4v6h-4zM1003 118h5v6h-5zM1003 315h5v6h-5zM1008 115h4v6h-4zM1008 318h4v6h-4zM1012 112h4v6h-4zM1012 321h4v6h-4zM1016 106h4v6h-4zM1016 324h4v9h-4zM1020 103h4v6h-4zM1020 330h4v6h-4zM1024 100h4v6h-4zM1024 333h4v6h-4zM1028 97h4v3h-4zM1028 339h4v3h-4zM1032 94h4v6h-4zM1032 339h4v6h-4zM1036 88h3v6h-3zM1036 345h3v6h-3zM1039 85h4v6h-4zM1039 348h4v6h-4zM1043 82h4v6h-4zM1043 351h4v6h-4zM1047 82h3v3h-3zM1047 354h3v3h-3zM1050 82h4v3h-4zM1050 354h4v3h-4zM1054 79h3v6h-3zM1054 354h3v6h-3zM1057 76h4v6h-4zM1057 357h4v6h-4zM1061 73h3v6h-3zM1061 360h3v6h-3zM1064 70h3v6h-3zM1064 363h3v6h-3zM1067 68h4v2h-4zM1067 369h4v3h-4zM1071 62h3v6h-3zM1071 372h3v6h-3zM1074 59h3v6h-3zM1074 375h3v6h-3zM1077 56h3v6h-3zM1077 378h3v6h-3zM1080 53h3v6h-3zM1080 381h3v6h-3zM1083 50h4v6h-4zM1083 384h4v6h-4zM1087 47h3v6h-3zM1087 387h3v6h-3zM1090 44h3v6h-3zM1090 390h3v6h-3zM1093 41h3v6h-3zM1093 393h3v6h-3zM1096 38h3v6h-3zM1096 396h3v6h-3zM1099 38h2v6h-2zM1099 396h2v6h-2zM1101 38h3v6h-3zM1101 396h3v6h-3zM1104 35h3v6h-3zM1104 399h3v6h-3zM1107 35h3v6h-3zM1107 399h3v6h-3zM1110 35h3v6h-3zM1110 399h3v6h-3zM1113 32h2v6h-2zM1113 402h2v6h-2zM1115 32h2v6h-2zM1115 402h2v6h-2z"/><path fill="#079ccf" d="M985 148h5v9h-5zM985 282h5v9h-5zM990 139h5v9h-5zM990 157h5v18h-5zM990 264h5v18h-5zM990 291h5v9h-5zM995 133h4v9h-4zM995 175h4v30h-4zM995 235h4v29h-4zM995 297h4v9h-4zM999 127h4v6h-4zM999 208h4v24h-4zM999 303h4v9h-4zM1003 124h5v6h-5zM1003 309h5v6h-5zM1008 121h4v6h-4zM1008 312h4v6h-4zM1012 118h4v6h-4zM1012 315h4v6h-4zM1016 112h4v6h-4zM1016 321h4v3h-4zM1020 109h4v6h-4zM1020 324h4v6h-4zM1024 106h4v3h-4zM1024 327h4v6h-4zM1028 100h4v6h-4zM1028 333h4v6h-4zM1032 100h4v3h-4zM1032 336h4v3h-4zM1036 94h3v6h-3zM1036 339h3v6h-3zM1039 91h4v3h-4zM1039 345h4v3h-4zM1043 88h4v3h-4zM1043 345h4v6h-4zM1047 85h3v6h-3zM1047 348h3v6h-3zM1050 85h4v6h-4zM1050 348h4v6h-4zM1054 85h3v3h-3zM1054 351h3v3h-3zM1057 82h4v3h-4zM1057 354h4v3h-4zM1061 79h3v3h-3zM1061 357h3v3h-3zM1064 76h3v3h-3zM1064 360h3v3h-3zM1067 70h4v6h-4zM1067 363h4v6h-4zM1071 68h3v5h-3zM1071 366h3v6h-3zM1074 65h3v3h-3zM1074 372h3v3h-3zM1077 62h3v3h-3zM1077 375h3v3h-3zM1080 59h3v3h-3zM1080 378h3v3h-3zM1083 56h4v3h-4zM1083 381h4v3h-4zM1087 53h3v6h-3zM1087 381h3v6h-3zM1090 50h3v6h-3zM1090 384h3v6h-3zM1093 47h3v6h-3zM1093 387h3v6h-3zM1096 44h3v6h-3zM1096 390h3v6h-3zM1099 44h2v6h-2zM1099 390h2v6h-2zM1101 44h3v6h-3zM1101 390h3v6h-3zM1104 41h3v6h-3zM1104 393h3v6h-3zM1107 41h3v6h-3zM1107 393h3v6h-3zM1110 41h3v3h-3zM1110 393h3v6h-3zM1113 38h2v6h-2zM1113 396h2v6h-2zM1115 38h2v6h-2zM1115 396h2v6h-2z"/><path fill="#06a0cd" d="M990 148h5v9h-5zM990 282h5v9h-5zM995 142h4v6h-4zM995 160h4v15h-4zM995 264h4v15h-4zM995 291h4v6h-4zM999 133h4v9h-4zM999 175h4v33h-4zM999 232h4v29h-4zM999 297h4v6h-4zM1003 130h5v6h-5zM1003 205h5v30h-5zM1003 303h5v6h-5zM1008 127h4v6h-4zM1008 306h4v6h-4zM1012 124h4v3h-4zM1012 312h4v3h-4zM1016 118h4v6h-4zM1016 315h4v6h-4zM1020 115h4v3h-4zM1020 318h4v6h-4zM1024 109h4v6h-4zM1024 324h4v3h-4zM1028 106h4v6h-4zM1028 327h4v6h-4zM1032 103h4v6h-4zM1032 330h4v6h-4zM1036 100h3v3h-3zM1036 336h3v3h-3zM1039 94h4v6h-4zM1039 339h4v6h-4zM1043 91h4v6h-4zM1043 342h4v3h-4zM1047 91h3v3h-3zM1047 345h3v3h-3zM1050 91h4v3h-4zM1050 345h4v3h-4zM1054 88h3v3h-3zM1054 348h3v3h-3zM1057 85h4v3h-4zM1057 351h4v3h-4zM1061 82h3v3h-3zM1061 351h3v6h-3zM1064 79h3v6h-3zM1064 354h3v6h-3zM1067 76h4v6h-4zM1067 357h4v6h-4zM1071 73h3v3h-3zM1071 363h3v3h-3zM1074 68h3v5h-3zM1074 366h3v6h-3zM1077 65h3v5h-3zM1077 369h3v6h-3zM1080 62h3v6h-3zM1080 372h3v6h-3zM1083 59h4v6h-4zM1083 375h4v6h-4zM1087 59h3v3h-3zM1087 378h3v3h-3zM1090 56h3v3h-3zM1090 381h3v3h-3zM1093 53h3v3h-3zM1093 384h3v3h-3zM1096 50h3v6h-3zM1096 384h3v6h-3zM1099 50h2v6h-2zM1099 384h2v6h-2zM1101 50h3v3h-3zM1101 387h3v3h-3zM1104 47h3v6h-3zM1104 387h3v6h-3zM1107 47h3v6h-3zM1107 387h3v6h-3zM1110 44h3v6h-3zM1110 390h3v3h-3zM1113 44h2v6h-2zM1113 390h2v6h-2zM1115 44h2v6h-2zM1115 390h2v6h-2z"/><path fill="#06a4ca" d="M995 148h4v12h-4zM995 279h4v12h-4zM999 142h4v9h-4zM999 160h4v15h-4zM999 261h4v18h-4zM999 288h4v9h-4zM1003 136h5v9h-5zM1003 178h5v27h-5zM1003 235h5v26h-5zM1003 294h5v9h-5zM1008 133h4v6h-4zM1008 205h4v30h-4zM1008 300h4v6h-4zM1012 127h4v6h-4zM1012 306h4v6h-4zM1016 124h4v3h-4zM1016 312h4v3h-4zM1020 118h4v6h-4zM1020 315h4v3h-4zM1024 115h4v6h-4zM1024 318h4v6h-4zM1028 112h4v6h-4zM1028 321h4v6h-4zM1032 109h4v6h-4zM1032 324h4v6h-4zM1036 103h3v6h-3zM1036 330h3v6h-3zM1039 100h4v3h-4zM1039 336h4v3h-4zM1043 97h4v3h-4zM1043 339h4v3h-4zM1047 94h3v6h-3zM1047 339h3v6h-3zM1050 94h4v3h-4zM1050 342h4v3h-4zM1054 91h3v6h-3zM1054 342h3v6h-3zM1057 88h4v6h-4zM1057 345h4v6h-4zM1061 85h3v6h-3zM1061 348h3v3h-3zM1064 85h3v3h-3zM1064 351h3v3h-3zM1067 82h4v3h-4zM1067 354h4v3h-4zM1071 76h3v6h-3zM1071 357h3v6h-3zM1074 73h3v6h-3zM1074 360h3v6h-3zM1077 70h3v3h-3zM1077 366h3v3h-3zM1080 68h3v2h-3zM1080 369h3v3h-3zM1083 65h4v3h-4zM1083 372h4v3h-4zM1087 62h3v3h-3zM1087 375h3v3h-3zM1090 59h3v3h-3zM1090 375h3v6h-3zM1093 56h3v6h-3zM1093 378h3v6h-3zM1096 56h3v3h-3zM1096 381h3v3h-3zM1099 56h2v3h-2zM1099 381h2v3h-2zM1101 53h3v6h-3zM1101 381h3v6h-3zM1104 53h3v6h-3zM1104 381h3v6h-3zM1107 53h3v3h-3zM1107 384h3v3h-3zM1110 50h3v6h-3zM1110 384h3v6h-3zM1113 50h2v6h-2zM1113 384h2v6h-2zM1115 50h2v6h-2zM1115 384h2v6h-2z"/><path fill="#06a7c6" d="M999 151h4v9h-4zM999 279h4v9h-4zM1003 145h5v6h-5zM1003 160h5v18h-5zM1003 261h5v18h-5zM1003 288h5v6h-5zM1008 139h4v6h-4zM1008 178h4v27h-4zM1008 235h4v26h-4zM1008 294h4v6h-4zM1012 133h4v6h-4zM1012 300h4v6h-4zM1016 127h4v6h-4zM1016 306h4v6h-4zM1020 124h4v6h-4zM1020 309h4v6h-4zM1024 121h4v3h-4zM1024 315h4v3h-4zM1028 118h4v3h-4zM1028 318h4v3h-4zM1032 115h4v3h-4zM1032 321h4v3h-4zM1036 109h3v3h-3zM1036 327h3v3h-3zM1039 103h4v6h-4zM1039 330h4v6h-4zM1043 100h4v6h-4zM1043 333h4v6h-4zM1047 100h3v3h-3zM1047 336h3v3h-3zM1050 97h4v6h-4zM1050 336h4v6h-4zM1054 97h3v3h-3zM1054 339h3v3h-3zM1057 94h4v3h-4zM1057 342h4v3h-4zM1061 91h3v3h-3zM1061 345h3v3h-3zM1064 88h3v3h-3zM1064 348h3v3h-3zM1067 85h4v3h-4zM1067 351h4v3h-4zM1071 82h3v3h-3zM1071 354h3v3h-3zM1074 79h3v3h-3zM1074 357h3v3h-3zM1077 73h3v6h-3zM1077 360h3v6h-3zM1080 70h3v6h-3zM1080 363h3v6h-3zM1083 68h4v5h-4zM1083 366h4v6h-4zM1087 65h3v5h-3zM1087 369h3v6h-3zM1090 62h3v6h-3zM1090 372h3v3h-3zM1093 62h3v3h-3zM1093 375h3v3h-3zM1096 59h3v6h-3zM1096 375h3v6h-3zM1099 59h2v3h-2zM1099 378h2v3h-2zM1101 59h3v3h-3zM1101 378h3v3h-3zM1104 59h3v3h-3zM1104 378h3v3h-3zM1107 56h3v6h-3zM1107 378h3v6h-3zM1110 56h3v3h-3zM1110 378h3v6h-3zM1113 56h2v3h-2zM1113 381h2v3h-2zM1115 56h2v3h-2zM1115 381h2v3h-2z"/><path fill="#07a9c2" d="M1003 151h5v9h-5zM1003 279h5v9h-5zM1008 145h4v9h-4zM1008 163h4v15h-4zM1008 261h4v15h-4zM1008 285h4v9h-4zM1012 139h4v6h-4zM1012 184h4v71h-4zM1012 294h4v6h-4zM1016 133h4v6h-4zM1016 300h4v6h-4zM1020 130h4v3h-4zM1020 306h4v3h-4zM1024 124h4v6h-4zM1024 309h4v6h-4zM1028 121h4v6h-4zM1028 312h4v6h-4zM1032 118h4v6h-4zM1032 315h4v6h-4zM1036 112h3v6h-3zM1036 321h3v6h-3zM1039 109h4v3h-4zM1039 327h4v3h-4zM1043 106h4v3h-4zM1043 330h4v3h-4zM1047 103h3v6h-3zM1047 330h3v6h-3zM1050 103h4v3h-4zM1050 333h4v3h-4zM1054 100h3v3h-3zM1054 336h3v3h-3zM1057 97h4v3h-4zM1057 339h4v3h-4zM1061 94h3v3h-3zM1061 342h3v3h-3zM1064 91h3v3h-3zM1064 345h3v3h-3zM1067 88h4v3h-4zM1067 348h4v3h-4zM1071 85h3v3h-3zM1071 351h3v3h-3zM1074 82h3v3h-3zM1074 354h3v3h-3zM1077 79h3v3h-3zM1077 357h3v3h-3zM1080 76h3v3h-3zM1080 360h3v3h-3zM1083 73h4v3h-4zM1083 363h4v3h-4zM1087 70h3v3h-3zM1087 366h3v3h-3zM1090 68h3v2h-3zM1090 369h3v3h-3zM1093 65h3v3h-3zM1093 372h3v3h-3zM1096 65h3v3h-3zM1096 372h3v3h-3zM1099 62h2v6h-2zM1099 372h2v6h-2zM1101 62h3v6h-3zM1101 372h3v6h-3zM1104 62h3v3h-3zM1104 375h3v3h-3zM1107 62h3v3h-3zM1107 375h3v3h-3zM1110 59h3v6h-3zM1110 375h3v3h-3zM1113 59h2v6h-2zM1113 375h2v6h-2zM1115 59h2v6h-2zM1115 375h2v6h-2z"/><path fill="#0aacbe" d="M1008 154h4v9h-4zM1008 276h4v9h-4zM1012 145h4v9h-4zM1012 166h4v18h-4zM1012 255h4v18h-4zM1012 285h4v9h-4zM1016 139h4v6h-4zM1016 196h4v48h-4zM1016 294h4v6h-4zM1020 133h4v6h-4zM1020 300h4v6h-4zM1024 130h4v6h-4zM1024 303h4v6h-4zM1028 127h4v3h-4zM1028 309h4v3h-4zM1032 124h4v3h-4zM1032 312h4v3h-4zM1036 118h3v3h-3zM1036 318h3v3h-3zM1039 112h4v6h-4zM1039 321h4v6h-4zM1043 109h4v6h-4zM1043 324h4v6h-4zM1047 109h3v3h-3zM1047 327h3v3h-3zM1050 106h4v3h-4zM1050 330h4v3h-4zM1054 103h3v6h-3zM1054 330h3v6h-3zM1057 100h4v3h-4zM1057 336h4v3h-4zM1061 97h3v3h-3zM1061 336h3v6h-3zM1064 94h3v6h-3zM1064 339h3v6h-3zM1067 91h4v3h-4zM1067 345h4v3h-4zM1071 88h3v3h-3zM1071 348h3v3h-3zM1074 85h3v3h-3zM1074 351h3v3h-3zM1077 82h3v3h-3zM1077 354h3v3h-3zM1080 79h3v3h-3zM1080 357h3v3h-3zM1083 76h4v3h-4zM1083 360h4v3h-4zM1087 73h3v3h-3zM1087 360h3v6h-3zM1090 70h3v6h-3zM1090 363h3v6h-3zM1093 68h3v5h-3zM1093 366h3v6h-3zM1096 68h3v2h-3zM1096 369h3v3h-3zM1099 68h2v2h-2zM1099 369h2v3h-2zM1101 68h3v2h-3zM1101 369h3v3h-3zM1104 65h3v5h-3zM1104 369h3v6h-3zM1107 65h3v5h-3zM1107 369h3v6h-3zM1110 65h3v3h-3zM1110 372h3v3h-3zM1113 65h2v3h-2zM1113 372h2v3h-2zM1115 65h2v3h-2zM1115 372h2v3h-2z"/><path fill="#0faeb9" d="M1012 154h4v12h-4zM1012 273h4v12h-4zM1016 145h4v6h-4zM1016 175h4v21h-4zM1016 244h4v20h-4zM1016 288h4v6h-4zM1020 139h4v6h-4zM1020 294h4v6h-4zM1024 136h4v3h-4zM1024 300h4v3h-4zM1028 130h4v6h-4zM1028 303h4v6h-4zM1032 127h4v6h-4zM1032 306h4v6h-4zM1036 121h3v6h-3zM1036 312h3v6h-3zM1039 118h4v3h-4zM1039 318h4v3h-4zM1043 115h4v3h-4zM1043 321h4v3h-4zM1047 112h3v3h-3zM1047 324h3v3h-3zM1050 109h4v6h-4zM1050 324h4v6h-4zM1054 109h3v3h-3zM1054 327h3v3h-3zM1057 103h4v6h-4zM1057 330h4v6h-4zM1061 100h3v6h-3zM1061 333h3v3h-3zM1064 100h3v3h-3zM1064 336h3v3h-3zM1067 94h4v6h-4zM1067 339h4v6h-4zM1071 91h3v3h-3zM1071 345h3v3h-3zM1074 88h3v3h-3zM1074 348h3v3h-3zM1077 85h3v3h-3zM1077 351h3v3h-3zM1080 82h3v3h-3zM1080 354h3v3h-3zM1083 79h4v3h-4zM1083 357h4v3h-4zM1087 76h3v6h-3zM1087 357h3v3h-3zM1090 76h3v3h-3zM1090 360h3v3h-3zM1093 73h3v3h-3zM1093 363h3v3h-3zM1096 70h3v6h-3zM1096 363h3v6h-3zM1099 70h2v3h-2zM1099 366h2v3h-2zM1101 70h3v3h-3zM1101 366h3v3h-3zM1104 70h3v3h-3zM1104 366h3v3h-3zM1107 70h3v3h-3zM1107 366h3v3h-3zM1110 68h3v5h-3zM1110 366h3v6h-3zM1113 68h2v5h-2zM1113 366h2v6h-2zM1115 68h2v5h-2zM1115 366h2v6h-2z"/><path fill="#15b1b4" d="M1016 151h4v6h-4zM1016 160h4v15h-4zM1016 264h4v24h-4zM1020 145h4v6h-4zM1020 184h4v71h-4zM1020 288h4v6h-4zM1024 139h4v6h-4zM1024 294h4v6h-4zM1028 136h4v3h-4zM1028 300h4v3h-4zM1032 133h4v3h-4zM1032 303h4v3h-4zM1036 127h3v3h-3zM1036 309h3v3h-3zM1039 121h4v6h-4zM1039 312h4v6h-4zM1043 118h4v6h-4zM1043 315h4v6h-4zM1047 115h3v6h-3zM1047 318h3v6h-3zM1050 115h4v3h-4zM1050 321h4v3h-4zM1054 112h3v3h-3zM1054 324h3v3h-3zM1057 109h4v3h-4zM1057 327h4v3h-4zM1061 106h3v3h-3zM1061 330h3v3h-3zM1064 103h3v3h-3zM1064 333h3v3h-3zM1067 100h4v3h-4zM1067 336h4v3h-4zM1071 94h3v3h-3zM1071 342h3v3h-3zM1074 91h3v3h-3zM1074 345h3v3h-3zM1077 88h3v3h-3zM1077 348h3v3h-3zM1080 85h3v3h-3zM1080 351h3v3h-3zM1083 82h4v3h-4zM1083 354h4v3h-4zM1087 82h3v3h-3zM1087 354h3v3h-3zM1090 79h3v3h-3zM1090 357h3v3h-3zM1093 76h3v3h-3zM1093 360h3v3h-3zM1096 76h3v3h-3zM1096 360h3v3h-3zM1099 73h2v6h-2zM1099 360h2v6h-2zM1101 73h3v6h-3zM1101 360h3v6h-3zM1104 73h3v3h-3zM1104 360h3v6h-3zM1107 73h3v3h-3zM1107 363h3v3h-3zM1110 73h3v3h-3zM1110 363h3v3h-3zM1113 73h2v3h-2zM1113 363h2v3h-2zM1115 73h2v3h-2zM1115 363h2v3h-2z"/><path fill="#1db3af" d="M1016 157h4v3h-4zM1020 151h4v6h-4zM1020 166h4v18h-4zM1020 255h4v18h-4zM1020 282h4v6h-4zM1024 145h4v6h-4zM1024 193h4v53h-4zM1024 288h4v6h-4zM1028 139h4v6h-4zM1028 294h4v6h-4zM1032 136h4v6h-4zM1032 297h4v6h-4zM1036 130h3v6h-3zM1036 303h3v6h-3zM1039 127h4v3h-4zM1039 309h4v3h-4zM1043 124h4v3h-4zM1043 312h4v3h-4zM1047 121h3v3h-3zM1047 315h3v3h-3zM1050 118h4v3h-4zM1050 318h4v3h-4zM1054 115h3v3h-3zM1054 321h3v3h-3zM1057 112h4v3h-4zM1057 324h4v3h-4zM1061 109h3v3h-3zM1061 327h3v3h-3zM1064 106h3v3h-3zM1064 330h3v3h-3zM1067 103h4v3h-4zM1067 333h4v3h-4zM1071 97h3v3h-3zM1071 339h3v3h-3zM1074 94h3v3h-3zM1074 342h3v3h-3zM1077 91h3v3h-3zM1077 345h3v3h-3zM1080 88h3v3h-3zM1080 348h3v3h-3zM1083 85h4v3h-4zM1083 351h4v3h-4zM1090 82h3v3h-3zM1090 354h3v3h-3zM1093 79h3v3h-3zM1093 357h3v3h-3zM1096 79h3v3h-3zM1096 357h3v3h-3zM1099 79h2v3h-2zM1099 357h2v3h-2zM1101 79h3v3h-3zM1101 357h3v3h-3zM1104 76h3v6h-3zM1104 357h3v3h-3zM1107 76h3v6h-3zM1107 357h3v6h-3zM1110 76h3v6h-3zM1110 357h3v6h-3zM1113 76h2v3h-2zM1113 357h2v6h-2zM1115 76h2v3h-2zM1115 360h2v3h-2z"/><path fill="#25b5a9" d="M1020 157h4v9h-4zM1020 273h4v9h-4zM1024 151h4v6h-4zM1024 172h4v21h-4zM1024 246h4v21h-4zM1024 282h4v6h-4zM1028 145h4v6h-4zM1028 288h4v6h-4zM1032 142h4v6h-4zM1032 291h4v6h-4zM1036 136h3v3h-3zM1036 300h3v3h-3zM1039 130h4v6h-4zM1039 303h4v6h-4zM1043 127h4v3h-4zM1043 309h4v3h-4zM1047 124h3v3h-3zM1047 312h3v3h-3zM1050 121h4v6h-4zM1050 312h4v6h-4zM1054 118h3v6h-3zM1054 315h3v6h-3zM1057 115h4v3h-4zM1057 321h4v3h-4zM1061 112h3v3h-3zM1061 324h3v3h-3zM1064 109h3v3h-3zM1064 327h3v3h-3zM1067 106h4v3h-4zM1067 330h4v3h-4zM1071 100h3v3h-3zM1071 336h3v3h-3zM1074 97h3v3h-3zM1074 339h3v3h-3zM1077 94h3v3h-3zM1077 342h3v3h-3zM1080 91h3v3h-3zM1080 345h3v3h-3zM1083 88h4v3h-4zM1083 348h4v3h-4zM1087 85h3v3h-3zM1087 351h3v3h-3zM1090 85h3v3h-3zM1090 351h3v3h-3zM1093 82h3v3h-3zM1093 354h3v3h-3zM1096 82h3v3h-3zM1096 354h3v3h-3zM1099 82h2v3h-2zM1099 354h2v3h-2zM1113 79h2v3h-2zM1115 79h2v3h-2zM1115 357h2v3h-2z"/><path fill="#2eb7a4" d="M1024 157h4v15h-4zM1024 267h4v15h-4zM1028 151h4v6h-4zM1028 181h4v77h-4zM1028 282h4v6h-4zM1032 148h4v3h-4zM1032 288h4v3h-4zM1036 139h3v6h-3zM1036 294h3v6h-3zM1039 136h4v3h-4zM1039 300h4v3h-4zM1043 130h4v6h-4zM1043 303h4v6h-4zM1047 127h3v6h-3zM1047 306h3v6h-3zM1050 127h4v3h-4zM1050 309h4v3h-4zM1054 124h3v3h-3zM1054 312h3v3h-3zM1057 118h4v6h-4zM1057 315h4v6h-4zM1061 115h3v3h-3zM1061 321h3v3h-3zM1064 112h3v3h-3zM1064 324h3v3h-3zM1067 109h4v3h-4zM1067 327h4v3h-4zM1071 103h3v6h-3zM1071 330h3v6h-3zM1074 100h3v3h-3zM1074 336h3v3h-3zM1077 97h3v3h-3zM1077 339h3v3h-3zM1080 94h3v3h-3zM1080 342h3v3h-3zM1083 91h4v3h-4zM1083 345h4v3h-4zM1087 88h3v3h-3zM1087 348h3v3h-3zM1093 85h3v3h-3zM1093 351h3v3h-3zM1101 82h3v3h-3zM1101 354h3v3h-3zM1104 82h3v3h-3zM1104 354h3v3h-3zM1107 82h3v3h-3zM1107 354h3v3h-3zM1110 82h3v3h-3zM1110 354h3v3h-3zM1113 82h2v3h-2zM1113 354h2v3h-2zM1115 82h2v3h-2zM1115 354h2v3h-2z"/><path fill="#38b99e" d="M1028 157h4v6h-4zM1028 166h4v15h-4zM1028 258h4v15h-4zM1028 276h4v6h-4zM1032 151h4v6h-4zM1032 190h4v59h-4zM1032 282h4v6h-4zM1036 145h3v3h-3zM1036 291h3v3h-3zM1039 139h4v3h-4zM1039 297h4v3h-4zM1043 136h4v3h-4zM1043 300h4v3h-4zM1047 133h3v3h-3zM1047 303h3v3h-3zM1050 130h4v6h-4zM1050 303h4v6h-4zM1054 127h3v3h-3zM1054 306h3v6h-3zM1057 124h4v3h-4zM1057 312h4v3h-4zM1061 118h3v6h-3zM1061 315h3v6h-3zM1064 115h3v3h-3zM1064 321h3v3h-3zM1067 112h4v3h-4zM1067 324h4v3h-4zM1071 109h3v3h-3zM1071 327h3v3h-3zM1074 103h3v3h-3zM1074 333h3v3h-3zM1077 100h3v3h-3zM1077 336h3v3h-3zM1080 97h3v3h-3zM1080 339h3v3h-3zM1083 94h4v3h-4zM1083 342h4v3h-4zM1087 91h3v3h-3zM1087 345h3v3h-3zM1090 88h3v3h-3zM1090 348h3v3h-3zM1093 88h3v3h-3zM1093 348h3v3h-3zM1096 85h3v3h-3zM1096 351h3v3h-3zM1099 85h2v3h-2zM1099 351h2v3h-2zM1101 85h3v3h-3zM1101 351h3v3h-3zM1104 85h3v3h-3zM1104 351h3v3h-3z"/><path fill="#42bb98" d="M1028 163h4v3h-4zM1028 273h4v3h-4zM1032 157h4v6h-4zM1032 172h4v18h-4zM1032 249h4v18h-4zM1032 276h4v6h-4zM1036 148h3v6h-3zM1036 285h3v6h-3zM1039 142h4v6h-4zM1039 291h4v6h-4zM1043 139h4v6h-4zM1043 294h4v6h-4zM1047 136h3v6h-3zM1047 297h3v6h-3zM1050 136h4v3h-4zM1050 300h4v3h-4zM1054 130h3v6h-3zM1054 303h3v3h-3zM1057 127h4v3h-4zM1057 309h4v3h-4zM1061 124h3v3h-3zM1061 312h3v3h-3zM1064 118h3v6h-3zM1064 315h3v6h-3zM1067 115h4v3h-4zM1067 321h4v3h-4zM1071 112h3v3h-3zM1071 324h3v3h-3zM1074 106h3v3h-3zM1074 330h3v3h-3zM1077 103h3v3h-3zM1077 333h3v3h-3zM1080 100h3v3h-3zM1080 336h3v3h-3zM1083 97h4v3h-4zM1083 339h4v3h-4zM1087 94h3v3h-3zM1087 342h3v3h-3zM1090 91h3v3h-3zM1090 345h3v3h-3zM1096 88h3v3h-3zM1096 348h3v3h-3zM1099 88h2v3h-2zM1099 348h2v3h-2zM1107 85h3v3h-3zM1107 351h3v3h-3zM1110 85h3v3h-3zM1110 351h3v3h-3zM1113 85h2v3h-2zM1113 351h2v3h-2zM1115 85h2v3h-2zM1115 351h2v3h-2z"/><path fill="#4dbc92" d="M1032 163h4v9h-4zM1032 267h4v9h-4zM1036 154h3v6h-3zM1036 205h3v30h-3zM1036 279h3v6h-3zM1039 148h4v6h-4zM1039 285h4v6h-4zM1043 145h4v3h-4zM1043 291h4v3h-4zM1047 142h3v3h-3zM1047 294h3v3h-3zM1050 139h4v6h-4zM1050 294h4v6h-4zM1054 136h3v3h-3zM1054 300h3v3h-3zM1057 130h4v6h-4zM1057 303h4v6h-4zM1061 127h3v3h-3zM1061 309h3v3h-3zM1064 124h3v3h-3zM1064 312h3v3h-3zM1067 118h4v3h-4zM1067 318h4v3h-4zM1071 115h3v3h-3zM1071 321h3v3h-3zM1074 109h3v3h-3zM1074 327h3v3h-3zM1077 106h3v3h-3zM1077 330h3v3h-3zM1080 103h3v3h-3zM1080 333h3v3h-3zM1083 100h4v3h-4zM1083 336h4v3h-4zM1087 97h3v3h-3zM1087 339h3v3h-3zM1090 94h3v3h-3zM1090 342h3v3h-3zM1093 91h3v3h-3zM1093 345h3v3h-3zM1096 91h3v3h-3zM1096 345h3v3h-3zM1101 88h3v3h-3zM1101 348h3v3h-3zM1104 88h3v3h-3zM1104 348h3v3h-3zM1107 88h3v3h-3zM1107 348h3v3h-3z"/><path fill="#59bd8c" d="M1036 160h3v6h-3zM1036 175h3v30h-3zM1036 235h3v29h-3zM1036 273h3v6h-3zM1039 154h4v3h-4zM1039 279h4v6h-4zM1043 148h4v6h-4zM1043 285h4v6h-4zM1047 145h3v6h-3zM1047 288h3v6h-3zM1050 145h4v3h-4zM1050 291h4v3h-4zM1054 139h3v6h-3zM1054 294h3v6h-3zM1057 136h4v3h-4zM1057 300h4v3h-4zM1061 130h3v6h-3zM1061 303h3v6h-3zM1064 127h3v3h-3zM1064 309h3v3h-3zM1067 121h4v3h-4zM1067 315h4v3h-4zM1071 118h3v3h-3zM1071 318h3v3h-3zM1074 112h3v3h-3zM1074 324h3v3h-3zM1077 109h3v3h-3zM1077 327h3v3h-3zM1080 106h3v3h-3zM1080 330h3v3h-3zM1090 97h3v3h-3zM1090 339h3v3h-3zM1093 94h3v3h-3zM1093 342h3v3h-3zM1099 91h2v3h-2zM1099 345h2v3h-2zM1101 91h3v3h-3zM1101 345h3v3h-3zM1110 88h3v3h-3zM1110 348h3v3h-3zM1113 88h2v3h-2zM1113 348h2v3h-2zM1115 88h2v3h-2zM1115 348h2v3h-2z"/><path fill="#65be86" d="M1036 166h3v9h-3zM1036 264h3v9h-3zM1039 157h4v6h-4zM1039 202h4v36h-4zM1039 276h4v3h-4zM1043 154h4v6h-4zM1043 279h4v6h-4zM1047 151h3v6h-3zM1047 282h3v6h-3zM1050 148h4v6h-4zM1050 285h4v6h-4zM1054 145h3v3h-3zM1054 291h3v3h-3zM1057 139h4v6h-4zM1057 294h4v6h-4zM1061 136h3v3h-3zM1061 300h3v3h-3zM1064 130h3v3h-3zM1064 306h3v3h-3zM1067 124h4v6h-4zM1067 309h4v6h-4zM1071 121h3v3h-3zM1071 315h3v3h-3zM1074 115h3v3h-3zM1074 321h3v3h-3zM1077 112h3v3h-3zM1077 324h3v3h-3zM1080 109h3v3h-3zM1080 327h3v3h-3zM1083 103h4v3h-4zM1083 333h4v3h-4zM1087 100h3v3h-3zM1087 336h3v3h-3zM1093 97h3v3h-3zM1093 339h3v3h-3zM1096 94h3v3h-3zM1096 342h3v3h-3zM1099 94h2v3h-2zM1099 342h2v3h-2zM1104 91h3v3h-3zM1104 345h3v3h-3zM1107 91h3v3h-3zM1107 345h3v3h-3zM1110 345h3v3h-3z"/><path fill="#71bf80" d="M1039 163h4v39h-4zM1039 238h4v38h-4zM1043 160h4v6h-4zM1043 273h4v6h-4zM1047 157h3v6h-3zM1047 276h3v6h-3zM1050 154h4v6h-4zM1050 276h4v9h-4zM1054 148h3v9h-3zM1054 282h3v9h-3zM1057 145h4v3h-4zM1057 291h4v3h-4zM1061 139h3v3h-3zM1061 297h3v3h-3zM1064 133h3v6h-3zM1064 300h3v6h-3zM1067 130h4v3h-4zM1067 306h4v3h-4zM1071 124h3v3h-3zM1071 312h3v3h-3zM1074 118h3v3h-3zM1074 318h3v3h-3zM1077 115h3v3h-3zM1077 321h3v3h-3zM1080 112h3v3h-3zM1080 324h3v3h-3zM1083 106h4v3h-4zM1083 330h4v3h-4zM1087 103h3v3h-3zM1087 333h3v3h-3zM1090 100h3v3h-3zM1090 336h3v3h-3zM1096 97h3v3h-3zM1096 339h3v3h-3zM1101 94h3v3h-3zM1101 342h3v3h-3zM1104 94h3v3h-3zM1104 342h3v3h-3zM1110 91h3v3h-3zM1113 91h2v3h-2zM1113 345h2v3h-2zM1115 91h2v3h-2zM1115 345h2v3h-2z"/><path fill="#7cbf7b" d="M1043 166h4v107h-4zM1047 163h3v6h-3zM1047 270h3v6h-3zM1050 160h4v9h-4zM1050 270h4v6h-4zM1054 157h3v6h-3zM1054 276h3v6h-3zM1057 148h4v6h-4zM1057 285h4v6h-4zM1061 142h3v6h-3zM1061 291h3v6h-3zM1064 139h3v3h-3zM1064 297h3v3h-3zM1067 133h4v3h-4zM1067 303h4v3h-4zM1071 127h3v3h-3zM1071 309h3v3h-3zM1074 121h3v3h-3zM1074 315h3v3h-3zM1077 118h3v3h-3zM1077 318h3v3h-3zM1080 115h3v3h-3zM1080 321h3v3h-3zM1083 109h4v3h-4zM1083 327h4v3h-4zM1087 106h3v3h-3zM1087 330h3v3h-3zM1090 103h3v3h-3zM1090 333h3v3h-3zM1093 100h3v3h-3zM1093 336h3v3h-3zM1096 336h3v3h-3zM1099 97h2v3h-2zM1099 339h2v3h-2zM1101 97h3v3h-3zM1101 339h3v3h-3zM1107 94h3v3h-3zM1107 342h3v3h-3zM1110 94h3v3h-3zM1110 342h3v3h-3z"/><path fill="#87bf77" d="M1047 169h3v101h-3zM1050 169h4v101h-4zM1054 163h3v9h-3zM1054 267h3v9h-3zM1057 154h4v9h-4zM1057 276h4v9h-4zM1061 148h3v3h-3zM1061 288h3v3h-3zM1064 142h3v3h-3zM1064 294h3v3h-3zM1067 136h4v6h-4zM1067 297h4v6h-4zM1071 130h3v6h-3zM1071 303h3v6h-3zM1074 124h3v6h-3zM1074 309h3v6h-3zM1077 121h3v3h-3zM1077 315h3v3h-3zM1080 118h3v3h-3zM1080 318h3v3h-3zM1083 112h4v3h-4zM1083 324h4v3h-4zM1087 109h3v3h-3zM1087 327h3v3h-3zM1090 106h3v3h-3zM1090 330h3v3h-3zM1093 103h3v3h-3zM1093 333h3v3h-3zM1096 100h3v3h-3zM1099 100h2v3h-2zM1099 336h2v3h-2zM1104 97h3v3h-3zM1104 339h3v3h-3zM1107 339h3v3h-3zM1113 94h2v3h-2zM1113 342h2v3h-2zM1115 94h2v3h-2zM1115 342h2v3h-2z"/><path fill="#92bf73" d="M1054 172h3v95h-3zM1057 163h4v6h-4zM1057 270h4v6h-4zM1061 151h3v9h-3zM1061 279h3v9h-3zM1064 145h3v6h-3zM1064 288h3v6h-3zM1067 142h4v3h-4zM1067 294h4v3h-4zM1071 136h3v3h-3zM1071 300h3v3h-3zM1074 130h3v3h-3zM1074 306h3v3h-3zM1077 124h3v3h-3zM1077 312h3v3h-3zM1080 121h3v3h-3zM1080 315h3v3h-3zM1083 115h4v3h-4zM1083 321h4v3h-4zM1087 112h3v3h-3zM1087 324h3v3h-3zM1090 109h3v3h-3zM1090 327h3v3h-3zM1093 106h3v3h-3zM1093 330h3v3h-3zM1096 103h3v3h-3zM1096 333h3v3h-3zM1101 100h3v3h-3zM1101 336h3v3h-3zM1107 97h3v3h-3zM1110 97h3v3h-3zM1110 339h3v3h-3z"/><path fill="#9cbf6f" d="M1057 169h4v30h-4zM1057 241h4v29h-4zM1061 160h3v9h-3zM1061 270h3v9h-3zM1064 151h3v9h-3zM1064 279h3v9h-3zM1067 145h4v3h-4zM1067 291h4v3h-4zM1071 139h3v3h-3zM1071 297h3v3h-3zM1074 133h3v3h-3zM1074 300h3v6h-3zM1077 127h3v3h-3zM1077 309h3v3h-3zM1080 124h3v3h-3zM1080 312h3v3h-3zM1083 118h4v3h-4zM1083 318h4v3h-4zM1087 115h3v3h-3zM1087 321h3v3h-3zM1090 112h3v3h-3zM1090 324h3v3h-3zM1093 109h3v3h-3zM1093 327h3v3h-3zM1096 106h3v3h-3zM1096 330h3v3h-3zM1099 103h2v3h-2zM1099 333h2v3h-2zM1101 103h3v3h-3zM1101 333h3v3h-3zM1104 100h3v3h-3zM1104 336h3v3h-3zM1107 100h3v3h-3zM1107 336h3v3h-3zM1113 97h2v3h-2zM1113 339h2v3h-2zM1115 97h2v3h-2zM1115 339h2v3h-2z"/><path fill="#a5be6b" d="M1057 199h4v42h-4zM1061 169h3v18h-3zM1061 252h3v18h-3zM1064 160h3v9h-3zM1064 270h3v9h-3zM1067 148h4v9h-4zM1067 282h4v9h-4zM1071 142h3v6h-3zM1071 291h3v6h-3zM1074 136h3v6h-3zM1074 297h3v3h-3zM1077 130h3v6h-3zM1077 303h3v6h-3zM1080 127h3v3h-3zM1080 309h3v3h-3zM1083 121h4v3h-4zM1083 315h4v3h-4zM1087 118h3v3h-3zM1087 318h3v3h-3zM1090 115h3v3h-3zM1090 321h3v3h-3zM1093 112h3v3h-3zM1093 324h3v3h-3zM1096 109h3v3h-3zM1096 327h3v3h-3zM1099 106h2v3h-2zM1099 330h2v3h-2zM1101 106h3v3h-3zM1101 330h3v3h-3zM1104 103h3v3h-3zM1104 333h3v3h-3zM1110 100h3v3h-3zM1110 336h3v3h-3z"/><path fill="#aebe67" d="M1061 187h3v65h-3zM1064 169h3v12h-3zM1064 258h3v12h-3zM1067 157h4v9h-4zM1067 273h4v9h-4zM1071 148h3v6h-3zM1071 285h3v6h-3zM1074 142h3v3h-3zM1074 294h3v3h-3zM1077 136h3v3h-3zM1077 300h3v3h-3zM1080 130h3v3h-3zM1080 306h3v3h-3zM1083 124h4v6h-4zM1083 309h4v6h-4zM1087 121h3v3h-3zM1087 315h3v3h-3zM1090 118h3v3h-3zM1090 318h3v3h-3zM1093 115h3v3h-3zM1093 321h3v3h-3zM1096 112h3v3h-3zM1096 324h3v3h-3zM1099 109h2v3h-2zM1099 327h2v3h-2zM1101 109h3v3h-3zM1101 327h3v3h-3zM1104 106h3v3h-3zM1104 330h3v3h-3zM1107 103h3v3h-3zM1107 333h3v3h-3zM1113 100h2v3h-2zM1113 336h2v3h-2zM1115 100h2v3h-2zM1115 336h2v3h-2z"/><path fill="#b7bd64" d="M1064 181h3v24h-3zM1064 235h3v23h-3zM1067 166h4v12h-4zM1067 261h4v12h-4zM1071 154h3v9h-3zM1071 276h3v9h-3zM1074 145h3v6h-3zM1074 288h3v6h-3zM1077 139h3v6h-3zM1077 294h3v6h-3zM1080 133h3v6h-3zM1080 300h3v6h-3zM1083 130h4v3h-4zM1083 306h4v3h-4zM1087 124h3v3h-3zM1087 312h3v3h-3zM1090 121h3v3h-3zM1090 315h3v3h-3zM1093 118h3v3h-3zM1093 318h3v3h-3zM1096 115h3v3h-3zM1096 321h3v3h-3zM1099 112h2v3h-2zM1099 324h2v3h-2zM1101 112h3v3h-3zM1101 324h3v3h-3zM1104 109h3v3h-3zM1104 327h3v3h-3zM1107 106h3v3h-3zM1107 330h3v3h-3zM1110 103h3v3h-3zM1110 333h3v3h-3zM1113 103h2v3h-2zM1113 333h2v3h-2zM1115 333h2v3h-2z"/><path fill="#c0bc60" d="M1064 205h3v30h-3zM1067 178h4v18h-4zM1067 241h4v20h-4zM1071 163h3v12h-3zM1071 264h3v12h-3zM1074 151h3v9h-3zM1074 279h3v9h-3zM1077 145h3v3h-3zM1077 291h3v3h-3zM1080 139h3v3h-3zM1080 297h3v3h-3zM1083 133h4v6h-4zM1083 300h4v6h-4zM1087 127h3v6h-3zM1087 306h3v6h-3zM1090 124h3v3h-3zM1090 312h3v3h-3zM1093 121h3v3h-3zM1093 315h3v3h-3zM1096 118h3v3h-3zM1096 318h3v3h-3zM1099 115h2v3h-2zM1099 321h2v3h-2zM1101 115h3v3h-3zM1101 321h3v3h-3zM1104 112h3v3h-3zM1104 324h3v3h-3zM1107 109h3v3h-3zM1107 327h3v3h-3zM1110 106h3v3h-3zM1110 330h3v3h-3zM1113 106h2v3h-2zM1113 330h2v3h-2zM1115 103h2v3h-2z"/><path fill="#c8bc5d" d="M1067 196h4v45h-4zM1071 175h3v21h-3zM1071 244h3v20h-3zM1074 160h3v12h-3zM1074 267h3v12h-3zM1077 148h3v9h-3zM1077 282h3v9h-3zM1080 142h3v6h-3zM1080 291h3v6h-3zM1083 139h4v3h-4zM1083 297h4v3h-4zM1087 133h3v3h-3zM1087 303h3v3h-3zM1090 127h3v6h-3zM1090 306h3v6h-3zM1093 124h3v3h-3zM1093 312h3v3h-3zM1096 121h3v3h-3zM1096 315h3v3h-3zM1099 118h2v3h-2zM1099 318h2v3h-2zM1101 118h3v3h-3zM1101 318h3v3h-3zM1104 115h3v3h-3zM1104 321h3v3h-3zM1107 112h3v3h-3zM1107 324h3v3h-3zM1110 109h3v3h-3zM1110 327h3v3h-3zM1113 109h2v3h-2zM1113 327h2v3h-2zM1115 106h2v3h-2zM1115 330h2v3h-2z"/><path fill="#d1bb59" d="M1071 196h3v48h-3zM1074 172h3v24h-3zM1074 211h3v18h-3zM1074 244h3v23h-3zM1077 157h3v12h-3zM1077 270h3v12h-3zM1080 148h3v6h-3zM1080 285h3v6h-3zM1083 142h4v3h-4zM1083 291h4v6h-4zM1087 136h3v6h-3zM1087 297h3v6h-3zM1090 133h3v3h-3zM1090 303h3v3h-3zM1093 127h3v3h-3zM1093 306h3v6h-3zM1096 124h3v3h-3zM1096 312h3v3h-3zM1099 121h2v3h-2zM1099 315h2v3h-2zM1101 315h3v3h-3zM1104 118h3v3h-3zM1104 318h3v3h-3zM1107 115h3v3h-3zM1107 321h3v3h-3zM1110 112h3v3h-3zM1110 324h3v3h-3zM1113 324h2v3h-2zM1115 109h2v3h-2zM1115 327h2v3h-2z"/><path fill="#d9ba56" d="M1074 196h3v15h-3zM1074 229h3v15h-3zM1077 169h3v24h-3zM1077 202h3v36h-3zM1077 246h3v24h-3zM1080 154h3v12h-3zM1080 273h3v12h-3zM1083 145h4v6h-4zM1083 288h4v3h-4zM1087 142h3v3h-3zM1087 294h3v3h-3zM1090 136h3v3h-3zM1090 300h3v3h-3zM1093 130h3v6h-3zM1093 303h3v3h-3zM1096 127h3v6h-3zM1096 306h3v6h-3zM1099 124h2v3h-2zM1099 312h2v3h-2zM1101 121h3v3h-3zM1104 121h3v3h-3zM1104 315h3v3h-3zM1107 118h3v3h-3zM1107 318h3v3h-3zM1110 115h3v3h-3zM1110 321h3v3h-3zM1113 112h2v3h-2zM1115 112h2v3h-2zM1115 324h2v3h-2z"/><path fill="#e1b952" d="M1077 193h3v9h-3zM1077 238h3v8h-3zM1080 166h3v27h-3zM1080 202h3v36h-3zM1080 246h3v27h-3zM1083 151h4v12h-4zM1083 276h4v12h-4zM1087 145h3v6h-3zM1087 288h3v6h-3zM1090 139h3v6h-3zM1090 294h3v6h-3zM1093 136h3v3h-3zM1093 300h3v3h-3zM1096 133h3v3h-3zM1096 303h3v3h-3zM1099 127h2v6h-2zM1099 306h2v6h-2zM1101 124h3v6h-3zM1101 309h3v6h-3zM1104 124h3v3h-3zM1104 312h3v3h-3zM1107 121h3v3h-3zM1107 315h3v3h-3zM1110 118h3v3h-3zM1110 318h3v3h-3zM1113 115h2v3h-2zM1113 321h2v3h-2zM1115 115h2v3h-2zM1115 321h2v3h-2z"/><path fill="#e9b94e" d="M1080 193h3v9h-3zM1080 238h3v8h-3zM1083 163h4v21h-4zM1083 208h4v24h-4zM1083 255h4v21h-4zM1087 151h3v9h-3zM1087 279h3v9h-3zM1090 145h3v3h-3zM1090 291h3v3h-3zM1093 139h3v6h-3zM1093 294h3v6h-3zM1096 136h3v3h-3zM1096 300h3v3h-3zM1099 133h2v3h-2zM1099 303h2v3h-2zM1101 130h3v3h-3zM1101 306h3v3h-3zM1104 127h3v3h-3zM1104 309h3v3h-3zM1107 124h3v3h-3zM1107 312h3v3h-3zM1110 121h3v3h-3zM1110 315h3v3h-3zM1113 118h2v3h-2zM1113 318h2v3h-2zM1115 118h2v3h-2zM1115 318h2v3h-2z"/><path fill="#f1b94a" d="M1083 184h4v24h-4zM1083 232h4v23h-4zM1087 160h3v12h-3zM1087 211h3v18h-3zM1087 267h3v12h-3zM1090 148h3v9h-3zM1090 282h3v9h-3zM1093 145h3v3h-3zM1093 291h3v3h-3zM1096 139h3v6h-3zM1096 294h3v6h-3zM1099 136h2v6h-2zM1099 297h2v6h-2zM1101 133h3v3h-3zM1101 303h3v3h-3zM1104 130h3v3h-3zM1104 306h3v3h-3zM1107 127h3v3h-3zM1107 309h3v3h-3zM1110 124h3v3h-3zM1110 312h3v3h-3zM1113 121h2v3h-2zM1113 315h2v3h-2zM1115 121h2v3h-2zM1115 315h2v3h-2z"/><path fill="#f8bb44" d="M1087 172h3v39h-3zM1087 229h3v38h-3zM1090 157h3v12h-3zM1090 214h3v12h-3zM1090 270h3v12h-3zM1093 148h3v6h-3zM1093 285h3v6h-3zM1096 145h3v3h-3zM1096 291h3v3h-3zM1099 142h2v3h-2zM1099 294h2v3h-2zM1101 136h3v6h-3zM1101 297h3v6h-3zM1104 133h3v6h-3zM1104 300h3v6h-3zM1107 130h3v6h-3zM1107 303h3v6h-3zM1110 127h3v3h-3zM1110 309h3v3h-3zM1113 124h2v3h-2zM1113 312h2v3h-2zM1115 124h2v3h-2zM1115 312h2v3h-2z"/><path fill="#fdbe3d" d="M1090 169h3v45h-3zM1090 226h3v44h-3zM1093 154h3v12h-3zM1093 273h3v12h-3zM1096 148h3v6h-3zM1096 285h3v6h-3zM1099 145h2v3h-2zM1099 291h2v3h-2zM1101 142h3v3h-3zM1101 294h3v3h-3zM1104 139h3v3h-3zM1104 297h3v3h-3zM1107 136h3v3h-3zM1107 300h3v3h-3zM1110 130h3v6h-3zM1110 303h3v6h-3zM1113 127h2v6h-2zM1113 306h2v6h-2zM1115 127h2v3h-2zM1115 309h2v3h-2z"/><path fill="#ffc337" d="M1093 166h3v107h-3zM1096 154h3v12h-3zM1096 273h3v12h-3zM1099 148h2v9h-2zM1099 282h2v9h-2zM1101 145h3v6h-3zM1101 288h3v6h-3zM1104 142h3v6h-3zM1104 291h3v6h-3zM1107 139h3v3h-3zM1107 297h3v3h-3zM1110 136h3v3h-3zM1110 300h3v3h-3zM1113 133h2v3h-2zM1113 303h2v3h-2zM1115 130h2v6h-2zM1115 303h2v6h-2z"/><path fill="#fec832" d="M1096 166h3v107h-3zM1099 157h2v9h-2zM1099 273h2v9h-2zM1101 151h3v6h-3zM1101 282h3v6h-3zM1104 148h3v3h-3zM1104 288h3v3h-3zM1107 142h3v6h-3zM1107 291h3v6h-3zM1110 139h3v6h-3zM1110 294h3v6h-3zM1113 136h2v6h-2zM1113 297h2v6h-2zM1115 136h2v3h-2zM1115 300h2v3h-2z"/><path fill="#fcce2e" d="M1099 166h2v21h-2zM1099 205h2v30h-2zM1099 252h2v21h-2zM1101 157h3v9h-3zM1101 273h3v9h-3zM1104 151h3v9h-3zM1104 279h3v9h-3zM1107 148h3v6h-3zM1107 285h3v6h-3zM1110 145h3v3h-3zM1110 291h3v3h-3zM1113 142h2v3h-2zM1113 294h2v3h-2zM1115 139h2v6h-2zM1115 294h2v6h-2z"/><path fill="#fad32a" d="M1099 187h2v18h-2zM1099 235h2v17h-2zM1101 166h3v15h-3zM1101 258h3v15h-3zM1104 160h3v6h-3zM1104 273h3v6h-3zM1107 154h3v6h-3zM1107 279h3v6h-3zM1110 148h3v6h-3zM1110 285h3v6h-3zM1113 145h2v6h-2zM1113 288h2v6h-2zM1115 145h2v3h-2zM1115 291h2v3h-2z"/><path fill="#f7d826" d="M1101 181h3v77h-3zM1104 166h3v12h-3zM1104 261h3v12h-3zM1107 160h3v9h-3zM1107 270h3v9h-3zM1110 154h3v6h-3zM1110 276h3v9h-3zM1113 151h2v6h-2zM1113 282h2v6h-2zM1115 148h2v6h-2zM1115 285h2v6h-2z"/><path fill="#f5de21" d="M1104 178h3v83h-3zM1107 169h3v9h-3zM1107 261h3v9h-3zM1110 160h3v9h-3zM1110 270h3v6h-3zM1113 157h2v6h-2zM1113 276h2v6h-2zM1115 154h2v6h-2zM1115 279h2v6h-2z"/><path fill="#f5e41d" d="M1107 178h3v18h-3zM1107 211h3v18h-3zM1107 244h3v17h-3zM1110 169h3v6h-3zM1110 264h3v6h-3zM1113 163h2v6h-2zM1113 270h2v6h-2zM1115 160h2v6h-2zM1115 273h2v6h-2z"/><path fill="#f5eb18" d="M1107 196h3v15h-3zM1107 229h3v15h-3zM1110 175h3v15h-3zM1110 249h3v15h-3zM1113 169h2v6h-2zM1113 264h2v6h-2zM1115 166h2v6h-2zM1115 267h2v6h-2z"/><path fill="#f6f313" d="M1110 190h3v59h-3zM1113 175h2v12h-2zM1113 252h2v12h-2zM1115 172h2v12h-2zM1115 255h2v12h-2z"/><path fill="#f9fb0e" d="M1113 187h2v65h-2zM1115 184h2v71h-2z"/></g><g transform="translate(0 0)"><path d="M107.8 115.3H546M107.8 324.4H546" stroke="#000" stroke-opacity="0.45" stroke-width="1" fill="none"/><path d="M107.22 117.76 110.8 117.8 114.38 117.85 117.96 117.9 121.54 117.95 125.12 118 128.7 118.06 132.28 118.12 135.86 118.17 139.44 118.24 143.02 118.3 146.6 118.36 150.18 118.43 153.76 118.5 157.33 118.57 160.91 118.64 164.49 118.72 168.07 118.8 171.65 118.88 175.23 118.96 178.81 119.05 182.39 119.14 185.97 119.23 189.55 119.33 193.13 119.43 196.71 119.53 200.29 119.63 203.87 119.74 207.44 119.85 211.02 119.97 214.6 120.09 218.18 120.21 221.76 120.34 225.34 120.47 228.92 120.61 232.5 120.75 236.08 120.89 239.66 121.04 243.24 121.2 246.82 121.36 250.4 121.52 253.98 121.69 257.55 121.87 261.13 122.05 264.71 122.24 268.29 122.43 271.87 122.63 275.45 122.84 279.03 123.05 282.61 123.28 286.19 123.5 289.77 123.74 293.35 123.98 296.93 124.24 300.51 124.5 304.09 124.78 307.67 125.12 311.24 125.46 314.82 125.82 318.4 126.19" stroke="#000" stroke-width="2.4" fill="none" stroke-dasharray="11.5 5 2.4 5"/><path d="M318.4 126.19 319.18 126.27 319.96 126.35 320.74 126.43 321.52 126.51 322.3 126.59 323.08 126.68 323.86 126.76 324.64 126.85 325.42 126.93 326.19 127.02 326.97 127.1 327.75 127.19 328.53 127.28 329.31 127.37 330.09 127.45 330.87 127.54 331.65 127.63 332.43 127.72 333.21 127.81 333.99 127.9 334.76 128 335.54 128.09 336.32 128.18 337.1 128.27 337.88 128.37 338.66 128.46 339.44 128.56 340.22 128.66 341 128.75 341.78 128.85 342.56 128.95 343.34 129.05 344.11 129.14 344.89 129.24 345.67 129.35 346.45 129.45 347.23 129.55 348.01 129.65 348.79 129.75 349.57 129.86 350.35 129.96 351.13 130.07 351.91 130.17 352.68 130.28 353.46 130.39 354.24 130.5 355.02 130.61 355.8 130.72 356.58 130.83 357.36 130.94 358.14 131.05 358.92 131.16 359.7 131.28 360.48 131.39 361.26 131.51 362.03 131.62 362.81 131.74 363.59 131.86 364.37 131.97" stroke="#000" stroke-width="2.4" fill="none" stroke-dasharray="11.5 4.5"/><path d="M364.37 131.97 366.93 132.37 369.49 132.77 372.05 133.18 374.61 133.66 377.16 134.17 379.72 134.69 382.28 135.23 384.84 135.77 387.4 136.32 389.96 136.89 392.51 137.47 395.07 138.06 397.63 138.66 400.19 139.28 402.75 139.91 405.31 140.55 407.86 141.21 410.42 141.86 412.98 142.5 415.54 143.15 418.1 143.82 420.66 144.51 423.22 145.22 425.77 145.95 428.33 146.7 430.89 147.47 433.45 148.27 436.01 149.08 438.57 149.93 441.12 150.79 443.68 151.69 446.24 152.61 448.8 153.56 451.36 154.55 453.92 155.57 456.47 156.61 459.03 157.58 461.59 158.59 464.15 159.64 466.71 160.74 469.27 161.89 471.82 163.08 474.38 164.34 476.94 165.65 479.5 167.03 482.06 168.48 484.62 170.01 487.18 171.63 489.73 173.41 492.29 175.29 494.85 177.31 497.41 179.46 499.97 181.79 502.53 184.32 505.08 187.11 507.64 190.57 510.2 194.86 512.76 199.82 515.32 205.37" stroke="#000" stroke-width="2.4" fill="none"/><path d="M515.71 206.06 515.76 206.15 515.81 206.24 515.86 206.34 515.91 206.44 515.96 206.54 516.01 206.64 516.06 206.74 516.12 206.84 516.17 206.95 516.22 207.05 516.27 207.16 516.32 207.27 516.37 207.38 516.42 207.49 516.47 207.6 516.52 207.72 516.57 207.84 516.63 207.96 516.68 208.08 516.73 208.2 516.78 208.33 516.83 208.46 516.88 208.59 516.93 208.72 516.98 208.86 517.03 209 517.08 209.14 517.14 209.28 517.19 209.43 517.24 209.58 517.29 209.73 517.34 209.89 517.39 210.05 517.44 210.21 517.49 210.38 517.54 210.56 517.59 210.73 517.65 210.92 517.7 211.11 517.75 211.3 517.8 211.5 517.85 211.71 517.9 211.92 517.95 212.15 518 212.38 518.05 212.62 518.1 212.87 518.16 213.14 518.21 213.42 518.26 213.72 518.31 214.04 518.36 214.37 518.41 214.74 518.46 215.15 518.51 215.6 518.56 216.11 518.61 216.74 518.67 217.56 518.72 219.6" stroke="#000" stroke-width="2.4" fill="none"/><path d="M107.22 321.44 110.8 321.4 114.38 321.35 117.96 321.3 121.54 321.25 125.12 321.2 128.7 321.14 132.28 321.08 135.86 321.03 139.44 320.96 143.02 320.9 146.6 320.84 150.18 320.77 153.76 320.7 157.33 320.63 160.91 320.56 164.49 320.48 168.07 320.4 171.65 320.32 175.23 320.24 178.81 320.15 182.39 320.06 185.97 319.97 189.55 319.87 193.13 319.77 196.71 319.67 200.29 319.57 203.87 319.46 207.44 319.35 211.02 319.23 214.6 319.11 218.18 318.99 221.76 318.86 225.34 318.73 228.92 318.59 232.5 318.45 236.08 318.31 239.66 318.16 243.24 318 246.82 317.84 250.4 317.68 253.98 317.51 257.55 317.33 261.13 317.15 264.71 316.96 268.29 316.77 271.87 316.57 275.45 316.36 279.03 316.15 282.61 315.92 286.19 315.7 289.77 315.46 293.35 315.22 296.93 314.96 300.51 314.7 304.09 314.42 307.67 314.08 311.24 313.74 314.82 313.38 318.4 313.01" stroke="#000" stroke-width="2.4" fill="none" stroke-dasharray="11.5 5 2.4 5"/><path d="M318.4 313.01 319.18 312.93 319.96 312.85 320.74 312.77 321.52 312.69 322.3 312.61 323.08 312.52 323.86 312.44 324.64 312.35 325.42 312.27 326.19 312.18 326.97 312.1 327.75 312.01 328.53 311.92 329.31 311.83 330.09 311.75 330.87 311.66 331.65 311.57 332.43 311.48 333.21 311.39 333.99 311.3 334.76 311.2 335.54 311.11 336.32 311.02 337.1 310.93 337.88 310.83 338.66 310.74 339.44 310.64 340.22 310.54 341 310.45 341.78 310.35 342.56 310.25 343.34 310.15 344.11 310.06 344.89 309.96 345.67 309.85 346.45 309.75 347.23 309.65 348.01 309.55 348.79 309.45 349.57 309.34 350.35 309.24 351.13 309.13 351.91 309.03 352.68 308.92 353.46 308.81 354.24 308.7 355.02 308.59 355.8 308.48 356.58 308.37 357.36 308.26 358.14 308.15 358.92 308.04 359.7 307.92 360.48 307.81 361.26 307.69 362.03 307.58 362.81 307.46 363.59 307.34 364.37 307.23" stroke="#000" stroke-width="2.4" fill="none" stroke-dasharray="11.5 4.5"/><path d="M364.37 307.23 366.93 306.83 369.49 306.43 372.05 306.02 374.61 305.54 377.16 305.03 379.72 304.51 382.28 303.97 384.84 303.43 387.4 302.88 389.96 302.31 392.51 301.73 395.07 301.14 397.63 300.54 400.19 299.92 402.75 299.29 405.31 298.65 407.86 297.99 410.42 297.34 412.98 296.7 415.54 296.05 418.1 295.38 420.66 294.69 423.22 293.98 425.77 293.25 428.33 292.5 430.89 291.73 433.45 290.93 436.01 290.12 438.57 289.27 441.12 288.41 443.68 287.51 446.24 286.59 448.8 285.64 451.36 284.65 453.92 283.63 456.47 282.59 459.03 281.62 461.59 280.61 464.15 279.56 466.71 278.46 469.27 277.31 471.82 276.12 474.38 274.86 476.94 273.55 479.5 272.17 482.06 270.72 484.62 269.19 487.18 267.57 489.73 265.79 492.29 263.91 494.85 261.89 497.41 259.74 499.97 257.41 502.53 254.88 505.08 252.09 507.64 248.63 510.2 244.34 512.76 239.38 515.32 233.83" stroke="#000" stroke-width="2.4" fill="none"/><path d="M515.71 233.14 515.76 233.05 515.81 232.96 515.86 232.86 515.91 232.76 515.96 232.66 516.01 232.56 516.06 232.46 516.12 232.36 516.17 232.25 516.22 232.15 516.27 232.04 516.32 231.93 516.37 231.82 516.42 231.71 516.47 231.6 516.52 231.48 516.57 231.36 516.63 231.24 516.68 231.12 516.73 231 516.78 230.87 516.83 230.74 516.88 230.61 516.93 230.48 516.98 230.34 517.03 230.2 517.08 230.06 517.14 229.92 517.19 229.77 517.24 229.62 517.29 229.47 517.34 229.31 517.39 229.15 517.44 228.99 517.49 228.82 517.54 228.64 517.59 228.47 517.65 228.28 517.7 228.09 517.75 227.9 517.8 227.7 517.85 227.49 517.9 227.28 517.95 227.05 518 226.82 518.05 226.58 518.1 226.33 518.16 226.06 518.21 225.78 518.26 225.48 518.31 225.16 518.36 224.83 518.41 224.46 518.46 224.05 518.51 223.6 518.56 223.09 518.61 222.46 518.67 221.64 518.72 219.6" stroke="#000" stroke-width="2.4" fill="none"/><path d="M518 219.6H546" stroke="#000" stroke-width="2.4"/><path d="M275.2 17V422.5" stroke="#fff" stroke-width="3" stroke-dasharray="15.3 9.2" fill="none"/><path d="M107.6 16.5V422.9H546.5" stroke="#262626" stroke-width="1.2" fill="none"/><path d="M107.6 16.9H113.5" stroke="#262626" stroke-width="1.2"/></g><g transform="translate(0 578.5)"><path d="M107.8 115.3H546M107.8 324.4H546" stroke="#000" stroke-opacity="0.45" stroke-width="1" fill="none"/><path d="M107.22 117.76 110.8 117.8 114.38 117.85 117.96 117.9 121.54 117.95 125.12 118 128.7 118.06 132.28 118.12 135.86 118.17 139.44 118.24 143.02 118.3 146.6 118.36 150.18 118.43 153.76 118.5 157.33 118.57 160.91 118.64 164.49 118.72 168.07 118.8 171.65 118.88 175.23 118.96 178.81 119.05 182.39 119.14 185.97 119.23 189.55 119.33 193.13 119.43 196.71 119.53 200.29 119.63 203.87 119.74 207.44 119.85 211.02 119.97 214.6 120.09 218.18 120.21 221.76 120.34 225.34 120.47 228.92 120.61 232.5 120.75 236.08 120.89 239.66 121.04 243.24 121.2 246.82 121.36 250.4 121.52 253.98 121.69 257.55 121.87 261.13 122.05 264.71 122.24 268.29 122.43 271.87 122.63 275.45 122.84 279.03 123.05 282.61 123.28 286.19 123.5 289.77 123.74 293.35 123.98 296.93 124.24 300.51 124.5 304.09 124.78 307.67 125.12 311.24 125.46 314.82 125.82 318.4 126.19" stroke="#000" stroke-width="2.4" fill="none" stroke-dasharray="11.5 5 2.4 5"/><path d="M318.4 126.19 319.18 126.27 319.96 126.35 320.74 126.43 321.52 126.51 322.3 126.59 323.08 126.68 323.86 126.76 324.64 126.85 325.42 126.93 326.19 127.02 326.97 127.1 327.75 127.19 328.53 127.28 329.31 127.37 330.09 127.45 330.87 127.54 331.65 127.63 332.43 127.72 333.21 127.81 333.99 127.9 334.76 128 335.54 128.09 336.32 128.18 337.1 128.27 337.88 128.37 338.66 128.46 339.44 128.56 340.22 128.66 341 128.75 341.78 128.85 342.56 128.95 343.34 129.05 344.11 129.14 344.89 129.24 345.67 129.35 346.45 129.45 347.23 129.55 348.01 129.65 348.79 129.75 349.57 129.86 350.35 129.96 351.13 130.07 351.91 130.17 352.68 130.28 353.46 130.39 354.24 130.5 355.02 130.61 355.8 130.72 356.58 130.83 357.36 130.94 358.14 131.05 358.92 131.16 359.7 131.28 360.48 131.39 361.26 131.51 362.03 131.62 362.81 131.74 363.59 131.86 364.37 131.97" stroke="#000" stroke-width="2.4" fill="none" stroke-dasharray="11.5 4.5"/><path d="M364.37 131.97 366.93 132.37 369.49 132.77 372.05 133.18 374.61 133.66 377.16 134.17 379.72 134.69 382.28 135.23 384.84 135.77 387.4 136.32 389.96 136.89 392.51 137.47 395.07 138.06 397.63 138.66 400.19 139.28 402.75 139.91 405.31 140.55 407.86 141.21 410.42 141.86 412.98 142.5 415.54 143.15 418.1 143.82 420.66 144.51 423.22 145.22 425.77 145.95 428.33 146.7 430.89 147.47 433.45 148.27 436.01 149.08 438.57 149.93 441.12 150.79 443.68 151.69 446.24 152.61 448.8 153.56 451.36 154.55 453.92 155.57 456.47 156.61 459.03 157.58 461.59 158.59 464.15 159.64 466.71 160.74 469.27 161.89 471.82 163.08 474.38 164.34 476.94 165.65 479.5 167.03 482.06 168.48 484.62 170.01 487.18 171.63 489.73 173.41 492.29 175.29 494.85 177.31 497.41 179.46 499.97 181.79 502.53 184.32 505.08 187.11 507.64 190.57 510.2 194.86 512.76 199.82 515.32 205.37" stroke="#000" stroke-width="2.4" fill="none"/><path d="M515.71 206.06 515.76 206.15 515.81 206.24 515.86 206.34 515.91 206.44 515.96 206.54 516.01 206.64 516.06 206.74 516.12 206.84 516.17 206.95 516.22 207.05 516.27 207.16 516.32 207.27 516.37 207.38 516.42 207.49 516.47 207.6 516.52 207.72 516.57 207.84 516.63 207.96 516.68 208.08 516.73 208.2 516.78 208.33 516.83 208.46 516.88 208.59 516.93 208.72 516.98 208.86 517.03 209 517.08 209.14 517.14 209.28 517.19 209.43 517.24 209.58 517.29 209.73 517.34 209.89 517.39 210.05 517.44 210.21 517.49 210.38 517.54 210.56 517.59 210.73 517.65 210.92 517.7 211.11 517.75 211.3 517.8 211.5 517.85 211.71 517.9 211.92 517.95 212.15 518 212.38 518.05 212.62 518.1 212.87 518.16 213.14 518.21 213.42 518.26 213.72 518.31 214.04 518.36 214.37 518.41 214.74 518.46 215.15 518.51 215.6 518.56 216.11 518.61 216.74 518.67 217.56 518.72 219.6" stroke="#000" stroke-width="2.4" fill="none"/><path d="M107.22 321.44 110.8 321.4 114.38 321.35 117.96 321.3 121.54 321.25 125.12 321.2 128.7 321.14 132.28 321.08 135.86 321.03 139.44 320.96 143.02 320.9 146.6 320.84 150.18 320.77 153.76 320.7 157.33 320.63 160.91 320.56 164.49 320.48 168.07 320.4 171.65 320.32 175.23 320.24 178.81 320.15 182.39 320.06 185.97 319.97 189.55 319.87 193.13 319.77 196.71 319.67 200.29 319.57 203.87 319.46 207.44 319.35 211.02 319.23 214.6 319.11 218.18 318.99 221.76 318.86 225.34 318.73 228.92 318.59 232.5 318.45 236.08 318.31 239.66 318.16 243.24 318 246.82 317.84 250.4 317.68 253.98 317.51 257.55 317.33 261.13 317.15 264.71 316.96 268.29 316.77 271.87 316.57 275.45 316.36 279.03 316.15 282.61 315.92 286.19 315.7 289.77 315.46 293.35 315.22 296.93 314.96 300.51 314.7 304.09 314.42 307.67 314.08 311.24 313.74 314.82 313.38 318.4 313.01" stroke="#000" stroke-width="2.4" fill="none" stroke-dasharray="11.5 5 2.4 5"/><path d="M318.4 313.01 319.18 312.93 319.96 312.85 320.74 312.77 321.52 312.69 322.3 312.61 323.08 312.52 323.86 312.44 324.64 312.35 325.42 312.27 326.19 312.18 326.97 312.1 327.75 312.01 328.53 311.92 329.31 311.83 330.09 311.75 330.87 311.66 331.65 311.57 332.43 311.48 333.21 311.39 333.99 311.3 334.76 311.2 335.54 311.11 336.32 311.02 337.1 310.93 337.88 310.83 338.66 310.74 339.44 310.64 340.22 310.54 341 310.45 341.78 310.35 342.56 310.25 343.34 310.15 344.11 310.06 344.89 309.96 345.67 309.85 346.45 309.75 347.23 309.65 348.01 309.55 348.79 309.45 349.57 309.34 350.35 309.24 351.13 309.13 351.91 309.03 352.68 308.92 353.46 308.81 354.24 308.7 355.02 308.59 355.8 308.48 356.58 308.37 357.36 308.26 358.14 308.15 358.92 308.04 359.7 307.92 360.48 307.81 361.26 307.69 362.03 307.58 362.81 307.46 363.59 307.34 364.37 307.23" stroke="#000" stroke-width="2.4" fill="none" stroke-dasharray="11.5 4.5"/><path d="M364.37 307.23 366.93 306.83 369.49 306.43 372.05 306.02 374.61 305.54 377.16 305.03 379.72 304.51 382.28 303.97 384.84 303.43 387.4 302.88 389.96 302.31 392.51 301.73 395.07 301.14 397.63 300.54 400.19 299.92 402.75 299.29 405.31 298.65 407.86 297.99 410.42 297.34 412.98 296.7 415.54 296.05 418.1 295.38 420.66 294.69 423.22 293.98 425.77 293.25 428.33 292.5 430.89 291.73 433.45 290.93 436.01 290.12 438.57 289.27 441.12 288.41 443.68 287.51 446.24 286.59 448.8 285.64 451.36 284.65 453.92 283.63 456.47 282.59 459.03 281.62 461.59 280.61 464.15 279.56 466.71 278.46 469.27 277.31 471.82 276.12 474.38 274.86 476.94 273.55 479.5 272.17 482.06 270.72 484.62 269.19 487.18 267.57 489.73 265.79 492.29 263.91 494.85 261.89 497.41 259.74 499.97 257.41 502.53 254.88 505.08 252.09 507.64 248.63 510.2 244.34 512.76 239.38 515.32 233.83" stroke="#000" stroke-width="2.4" fill="none"/><path d="M515.71 233.14 515.76 233.05 515.81 232.96 515.86 232.86 515.91 232.76 515.96 232.66 516.01 232.56 516.06 232.46 516.12 232.36 516.17 232.25 516.22 232.15 516.27 232.04 516.32 231.93 516.37 231.82 516.42 231.71 516.47 231.6 516.52 231.48 516.57 231.36 516.63 231.24 516.68 231.12 516.73 231 516.78 230.87 516.83 230.74 516.88 230.61 516.93 230.48 516.98 230.34 517.03 230.2 517.08 230.06 517.14 229.92 517.19 229.77 517.24 229.62 517.29 229.47 517.34 229.31 517.39 229.15 517.44 228.99 517.49 228.82 517.54 228.64 517.59 228.47 517.65 228.28 517.7 228.09 517.75 227.9 517.8 227.7 517.85 227.49 517.9 227.28 517.95 227.05 518 226.82 518.05 226.58 518.1 226.33 518.16 226.06 518.21 225.78 518.26 225.48 518.31 225.16 518.36 224.83 518.41 224.46 518.46 224.05 518.51 223.6 518.56 223.09 518.61 222.46 518.67 221.64 518.72 219.6" stroke="#000" stroke-width="2.4" fill="none"/><path d="M518 219.6H546" stroke="#000" stroke-width="2.4"/><path d="M275.2 17V422.5" stroke="#fff" stroke-width="3" stroke-dasharray="15.3 9.2" fill="none"/><path d="M107.6 16.5V422.9H546.5" stroke="#262626" stroke-width="1.2" fill="none"/><path d="M107.6 16.9H113.5" stroke="#262626" stroke-width="1.2"/></g><text transform="translate(75.01 28) scale(1.07 1)" font-size="41.51">2</text><text transform="translate(74.35 129.2)" font-size="43.03">1</text><text transform="translate(74.47 230.57) scale(1.08 1)" font-size="42.81">0</text><text transform="translate(60.72 331.8) scale(0.97 1)" font-size="43.18">-1</text><text transform="translate(60.66 432.7) scale(1.03 1)" font-size="42.42">-2</text><text transform="translate(208.37 469.28) scale(1.04 1)" font-size="42.26">5</text><text transform="translate(331.57 469.07) scale(1.01 1)" font-size="41.94">5.5</text><text transform="translate(487.52 469.47) scale(0.98 1)" font-size="42.83">6</text><text transform="translate(256.99 519.5) scale(0.98 1)" font-size="41.15">l</text><text transform="translate(267.15 519.69) scale(1.14 1)" font-size="38.21">g</text><text transform="translate(291.25 520.11) scale(0.85 1)" font-size="45.62">(</text><text transform="translate(306.02 519.41) scale(1.19 1)" font-size="38.75" font-style="italic">s</text><text transform="translate(323.89 525.9) scale(0.89 1)" font-size="30.76">1</text><text transform="translate(339.14 519.9) scale(1.32 1)" font-size="40.21" font-style="italic">n</text><text transform="translate(363.62 525.7) scale(1.16 1)" font-size="29.16" font-style="italic">η</text><text transform="translate(382.45 520.06) scale(0.84 1)" font-size="45.84">)</text><text transform="translate(75.01 606.5) scale(1.07 1)" font-size="41.51">2</text><text transform="translate(74.35 707.7)" font-size="43.03">1</text><text transform="translate(74.47 809.07) scale(1.08 1)" font-size="42.81">0</text><text transform="translate(60.72 910.3) scale(0.97 1)" font-size="43.18">-1</text><text transform="translate(60.66 1011.2) scale(1.03 1)" font-size="42.42">-2</text><text transform="translate(208.37 1047.78) scale(1.04 1)" font-size="42.26">5</text><text transform="translate(331.57 1047.57) scale(1.01 1)" font-size="41.94">5.5</text><text transform="translate(487.52 1047.97) scale(0.98 1)" font-size="42.83">6</text><text transform="translate(256.99 1098) scale(0.98 1)" font-size="41.15">l</text><text transform="translate(267.15 1098.19) scale(1.14 1)" font-size="38.21">g</text><text transform="translate(291.25 1098.61) scale(0.85 1)" font-size="45.62">(</text><text transform="translate(306.02 1097.91) scale(1.19 1)" font-size="38.75" font-style="italic">s</text><text transform="translate(323.89 1104.4) scale(0.89 1)" font-size="30.76">1</text><text transform="translate(339.14 1098.4) scale(1.32 1)" font-size="40.21" font-style="italic">n</text><text transform="translate(363.62 1104.2) scale(1.16 1)" font-size="29.16" font-style="italic">η</text><text transform="translate(382.45 1098.56) scale(0.84 1)" font-size="45.84">)</text><path fill="#262626" fill-rule="evenodd" d="M41.8 311L12 296.1L41.8 281.2ZM38.4 307.85L17.93 297.61L38.4 287.37Z"/><text transform="translate(47.8 279.31) rotate(-90) scale(1.16 1)" font-size="29.79">a</text><path d="M51 260.6L11.2 244.7" stroke="#262626" stroke-width="1.6"/><text transform="translate(41.9 241.87) rotate(-90) scale(1.09 1)" font-size="41.09" font-style="italic">κ</text><path d="M31.1 143V201.8" stroke="#1a1a1a" stroke-width="1.6"/><path d="M24.0 149.2Q28.700000000000003 148 31.1 142Q33.5 148 38.2 149.2" stroke="#1a1a1a" stroke-width="1.6" fill="none"/><path fill="#262626" fill-rule="evenodd" d="M41.8 889.5L12 874.6L41.8 859.7ZM38.4 886.35L17.93 876.11L38.4 865.87Z"/><text transform="translate(47.8 857.81) rotate(-90) scale(1.16 1)" font-size="29.79">a</text><path d="M51 839.1L11.2 823.2" stroke="#262626" stroke-width="1.6"/><text transform="translate(41.9 820.37) rotate(-90) scale(1.09 1)" font-size="41.09" font-style="italic">κ</text><path d="M31.1 721.6V780.1" stroke="#1a1a1a" stroke-width="1.6"/><path d="M24.0 773.9Q28.700000000000003 775.1 31.1 781.1Q33.5 775.1 38.2 773.9" stroke="#1a1a1a" stroke-width="1.6" fill="none"/><g><path d="M677 124.5H1116.5M677 314.7H1116.5" stroke="#000" stroke-opacity="0.45" stroke-width="1" fill="none"/><path d="M676.8 126.89 680.88 126.93 684.96 126.98 689.04 127.04 693.12 127.09 697.2 127.15" stroke="#000" stroke-width="2.4" fill="none"/><path d="M699.4 127.18 701.96 127.21 704.52 127.25 707.08 127.29 709.64 127.33 712.2 127.37" stroke="#000" stroke-width="2.4" fill="none"/><path d="M714 127.4 716.64 127.44 719.28 127.49 721.92 127.53 724.56 127.58 727.2 127.63" stroke="#000" stroke-width="2.4" fill="none"/><path d="M729 127.66 731.36 127.7 733.72 127.75 736.08 127.8 738.44 127.84 740.8 127.89" stroke="#000" stroke-width="2.4" fill="none"/><path d="M741.6 127.91 744.52 127.97 747.44 128.03 750.36 128.1 753.28 128.17 756.2 128.23 759.12 128.3 762.04 128.38 764.96 128.45 767.88 128.53 770.8 128.61 773.72 128.69 776.65 128.77 779.57 128.85 782.49 128.94 785.41 129.03 788.33 129.12 791.25 129.22 794.17 129.31 797.09 129.41 800.01 129.51 802.93 129.62 805.85 129.73 808.77 129.84 811.69 129.95 814.61 130.07 817.53 130.19 820.45 130.31 823.37 130.43 826.29 130.56 829.21 130.7 832.13 130.83 835.05 130.97 837.97 131.12 840.89 131.26 843.81 131.41 846.74 131.57 849.66 131.73 852.58 131.89 855.5 132.06 858.42 132.24 861.34 132.41 864.26 132.6 867.18 132.78 870.1 132.98 873.02 133.18 875.94 133.41 878.86 133.67 881.78 133.92 884.7 134.19 887.62 134.46 890.54 134.73 893.46 135.01 896.38 135.3 899.3 135.6 902.22 135.9 905.14 136.21 908.06 136.53 910.98 136.86 913.91 137.19 916.83 137.53 919.75 137.88 922.67 138.24 925.59 138.61 928.51 138.99 931.43 139.38 934.35 139.78 937.27 140.19 940.19 140.61 943.11 141.04 946.03 141.56 948.95 142.09 951.87 142.64 954.79 143.2 957.71 143.78 960.63 144.36 963.55 144.97 966.47 145.58 969.39 146.22 972.31 146.87 975.23 147.53 978.15 148.22 981.08 148.89 984 149.55 986.92 150.24 989.84 150.95 992.76 151.68 995.68 152.43 998.6 153.2 1001.52 154.01 1004.44 154.83 1007.36 155.69 1010.28 156.58 1013.2 157.49 1016.12 158.45 1019.04 159.43 1021.96 160.45 1024.88 161.52 1027.8 162.58 1030.72 163.6 1033.64 164.67 1036.56 165.8 1039.48 166.98 1042.4 168.23 1045.32 169.54 1048.24 170.92 1051.17 172.38 1054.09 173.94 1057.01 175.59 1059.93 177.41 1062.85 179.37 1065.77 181.48 1068.69 183.76 1071.61 186.26 1074.53 189.03 1077.45 192.31 1080.37 196.69 1083.29 201.82 1086.21 207.42 1089.13 219.6" stroke="#000" stroke-width="2.4" fill="none"/><path d="M676.8 312.31 680.88 312.27 684.96 312.22 689.04 312.16 693.12 312.11 697.2 312.05" stroke="#000" stroke-width="2.4" fill="none"/><path d="M699.4 312.02 701.96 311.99 704.52 311.95 707.08 311.91 709.64 311.87 712.2 311.83" stroke="#000" stroke-width="2.4" fill="none"/><path d="M714 311.8 716.64 311.76 719.28 311.71 721.92 311.67 724.56 311.62 727.2 311.57" stroke="#000" stroke-width="2.4" fill="none"/><path d="M729 311.54 731.36 311.5 733.72 311.45 736.08 311.4 738.44 311.36 740.8 311.31" stroke="#000" stroke-width="2.4" fill="none"/><path d="M741.6 311.29 744.52 311.23 747.44 311.17 750.36 311.1 753.28 311.03 756.2 310.97 759.12 310.9 762.04 310.82 764.96 310.75 767.88 310.67 770.8 310.59 773.72 310.51 776.65 310.43 779.57 310.35 782.49 310.26 785.41 310.17 788.33 310.08 791.25 309.98 794.17 309.89 797.09 309.79 800.01 309.69 802.93 309.58 805.85 309.47 808.77 309.36 811.69 309.25 814.61 309.13 817.53 309.01 820.45 308.89 823.37 308.77 826.29 308.64 829.21 308.5 832.13 308.37 835.05 308.23 837.97 308.08 840.89 307.94 843.81 307.79 846.74 307.63 849.66 307.47 852.58 307.31 855.5 307.14 858.42 306.96 861.34 306.79 864.26 306.6 867.18 306.42 870.1 306.22 873.02 306.02 875.94 305.79 878.86 305.53 881.78 305.28 884.7 305.01 887.62 304.74 890.54 304.47 893.46 304.19 896.38 303.9 899.3 303.6 902.22 303.3 905.14 302.99 908.06 302.67 910.98 302.34 913.91 302.01 916.83 301.67 919.75 301.32 922.67 300.96 925.59 300.59 928.51 300.21 931.43 299.82 934.35 299.42 937.27 299.01 940.19 298.59 943.11 298.16 946.03 297.64 948.95 297.11 951.87 296.56 954.79 296 957.71 295.42 960.63 294.84 963.55 294.23 966.47 293.62 969.39 292.98 972.31 292.33 975.23 291.67 978.15 290.98 981.08 290.31 984 289.65 986.92 288.96 989.84 288.25 992.76 287.52 995.68 286.77 998.6 286 1001.52 285.19 1004.44 284.37 1007.36 283.51 1010.28 282.62 1013.2 281.71 1016.12 280.75 1019.04 279.77 1021.96 278.75 1024.88 277.68 1027.8 276.62 1030.72 275.6 1033.64 274.53 1036.56 273.4 1039.48 272.22 1042.4 270.97 1045.32 269.66 1048.24 268.28 1051.17 266.82 1054.09 265.26 1057.01 263.61 1059.93 261.79 1062.85 259.83 1065.77 257.72 1068.69 255.44 1071.61 252.94 1074.53 250.17 1077.45 246.89 1080.37 242.51 1083.29 237.38 1086.21 231.78 1089.13 219.6" stroke="#000" stroke-width="2.4" fill="none"/><path d="M1088.5 219.6H1116.5" stroke="#000" stroke-width="2.4"/><path d="M676.9 16.5V422.9H1116.5" stroke="#262626" stroke-width="1.2" fill="none"/><path d="M676.9 16.9H682.8" stroke="#262626" stroke-width="1.2"/></g><text transform="translate(644.12 46.3) scale(1.03 1)" font-size="42.57">2</text><text transform="translate(643.45 137.5) scale(1.06 1)" font-size="40.45">1</text><text transform="translate(643.28 230.48) scale(1.1 1)" font-size="41.78">0</text><text transform="translate(629.92 322.8) scale(1.01 1)" font-size="41.82">-1</text><text transform="translate(629.86 414) scale(1.14 1)" font-size="38.34">-2</text><text transform="translate(777.44 468.78) scale(1.06 1)" font-size="41.8">5</text><text transform="translate(901.18 469.07) scale(1.01 1)" font-size="41.94">5.5</text><text transform="translate(1057.52 469.47) scale(0.98 1)" font-size="42.83">6</text><text transform="translate(826.79 519.5) scale(0.98 1)" font-size="41.15">l</text><text transform="translate(836.95 519.69) scale(1.14 1)" font-size="38.21">g</text><text transform="translate(861.05 520.11) scale(0.85 1)" font-size="45.62">(</text><text transform="translate(875.82 519.41) scale(1.19 1)" font-size="38.75" font-style="italic">s</text><text transform="translate(893.69 525.9) scale(0.89 1)" font-size="30.76">1</text><text transform="translate(908.94 519.9) scale(1.32 1)" font-size="40.21" font-style="italic">n</text><text transform="translate(933.42 525.7) scale(1.16 1)" font-size="29.16" font-style="italic">η</text><text transform="translate(952.25 520.06) scale(0.84 1)" font-size="45.84">)</text><path fill="#262626" fill-rule="evenodd" d="M610.7 264.9L581 250L610.7 235.1ZM607.3 261.74L586.91 251.51L607.3 241.28Z"/><text transform="translate(616.32 233.34) rotate(-90) scale(1.1 1)" font-size="28.33" font-style="italic">a</text><path d="M620 213.2L580.4 198.1" stroke="#262626" stroke-width="1.6"/><text transform="translate(611.2 195.2) rotate(-90) scale(1.1 1)" font-size="41.09" font-style="italic">κ</text><g><path d="M896.9 595.5V1000.5M677.3 899.12H1116.5M677.3 797.74H1116.5M677.3 696.36H1116.5" stroke="#dfdfdf" stroke-width="1.6" fill="none"/><path d="M677.5 711C677.8 711.5 678.48 715.92 679.3 714C680.12 712.08 681.35 705.37 682.4 699.5C683.45 693.63 684.55 684.85 685.6 678.8C686.65 672.75 687.85 666.03 688.7 663.2C689.55 660.37 689.85 661.62 690.7 661.8C691.55 661.98 692.75 664.75 693.8 664.3C694.85 663.85 695.78 661.7 697 659.1C698.22 656.5 699.9 650.88 701.1 648.7C702.3 646.52 703.17 646.68 704.2 646C705.23 645.32 706.27 646.05 707.3 644.6C708.33 643.15 709.02 640.17 710.4 637.3C711.78 634.43 714.03 627.75 715.6 627.4C717.17 627.05 718.25 630.95 719.8 635.2C721.35 639.45 723.18 651.85 724.9 652.9C726.62 653.95 728.37 644.45 730.1 641.5C731.83 638.55 733.57 634.87 735.3 635.2C737.03 635.53 738.77 640.73 740.5 643.5C742.23 646.27 744.15 650.93 745.7 651.8C747.25 652.67 748.6 649.8 749.8 648.7C751 647.6 751.68 644.68 752.9 645.2C754.12 645.72 755.72 647.58 757.1 651.8C758.48 656.02 759.82 665.32 761.2 670.5C762.58 675.68 764.02 680.2 765.4 682.9C766.78 685.6 767.95 686.18 769.5 686.7C771.05 687.22 772.97 686.63 774.7 686C776.43 685.37 778.35 682.03 779.9 682.9C781.45 683.77 782.62 686.7 784 691.2C785.38 695.7 786.88 705.58 788.2 709.9C789.52 714.22 790.22 717.27 791.9 717.1C793.58 716.93 796.55 708.72 798.3 708.9C800.05 709.08 801.02 714.23 802.4 718.2C803.78 722.17 804.87 727.87 806.6 732.7C808.33 737.53 810.73 743.23 812.8 747.2C814.87 751.17 817.1 754.6 819 756.5C820.9 758.4 822.63 757.22 824.2 758.6C825.77 759.98 826.85 762.03 828.4 764.8C829.95 767.57 831.78 772.25 833.5 775.2C835.22 778.15 836.8 779.57 838.7 782.5C840.6 785.43 842.82 792.63 844.9 792.8C846.98 792.97 849.3 783.5 851.2 783.5C853.1 783.5 854.58 788.65 856.3 792.8C858.02 796.95 859.48 808.57 861.5 808.4C863.52 808.23 866.67 792.67 868.4 791.8C870.13 790.93 870.73 798.72 871.9 803.2C873.07 807.68 874.18 818.7 875.4 818.7C876.62 818.7 878.05 812 879.2 803.2C880.35 794.4 881.27 778.35 882.3 765.9C883.33 753.45 884.2 737.48 885.4 728.5C886.6 719.52 888.12 718.22 889.5 712C890.88 705.78 892.32 700.18 893.7 691.2C895.08 682.22 896.7 665 897.8 658.1C898.9 651.2 899.27 649.47 900.3 649.8C901.33 650.13 902.78 656.65 904 660.1C905.22 663.55 906.38 670.83 907.6 670.5C908.82 670.17 909.82 662.77 911.3 658.1C912.78 653.43 914.82 643.88 916.5 642.5C918.18 641.12 919.72 647.83 921.4 649.8C923.08 651.77 925.05 652.4 926.6 654.3C928.15 656.2 929.32 659.12 930.7 661.2C932.08 663.28 933.52 666.22 934.9 666.8C936.28 667.38 937.62 662.7 939 664.7C940.38 666.7 941.82 669.88 943.2 678.8C944.58 687.72 946.1 703 947.3 718.2C948.5 733.4 949.37 755.83 950.4 770C951.43 784.17 952.28 800.43 953.5 803.2C954.72 805.97 956.32 792.48 957.7 786.6C959.08 780.72 960.25 772.38 961.8 767.9C963.35 763.42 965.27 763.5 967 759.7C968.73 755.9 970.3 749.08 972.2 745.1C974.1 741.12 976.67 739.25 978.4 735.8C980.13 732.35 980.87 730.78 982.6 724.4C984.33 718.02 986.73 704.75 988.8 697.5C990.87 690.25 992.93 689.03 995 680.9C997.07 672.77 999.45 655.78 1001.2 648.7C1002.95 641.62 1003.87 637.88 1005.5 638.4C1007.13 638.92 1009.13 648.12 1011 651.8C1012.87 655.48 1014.72 661.72 1016.7 660.5C1018.68 659.28 1021 648.72 1022.9 644.5C1024.8 640.28 1026.37 633.98 1028.1 635.2C1029.83 636.42 1031.57 647.13 1033.3 651.8C1035.03 656.47 1036.62 663.37 1038.5 663.2C1040.38 663.03 1042.72 651.48 1044.6 650.8C1046.48 650.12 1048.25 657.03 1049.8 659.1C1051.35 661.17 1052.53 662.33 1053.9 663.2C1055.27 664.07 1056.62 661.7 1058 664.3C1059.38 666.9 1060.82 673.28 1062.2 678.8C1063.58 684.32 1065.1 693.43 1066.3 697.4C1067.5 701.37 1068.08 702.77 1069.4 702.6C1070.72 702.43 1072.63 695.18 1074.2 696.4C1075.77 697.62 1077.17 705.07 1078.8 709.9C1080.43 714.73 1082.1 724.72 1084 725.4C1085.9 726.08 1088.3 713.48 1090.2 714C1092.1 714.52 1093.85 723.48 1095.4 728.5C1096.95 733.52 1097.72 743.75 1099.5 744.1C1101.28 744.45 1104.2 730.78 1106.1 730.6C1108 730.42 1109.23 738.33 1110.9 743C1112.57 747.67 1115.23 756 1116.1 758.6" stroke="#0000ff" stroke-width="2.2" fill="none" stroke-linejoin="round"/><path d="M677.3 723.4C678.33 724.6 681.6 731.47 683.5 730.6C685.4 729.73 686.8 722 688.7 718.2C690.6 714.4 692.48 708.32 694.9 707.8C697.32 707.28 700.95 715.62 703.2 715.1C705.45 714.58 706.75 707.82 708.4 704.7C710.05 701.58 711.2 696.05 713.1 696.4C715 696.75 717.83 708.35 719.8 706.8C721.77 705.25 723.18 693.32 724.9 687.1C726.62 680.88 728.2 670.02 730.1 669.5C732 668.98 734.4 684.18 736.3 684C738.2 683.82 739.83 672.62 741.5 668.4C743.17 664.18 744.57 659.28 746.3 658.7C748.03 658.12 750.28 665 751.9 664.9C753.52 664.8 754.62 660.52 756 658.1C757.38 655.68 758.63 651.17 760.2 650.4C761.77 649.63 763.5 654.65 765.4 653.5C767.3 652.35 769.35 642.63 771.6 643.5C773.85 644.37 776.32 659.8 778.9 658.7C781.48 657.6 784.87 636.32 787.1 636.9C789.33 637.48 790.67 655.05 792.3 662.2C793.93 669.35 795.03 678.58 796.9 679.8C798.77 681.02 801.72 668.63 803.5 669.5C805.28 670.37 806.22 680 807.6 685C808.98 690 810.23 696.73 811.8 699.5C813.37 702.27 815.45 698.13 817 701.6C818.55 705.07 819.55 712.18 821.1 720.3C822.65 728.42 824.4 745.47 826.3 750.3C828.2 755.13 830.95 748.08 832.5 749.3C834.05 750.52 834.22 753.45 835.6 757.6C836.98 761.75 838.9 772.13 840.8 774.2C842.7 776.27 845.27 768.62 847 770C848.73 771.38 849.72 778 851.2 782.5C852.68 787 854.52 798.73 855.9 797C857.28 795.27 858.38 783.52 859.5 772.1C860.62 760.68 861.57 741.28 862.6 728.5C863.63 715.72 864.73 703.33 865.7 695.4C866.67 687.47 867.37 681.42 868.4 680.9C869.43 680.38 870.8 688.85 871.9 692.3C873 695.75 873.78 703.17 875 701.6C876.22 700.03 877.82 689.12 879.2 682.9C880.58 676.68 881.93 667.92 883.3 664.3C884.67 660.68 886.08 662.23 887.4 661.2C888.72 660.17 889.98 661.38 891.2 658.1C892.42 654.82 893.5 647.1 894.7 641.5C895.9 635.9 896.85 624.85 898.4 624.5C899.95 624.15 902.37 636.23 904 639.4C905.63 642.57 906.82 642.12 908.2 643.5C909.58 644.88 910.7 645.17 912.3 647.7C913.9 650.23 916.12 659.73 917.8 658.7C919.48 657.67 921.1 646.45 922.4 641.5C923.7 636.55 924.55 629 925.6 629C926.65 629 927.85 634.93 928.7 641.5C929.55 648.07 930.02 654.58 930.7 668.4C931.38 682.22 931.93 704.7 932.8 724.4C933.67 744.1 934.93 771.12 935.9 786.6C936.87 802.08 937.57 815.23 938.6 817.3C939.63 819.37 940.82 805.5 942.1 799C943.38 792.5 944.92 780.37 946.3 778.3C947.68 776.23 949.27 784 950.4 786.6C951.53 789.2 952.07 796.32 953.1 793.9C954.13 791.48 954.87 780.75 956.6 772.1C958.33 763.45 961.42 745.98 963.5 742C965.58 738.02 967.3 750.1 969.1 748.2C970.9 746.3 972.4 739.75 974.3 730.6C976.2 721.45 978.78 701.25 980.5 693.3C982.22 685.35 983.05 685.83 984.6 682.9C986.15 679.97 988.07 679.15 989.8 675.7C991.53 672.25 993.37 666.35 995 662.2C996.63 658.05 997.87 652.87 999.6 650.8C1001.33 648.73 1003.47 651.18 1005.4 649.8C1007.33 648.42 1009.32 644.58 1011.2 642.5C1013.08 640.42 1014.93 637.65 1016.7 637.3C1018.47 636.95 1020.1 639.37 1021.8 640.4C1023.5 641.43 1025.18 641.6 1026.9 643.5C1028.62 645.4 1030.42 649.03 1032.1 651.8C1033.78 654.57 1035.43 659.92 1037 660.1C1038.57 660.28 1040.07 654.9 1041.5 652.9C1042.93 650.9 1044.22 647.58 1045.6 648.1C1046.98 648.62 1048.58 651.92 1049.8 656C1051.02 660.08 1051.87 667.25 1052.9 672.6C1053.93 677.95 1054.8 684.65 1056 688.1C1057.2 691.55 1058.72 692.08 1060.1 693.3C1061.48 694.52 1062.75 694.02 1064.3 695.4C1065.85 696.78 1067.85 700.3 1069.4 701.6C1070.95 702.9 1072.22 702.93 1073.6 703.2C1074.98 703.47 1076.15 702.08 1077.7 703.2C1079.25 704.32 1081.33 707.75 1082.9 709.9C1084.47 712.05 1085.55 714.55 1087.1 716.1C1088.65 717.65 1090.65 717.65 1092.2 719.2C1093.75 720.75 1094.83 722.98 1096.4 725.4C1097.97 727.82 1099.87 731.62 1101.6 733.7C1103.33 735.78 1105.07 736.52 1106.8 737.9C1108.53 739.28 1110.45 740.97 1112 742C1113.55 743.03 1115.42 743.75 1116.1 744.1" stroke="#ff0000" stroke-width="2.2" fill="none" stroke-linejoin="round"/><path d="M842 899.6H951.7M951.7 889.4L962.7 899.6L951.7 909.7Z" stroke="#0000ff" stroke-width="1.3" fill="none"/><path d="M842 924.6H951.7M842 914.8L830.5 924.6L842 934.7Z" stroke="#ff0000" stroke-width="1.3" fill="none"/><path d="M984.7 901.8A11.5 12.4 0 0 1 984.7 926.6M984.7 914.8L973.7 924.6L984.7 934.7Z" stroke="#000" stroke-width="1.3" fill="none"/><path d="M677.3 1000.5h5.5M1116.5 1000.5h-5.5M677.3 899.12h5.5M1116.5 899.12h-5.5M677.3 797.74h5.5M1116.5 797.74h-5.5M677.3 696.36h5.5M1116.5 696.36h-5.5M677.3 594.98h5.5M1116.5 594.98h-5.5M677.3 1000.5v-5.5M677.3 595.5v5.5M896.9 1000.5v-5.5M896.9 595.5v5.5M1116.5 1000.5v-5.5M1116.5 595.5v5.5" stroke="#262626" stroke-width="1.4" fill="none"/><rect x="677.3" y="595.5" width="439.2" height="405.0" stroke="#262626" stroke-width="1.9" fill="none"/></g><text transform="translate(644.3 1011.27)" font-size="42.67">0</text><text transform="translate(644.28 909.4) scale(1.02 1)" font-size="41.96">2</text><text transform="translate(644.26 808.4) scale(0.98 1)" font-size="42.74">4</text><text transform="translate(643.74 707.77) scale(1.02 1)" font-size="42.83">6</text><text transform="translate(643.61 605.3) scale(1.12 1)" font-size="40.44">8</text><text transform="translate(658.65 1046.9) scale(1.07 1)" font-size="41.06">-2</text><text transform="translate(885.48 1048.39) scale(1.12 1)" font-size="41.04">0</text><text transform="translate(1105.31 1048.2) scale(1.07 1)" font-size="41.51">2</text><text transform="translate(677.85 586.66) scale(1.09 1)" font-size="47.41">×</text><text transform="translate(706.56 581.19) scale(1.07 1)" font-size="41.04">10</text><path d="M752.5 559H769.5" stroke="#262626" stroke-width="1.6"/><text transform="translate(769.61 567.41) scale(1.15 1)" font-size="29.14">3</text><text transform="translate(624.1 927.73) rotate(-90) scale(1.1 1)" font-size="42.9">T</text><text transform="translate(624.77 856.93) rotate(-90) scale(0.97 1)" font-size="46.28">(arb.units)</text><path fill="#262626" fill-rule="evenodd" d="M852 1097.8L866.95 1067.9L881.9 1097.8ZM855.15 1094.4L865.44 1073.83L875.73 1094.4Z"/><text transform="translate(883.94 1103.61) scale(1.14 1)" font-size="29.17">a</text><path d="M917.8 1066.5L902.9 1107.6" stroke="#262626" stroke-width="1.6"/><text transform="translate(920.88 1098.3) scale(1.04 1)" font-size="41.74" font-style="italic">κ</text><text transform="translate(-2.49 34.54) scale(0.95 1)" font-size="41.72" class="s">(a)</text><text transform="translate(-2.49 612.66) scale(0.97 1)" font-size="41.18" class="s">(b)</text><text transform="translate(567.64 43.98) scale(0.9 1)" font-size="42.04" class="s">(c)</text><text transform="translate(567.01 613.02) scale(0.99 1)" font-size="41.82" class="s">(d)</text></svg></body></html>
